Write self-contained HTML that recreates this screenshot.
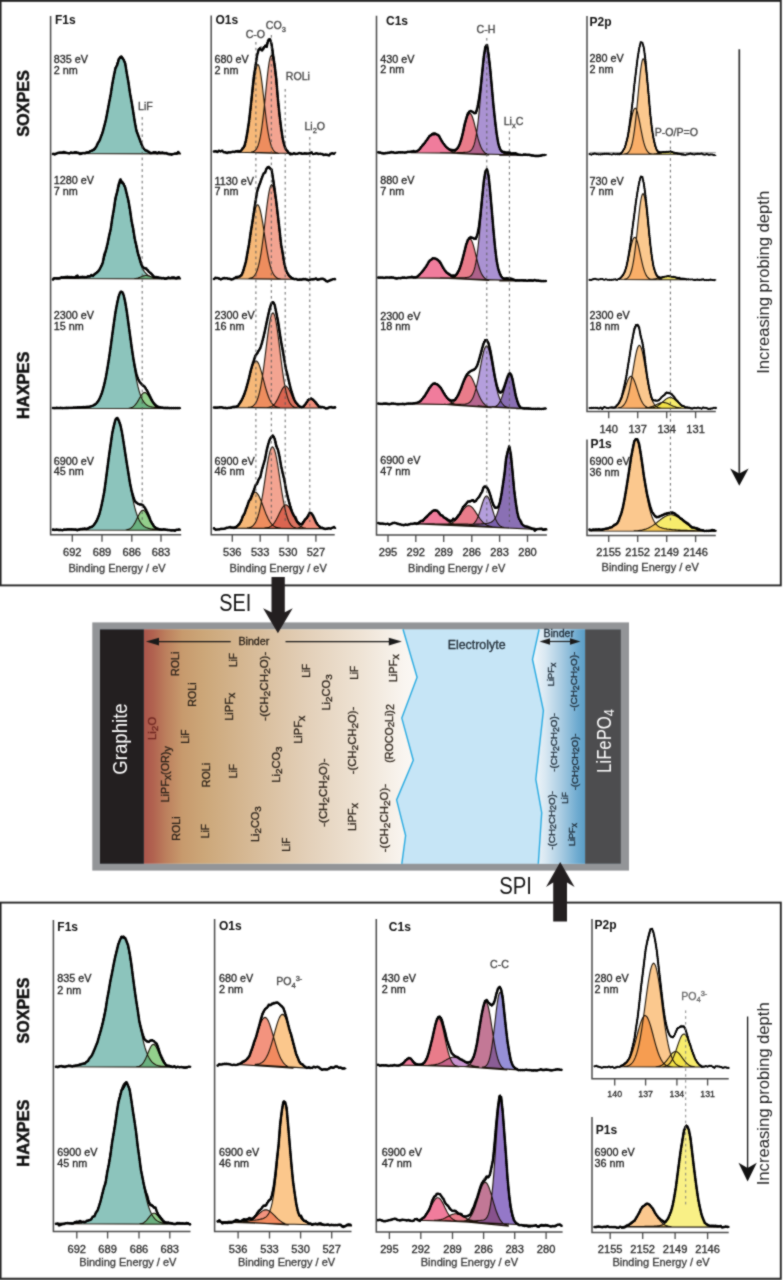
<!DOCTYPE html>
<html><head><meta charset="utf-8"><title>XPS depth profiling figure</title>
<style>html,body{margin:0;padding:0;background:#fff}svg{display:block}#fig{width:783px;height:1280px;overflow:hidden}.m{mix-blend-mode:multiply}</style></head>
<body>
<div id="fig">
<svg width="783" height="1280" viewBox="0 0 783 1280" font-family='"Liberation Sans", Arial, Helvetica, sans-serif'>
<defs><filter id="soft" x="0" y="0" width="783" height="1280" filterUnits="userSpaceOnUse" color-interpolation-filters="sRGB"><feConvolveMatrix order="3" kernelMatrix="1 2 1 2 10 2 1 2 1" divisor="22" edgeMode="duplicate" preserveAlpha="true"/></filter></defs>
<g filter="url(#soft)">
<rect width="783" height="1280" fill="#fff"/>
<rect x="0.6" y="0.9" width="780.2" height="584.5" fill="none" stroke="#262626" stroke-width="1.9"/>
<rect x="0.6" y="902.6" width="780.2" height="376.1" fill="none" stroke="#262626" stroke-width="1.9"/>
<path d="M53 153.2l.8 0 .8 0 .8 0 .8 0 .8 0 .8 0 .8 0 .8 0 .8 0 .8 0 .8 0 .8 0 .8 0 .8-.1 .8 0 .8 0 .8 0 .8 0 .8 0 .8 0 .8 0 .8 0 .8-.1 .8 0 .8 0 .8 0 .9 0 .8 0 .8-.1 .8 0 .8 0 .8 0 .8-.1 .8 0 .8-.1 .8 0 .8-.1 .8 0 .8-.1 .8-.1 .8-.1 .8-.1 .8-.2 .8-.2 .8-.2 .8-.3 .8-.3 .8-.4 .8-.5 .8-.6 .8-.6 .8-.8 .8-.8 .8-1.1 .8-1.1 .8-1.4 .8-1.5 .8-1.7 .8-2 .8-2.1 .8-2.4 .8-2.6 .8-2.9 .8-3.1 .8-3.3 .8-3.5 .8-3.8 .8-4 .8-4.1 .8-4.2 .8-4.4 .8-4.4 .8-4.4 .8-4.4 .8-4.2 .8-4.1 .8-3.9 .8-3.6 .8-3.3 .9-2.9 .8-2.4 .8-2 .8-1.4 .8-.9 .8-.3 .8 .4 .8 1.1 .8 1.9 .8 2.6 .8 3.2 .8 3.7 .8 4.3 .8 4.5 .8 4.9 .8 5 .8 5.2 .8 5.1 .8 5.1 .8 5 .8 4.7 .8 4.5 .8 4.3 .8 3.9 .8 3.7 .8 3.3 .8 3 .8 2.6 .8 2.4 .8 2 .8 1.8 .8 1.6 .8 1.3 .8 1.1 .8 .9 .8 .8 .8 .7 .8 .5 .8 .5 .8 .3 .8 .3 .8 .3 .8 .1 .8 .2 .8 .1 .8 .1 .8 .1 .8 .1 .8 0 .8 .1 .8 0 .8 .1 .8 0 .9 0 .8 0 .8 .1 .8 0 .8 0 .8 0 .8 0 .8 .1 .8 0 .8 0 .8 0 .8 0 .8 0 .8 0 .8 .1 .8 0 .8 0 .8 0 .8 0 .8 0 .8 0 .8 0 .8 0 .8 0 .8 0 .8 0 .8 .1 0 .2 -127.5-.4z" fill="#8cc4bc"/>
<path d="M53 153.2l.8 0 .8 0 .8 0 .8 0 .8 0 .8 0 .8 0 .8 0 .8 0 .8 0 .8 0 .8 0 .8 0 .8-.1 .8 0 .8 0 .8 0 .8 0 .8 0 .8 0 .8 0 .8 0 .8-.1 .8 0 .8 0 .8 0 .9 0 .8 0 .8-.1 .8 0 .8 0 .8 0 .8-.1 .8 0 .8-.1 .8 0 .8-.1 .8 0 .8-.1 .8-.1 .8-.1 .8-.1 .8-.2 .8-.2 .8-.2 .8-.3 .8-.3 .8-.4 .8-.5 .8-.6 .8-.6 .8-.8 .8-.8 .8-1.1 .8-1.1 .8-1.4 .8-1.5 .8-1.7 .8-2 .8-2.1 .8-2.4 .8-2.6 .8-2.9 .8-3.1 .8-3.3 .8-3.5 .8-3.8 .8-4 .8-4.1 .8-4.2 .8-4.4 .8-4.4 .8-4.4 .8-4.4 .8-4.2 .8-4.1 .8-3.9 .8-3.6 .8-3.3 .9-2.9 .8-2.4 .8-2 .8-1.4 .8-.9 .8-.3 .8 .4 .8 1.1 .8 1.9 .8 2.6 .8 3.2 .8 3.7 .8 4.3 .8 4.5 .8 4.9 .8 5 .8 5.2 .8 5.1 .8 5.1 .8 5 .8 4.7 .8 4.5 .8 4.3 .8 3.9 .8 3.7 .8 3.3 .8 3 .8 2.6 .8 2.4 .8 2 .8 1.8 .8 1.6 .8 1.3 .8 1.1 .8 .9 .8 .8 .8 .7 .8 .5 .8 .5 .8 .3 .8 .3 .8 .3 .8 .1 .8 .2 .8 .1 .8 .1 .8 .1 .8 .1 .8 0 .8 .1 .8 0 .8 .1 .8 0 .9 0 .8 0 .8 .1 .8 0 .8 0 .8 0 .8 0 .8 .1 .8 0 .8 0 .8 0 .8 0 .8 0 .8 0 .8 .1 .8 0 .8 0 .8 0 .8 0 .8 0 .8 0 .8 0 .8 0 .8 0 .8 0 .8 0 .8 .1 0 .2 -127.5-.4z" fill="none" stroke="#1a1208" stroke-width="1.1"/>
<path d="M59.4 153.2l.8 0 .8 0 .8 0 .8 0 .8 0 .8-.1 .8 0 .8 0 .8 0 .8 0 .8 0 .8 0 .8 0 .8 0 .8-.1 .8 0 .8 0 .8 0 .9 0 .8 0 .8-.1 .8 0 .8 0 .8 0 .8-.1 .8 0 .8-.1 .8 0 .8-.1 .8 0 .8-.1 .8-.1 .8-.1 .8-.1 .8-.2 .8-.2 .8-.2 .8-.3 .8-.3 .8-.4 .8-.5 .8-.6 .8-.6 .8-.8 .8-.8 .8-1.1 .8-1.1 .8-1.4 .8-1.5 .8-1.7 .8-2 .8-2.1 .8-2.4 .8-2.6 .8-2.9 .8-3.1 .8-3.3 .8-3.5 .8-3.8 .8-4 .8-4.1 .8-4.2 .8-4.4 .8-4.4 .8-4.4 .8-4.4 .8-4.2 .8-4.1 .8-3.9 .8-3.6 .8-3.3 .9-2.9 .8-2.4 .8-2 .8-1.4 .8-.9 .8-.3 .8 .4 .8 1.1 .8 1.9 .8 2.6 .8 3.2 .8 3.7 .8 4.3 .8 4.5 .8 4.9 .8 5 .8 5.2 .8 5.1 .8 5.1 .8 5 .8 4.7 .8 4.5 .8 4.3 .8 3.9 .8 3.7 .8 3.3 .8 3 .8 2.6 .8 2.4 .8 2 .8 1.8 .8 1.6 .8 1.3 .8 1.1 .8 .9 .8 .8 .8 .7 .8 .5 .8 .5 .8 .3 .8 .3 .8 .3 .8 .1 .8 .2 .8 .1 .8 .1 .8 .1 .8 .1 .8 0 .8 .1 .8 0 .8 .1 .8 0 .9 0 .8 0 .8 .1 .8 0 .8 0 .8 0 .8 0 .8 .1 .8 0 .8 0 .8 0 .8 0 .8 0 .8 0 .8 .1 .8 0 .8 0 .8 0 .8 0" fill="none" stroke="#111" stroke-width=".9"/>
<g fill="none" stroke="#000" stroke-linejoin="round" stroke-linecap="round"><path d="M53 154l1.6 .4 1.6-.6 1.6-.8 1.6-.5 1.6 .4 1.6-.5 1.6-.4 1.6 .7 1.6 .3 1.6 .4 1.6-.8 1.6 .2 1.6 .1 1.7-.9 1.6 .8 1.6 .2 1.6 1.3 1.6-.8 1.6-.7 1.6 .5 1.6-.6 1.6-.1 1.6-1.2 1.6-.6 1.6-.5 1.6-1.3 1.6-2.3 1.6-3.6 1.6-2.5 1.6-4.1 1.6-4.4 1.6-6.1 1.6-6.1 1.6-8.5 1.6-8.5 1.6-8.2 1.6-10.6 1.6-8.4 1.6-7.6 1.7-3.1 1.6-5.7 1.6-1.9 1.6 .2 1.6 2 1.6 3.7 1.6 10.1 1.6 8.8 1.6 11.1 1.6 8.5 1.6 9.9 1.6 10.5 1.6 8.4 1.6 4.3 1.6 4.1 1.6 4.5 1.6 3.8 1.6 2 1.6 1.5 1.6 .2 1.6 1.3 1.6 1 1.6-.4 1.6-.7 1.6 .1 1.6 1 1.6-1 1.7 .5 1.6-.2 1.6 .4 1.6 .1 1.6 .2 1.6 1 1.6-.1 1.6 .4 1.6-.6 1.6-.5 1.6 .3 1.6-1.7 1.6 .8" stroke-width="1.7"/><path d="M53 154l1.6 .4 1.6-.6 1.6-.8 1.6-.5 1.6 .4 1.6-.5 1.6-.4 1.6 .7 1.6 .3 1.6 .4 1.6-.8 1.6 .2 1.6 .1 1.7-.9 1.6 .8 1.6 .2 1.6 1.3 1.6-.8 1.6-.7 1.6 .5 1.6-.6 1.6-.1 1.6-1.2 1.6-.6 1.6-.5 1.6-1.3 1.6-2.3 1.6-3.6 1.6-2.5 1.6-4.1 1.6-4.4 1.6-6.1 1.6-6.1 1.6-8.5 1.6-8.5 1.6-8.2 1.6-10.6 1.6-8.4 1.6-7.6 1.7-3.1 1.6-5.7 1.6-1.9 1.6 .2 1.6 2 1.6 3.7 1.6 10.1 1.6 8.8 1.6 11.1 1.6 8.5 1.6 9.9 1.6 10.5 1.6 8.4 1.6 4.3 1.6 4.1 1.6 4.5 1.6 3.8 1.6 2 1.6 1.5 1.6 .2 1.6 1.3 1.6 1 1.6-.4 1.6-.7 1.6 .1 1.6 1 1.6-1 1.7 .5 1.6-.2 1.6 .4 1.6 .1 1.6 .2 1.6 1 1.6-.1 1.6 .4 1.6-.6 1.6-.5 1.6 .3 1.6-1.7 1.6 .8" stroke-width="2.7" stroke-dasharray="0 1.9"/></g>
<path d="M53 278.1l.8 0 .8 0 .8 0 .8 0 .8 0 .8-.1 .8 0 .8 0 .8 0 .8 0 .8 0 .8 0 .8 0 .8-.1 .8 0 .8 0 .8 0 .8 0 .8 0 .8-.1 .8 0 .8 0 .8 0 .8 0 .8-.1 .8 0 .9 0 .8 0 .8-.1 .8 0 .8 0 .8-.1 .8 0 .8 0 .8-.1 .8 0 .8-.1 .8 0 .8-.1 .8-.1 .8 0 .8-.1 .8-.1 .8-.2 .8-.1 .8-.2 .8-.1 .8-.3 .8-.2 .8-.4 .8-.4 .8-.4 .8-.6 .8-.6 .8-.8 .8-.9 .8-1 .8-1.2 .8-1.4 .8-1.6 .8-1.8 .8-2 .8-2.3 .8-2.5 .8-2.8 .8-3.1 .8-3.4 .8-3.6 .8-3.9 .8-4.1 .8-4.3 .8-4.4 .8-4.6 .8-4.7 .8-4.7 .8-4.6 .8-4.6 .8-4.3 .8-4.1 .9-3.8 .8-3.3 .8-2.9 .8-2.3 .8-1.7 .8-1.1 .8-.3 .8 .3 .8 1.2 .8 1.8 .8 2.5 .8 3.2 .8 3.6 .8 4.1 .8 4.4 .8 4.7 .8 4.9 .8 4.9 .8 5 .8 4.9 .8 4.8 .8 4.6 .8 4.4 .8 4.1 .8 3.9 .8 3.6 .8 3.2 .8 3 .8 2.7 .8 2.4 .8 2.1 .8 1.8 .8 1.6 .8 1.4 .8 1.2 .8 1.1 .8 .8 .8 .8 .8 .6 .8 .5 .8 .4 .8 .4 .8 .3 .8 .2 .8 .2 .8 .2 .8 .1 .8 .2 .8 .1 .8 .1 .8 0 .8 .1 .8 .1 .9 0 .8 .1 .8 0 .8 .1 .8 0 .8 0 .8 .1 .8 0 .8 0 .8 .1 .8 0 .8 0 .8 .1 .8 0 .8 0 .8 0 .8 0 .8 .1 .8 0 .8 0 .8 0 .8 0 .8 0 .8 .1 .8 0 .8 0 .8 0 0 .5 -127.5-.5z" fill="#8cc4bc"/>
<path d="M134.8 278.7l.8-.2 .8-.1 .8-.2 .8-.2 .8-.3 .8-.3 .8-.3 .8-.3 .8-.4 .8-.3 .8-.2 .8-.2 .8-.2 .8 0 .8 0 .8 .2 .8 .2 .8 .2 .8 .4 .8 .3 .8 .3 .8 .4 .8 .3 .8 .2 .8 .3 .8 .2 .8 .1 .8 .1 0 .3 -22.4-.1z" fill="#93d08c"/>
<path d="M134.8 278.7l.8-.2 .8-.1 .8-.2 .8-.2 .8-.3 .8-.3 .8-.3 .8-.3 .8-.4 .8-.3 .8-.2 .8-.2 .8-.2 .8 0 .8 0 .8 .2 .8 .2 .8 .2 .8 .4 .8 .3 .8 .3 .8 .4 .8 .3 .8 .2 .8 .3 .8 .2 .8 .1 .8 .1 0 .3 -22.4-.1z" fill="#6ab180"/>
<path d="M53 278.1l.8 0 .8 0 .8 0 .8 0 .8 0 .8-.1 .8 0 .8 0 .8 0 .8 0 .8 0 .8 0 .8 0 .8-.1 .8 0 .8 0 .8 0 .8 0 .8 0 .8-.1 .8 0 .8 0 .8 0 .8 0 .8-.1 .8 0 .9 0 .8 0 .8-.1 .8 0 .8 0 .8-.1 .8 0 .8 0 .8-.1 .8 0 .8-.1 .8 0 .8-.1 .8-.1 .8 0 .8-.1 .8-.1 .8-.2 .8-.1 .8-.2 .8-.1 .8-.3 .8-.2 .8-.4 .8-.4 .8-.4 .8-.6 .8-.6 .8-.8 .8-.9 .8-1 .8-1.2 .8-1.4 .8-1.6 .8-1.8 .8-2 .8-2.3 .8-2.5 .8-2.8 .8-3.1 .8-3.4 .8-3.6 .8-3.9 .8-4.1 .8-4.3 .8-4.4 .8-4.6 .8-4.7 .8-4.7 .8-4.6 .8-4.6 .8-4.3 .8-4.1 .9-3.8 .8-3.3 .8-2.9 .8-2.3 .8-1.7 .8-1.1 .8-.3 .8 .3 .8 1.2 .8 1.8 .8 2.5 .8 3.2 .8 3.6 .8 4.1 .8 4.4 .8 4.7 .8 4.9 .8 4.9 .8 5 .8 4.9 .8 4.8 .8 4.6 .8 4.4 .8 4.1 .8 3.9 .8 3.6 .8 3.2 .8 3 .8 2.7 .8 2.4 .8 2.1 .8 1.8 .8 1.6 .8 1.4 .8 1.2 .8 1.1 .8 .8 .8 .8 .8 .6 .8 .5 .8 .4 .8 .4 .8 .3 .8 .2 .8 .2 .8 .2 .8 .1 .8 .2 .8 .1 .8 .1 .8 0 .8 .1 .8 .1 .9 0 .8 .1 .8 0 .8 .1 .8 0 .8 0 .8 .1 .8 0 .8 0 .8 .1 .8 0 .8 0 .8 .1 .8 0 .8 0 .8 0 .8 0 .8 .1 .8 0 .8 0 .8 0 .8 0 .8 0 .8 .1 .8 0 .8 0 .8 0 0 .5 -127.5-.5zM134.8 278.7l.8-.2 .8-.1 .8-.2 .8-.2 .8-.3 .8-.3 .8-.3 .8-.3 .8-.4 .8-.3 .8-.2 .8-.2 .8-.2 .8 0 .8 0 .8 .2 .8 .2 .8 .2 .8 .4 .8 .3 .8 .3 .8 .4 .8 .3 .8 .2 .8 .3 .8 .2 .8 .1 .8 .1 0 .3 -22.4-.1z" fill="none" stroke="#1a1208" stroke-width="1.1"/>
<path d="M53 278.1l.8 0 .8 0 .8 0 .8 0 .8 0 .8-.1 .8 0 .8 0 .8 0 .8 0 .8 0 .8 0 .8 0 .8-.1 .8 0 .8 0 .8 0 .8 0 .8 0 .8-.1 .8 0 .8 0 .8 0 .8 0 .8-.1 .8 0 .9 0 .8 0 .8-.1 .8 0 .8 0 .8-.1 .8 0 .8 0 .8-.1 .8 0 .8-.1 .8 0 .8-.1 .8-.1 .8 0 .8-.1 .8-.1 .8-.2 .8-.1 .8-.2 .8-.1 .8-.3 .8-.2 .8-.4 .8-.4 .8-.4 .8-.6 .8-.6 .8-.8 .8-.9 .8-1 .8-1.2 .8-1.4 .8-1.6 .8-1.8 .8-2 .8-2.3 .8-2.5 .8-2.8 .8-3.1 .8-3.4 .8-3.6 .8-3.9 .8-4.1 .8-4.3 .8-4.4 .8-4.6 .8-4.7 .8-4.7 .8-4.6 .8-4.6 .8-4.3 .8-4.1 .9-3.8 .8-3.3 .8-2.9 .8-2.3 .8-1.7 .8-1.1 .8-.3 .8 .3 .8 1.2 .8 1.8 .8 2.5 .8 3.2 .8 3.6 .8 4.1 .8 4.4 .8 4.7 .8 4.9 .8 4.9 .8 5 .8 4.8 .8 4.8 .8 4.5 .8 4.3 .8 4 .8 3.7 .8 3.4 .8 3.1 .8 2.7 .8 2.3 .8 2.1 .8 1.8 .8 1.5 .8 1.3 .8 1.1 .8 1 .8 .9 .8 .8 .8 .8 .8 .7 .8 .8 .8 .7 .8 .6 .8 .7 .8 .6 .8 .5 .8 .5 .8 .4 .8 .3 .8 .3 .8 .3 .8 .2 .8 .1 .8 .1 .9 .1 .8 .1 .8 .1 .8 .1 .8 0 .8 0 .8 .1 .8 0 .8 0 .8 .1 .8 0 .8 0 .8 .1 .8 0 .8 0 .8 0 .8 0 .8 .1 .8 0 .8 0 .8 0 .8 0 .8 0 .8 .1 .8 0 .8 0 .8 0" fill="none" stroke="#111" stroke-width=".9"/>
<g fill="none" stroke="#000" stroke-linejoin="round" stroke-linecap="round"><path d="M53 279.5l1.6-1.2 1.6 .1 1.6-.1 1.6 .3 1.6-1.2 1.6 .1 1.6-.2 1.6-.3 1.6-.1 1.6 .2 1.6 .2 1.6-.3 1.6 .6 1.7-.3 1.6-1.8 1.6 1.8 1.6-.2 1.6-.3 1.6 .4 1.6 0 1.6-.2 1.6-.8 1.6 .1 1.6-1.3 1.6 .9 1.6-2 1.6-.9 1.6-1.4 1.6-2 1.6-3.2 1.6-3.4 1.6-8.2 1.6-4.4 1.6-6.4 1.6-8 1.6-6.7 1.6-11.1 1.6-9.1 1.6-11.2 1.7-6.1 1.6-7.8 1.6-4.7 1.6 3.3 1.6 1.5 1.6 3.5 1.6 6.6 1.6 6.4 1.6 9.2 1.6 11.4 1.6 7.6 1.6 10.4 1.6 6.5 1.6 7.7 1.6 4.6 1.6 6 1.6 3.2 1.6 1 1.6 .2 1.6 1.7 1.6 2.1 1.6 .9 1.6 1.9 1.6 1.7 1.6 .3 1.6 0 1.6 .9 1.7-.2 1.6 .6 1.6-.4 1.6 1.1 1.6-.7 1.6-.7 1.6 .4 1.6-.3 1.6-.3 1.6 .4 1.6 .8 1.6-1.5 1.6 .7" stroke-width="1.7"/><path d="M53 279.5l1.6-1.2 1.6 .1 1.6-.1 1.6 .3 1.6-1.2 1.6 .1 1.6-.2 1.6-.3 1.6-.1 1.6 .2 1.6 .2 1.6-.3 1.6 .6 1.7-.3 1.6-1.8 1.6 1.8 1.6-.2 1.6-.3 1.6 .4 1.6 0 1.6-.2 1.6-.8 1.6 .1 1.6-1.3 1.6 .9 1.6-2 1.6-.9 1.6-1.4 1.6-2 1.6-3.2 1.6-3.4 1.6-8.2 1.6-4.4 1.6-6.4 1.6-8 1.6-6.7 1.6-11.1 1.6-9.1 1.6-11.2 1.7-6.1 1.6-7.8 1.6-4.7 1.6 3.3 1.6 1.5 1.6 3.5 1.6 6.6 1.6 6.4 1.6 9.2 1.6 11.4 1.6 7.6 1.6 10.4 1.6 6.5 1.6 7.7 1.6 4.6 1.6 6 1.6 3.2 1.6 1 1.6 .2 1.6 1.7 1.6 2.1 1.6 .9 1.6 1.9 1.6 1.7 1.6 .3 1.6 0 1.6 .9 1.7-.2 1.6 .6 1.6-.4 1.6 1.1 1.6-.7 1.6-.7 1.6 .4 1.6-.3 1.6-.3 1.6 .4 1.6 .8 1.6-1.5 1.6 .7" stroke-width="2.7" stroke-dasharray="0 1.9"/></g>
<path d="M53 408l.8 0 .8 0 .8 0 .8 0 .8 0 .8 0 .8 0 .8-.1 .8 0 .8 0 .8 0 .8 0 .8 0 .8 0 .8 0 .8 0 .8-.1 .8 0 .8 0 .8 0 .8 0 .8 0 .8 0 .8-.1 .8 0 .8 0 .9 0 .8 0 .8-.1 .8 0 .8 0 .8 0 .8-.1 .8 0 .8 0 .8-.1 .8 0 .8 0 .8-.1 .8 0 .8-.1 .8-.1 .8-.1 .8-.1 .8-.1 .8-.2 .8-.1 .8-.3 .8-.2 .8-.4 .8-.4 .8-.4 .8-.6 .8-.8 .8-.8 .8-1 .8-1.2 .8-1.4 .8-1.7 .8-1.9 .8-2.2 .8-2.5 .8-2.9 .8-3.2 .8-3.6 .8-3.9 .8-4.3 .8-4.6 .8-5 .8-5.3 .8-5.5 .8-5.8 .8-5.9 .8-5.9 .8-6 .8-5.8 .8-5.6 .8-5.4 .8-4.9 .9-4.4 .8-3.8 .8-3.1 .8-2.3 .8-1.5 .8-.6 .8 .3 .8 1.3 .8 2.3 .8 3 .8 3.9 .8 4.6 .8 5.1 .8 5.6 .8 5.9 .8 6.1 .8 6.2 .8 6.2 .8 6.2 .8 5.9 .8 5.7 .8 5.5 .8 5 .8 4.7 .8 4.4 .8 3.9 .8 3.5 .8 3.1 .8 2.8 .8 2.4 .8 2.1 .8 1.7 .8 1.6 .8 1.2 .8 1.1 .8 .9 .8 .8 .8 .6 .8 .5 .8 .4 .8 .3 .8 .3 .8 .2 .8 .2 .8 .1 .8 .2 .8 .1 .8 .1 .8 0 .8 .1 .8 0 .8 .1 .8 0 .9 .1 .8 0 .8 0 .8 .1 .8 0 .8 0 .8 0 .8 .1 .8 0 .8 0 .8 0 .8 0 .8 .1 .8 0 .8 0 .8 0 .8 0 .8 0 .8 .1 .8 0 .8 0 .8 0 .8 0 .8 0 .8 0 .8 0 .8 0 0 .4 -127.5-.2z" fill="#8cc4bc"/>
<path d="M129.2 408.2l.8-.2 .8-.2 .8-.3 .8-.3 .8-.5 .8-.6 .8-.8 .8-.9 .8-1 .8-1.2 .8-1.3 .8-1.4 .8-1.4 .8-1.4 .8-1.3 .8-1.1 .8-.9 .8-.6 .8-.3 .8 .1 .8 .3 .8 .7 .8 1 .8 1.2 .8 1.3 .8 1.4 .8 1.4 .8 1.4 .8 1.2 .8 1.2 .8 1 .8 .9 .8 .7 .8 .6 .8 .4 .8 .4 .8 .2 .9 .2 .8 .1 0 .3 -31.3 0z" fill="#93d08c"/>
<path d="M129.2 408.2l.8-.2 .8-.2 .8-.3 .8-.3 .8-.5 .8-.6 .8-.8 .8-.9 .8-1 .8-1.2 .8-1.3 .8-1.4 .8-1.4 .8-1.4 .8 .4 .8 1.7 .8 1.6 .8 1.2 .8 1.1 .8 .9 .8 .8 .8 .6 .8 .5 .8 .4 .8 .3 .8 .3 .8 .2 .8 .2 .8 .1 .8 .2 .8 .1 .8 .1 .8 0 .8 .1 .8 0 .8 .2 .8 .2 .9 .2 .8 .1 0 .3 -31.3 0z" fill="#6ab180"/>
<path d="M53 408l.8 0 .8 0 .8 0 .8 0 .8 0 .8 0 .8 0 .8-.1 .8 0 .8 0 .8 0 .8 0 .8 0 .8 0 .8 0 .8 0 .8-.1 .8 0 .8 0 .8 0 .8 0 .8 0 .8 0 .8-.1 .8 0 .8 0 .9 0 .8 0 .8-.1 .8 0 .8 0 .8 0 .8-.1 .8 0 .8 0 .8-.1 .8 0 .8 0 .8-.1 .8 0 .8-.1 .8-.1 .8-.1 .8-.1 .8-.1 .8-.2 .8-.1 .8-.3 .8-.2 .8-.4 .8-.4 .8-.4 .8-.6 .8-.8 .8-.8 .8-1 .8-1.2 .8-1.4 .8-1.7 .8-1.9 .8-2.2 .8-2.5 .8-2.9 .8-3.2 .8-3.6 .8-3.9 .8-4.3 .8-4.6 .8-5 .8-5.3 .8-5.5 .8-5.8 .8-5.9 .8-5.9 .8-6 .8-5.8 .8-5.6 .8-5.4 .8-4.9 .9-4.4 .8-3.8 .8-3.1 .8-2.3 .8-1.5 .8-.6 .8 .3 .8 1.3 .8 2.3 .8 3 .8 3.9 .8 4.6 .8 5.1 .8 5.6 .8 5.9 .8 6.1 .8 6.2 .8 6.2 .8 6.2 .8 5.9 .8 5.7 .8 5.5 .8 5 .8 4.7 .8 4.4 .8 3.9 .8 3.5 .8 3.1 .8 2.8 .8 2.4 .8 2.1 .8 1.7 .8 1.6 .8 1.2 .8 1.1 .8 .9 .8 .8 .8 .6 .8 .5 .8 .4 .8 .3 .8 .3 .8 .2 .8 .2 .8 .1 .8 .2 .8 .1 .8 .1 .8 0 .8 .1 .8 0 .8 .1 .8 0 .9 .1 .8 0 .8 0 .8 .1 .8 0 .8 0 .8 0 .8 .1 .8 0 .8 0 .8 0 .8 0 .8 .1 .8 0 .8 0 .8 0 .8 0 .8 0 .8 .1 .8 0 .8 0 .8 0 .8 0 .8 0 .8 0 .8 0 .8 0 0 .4 -127.5-.2zM129.2 408.2l.8-.2 .8-.2 .8-.3 .8-.3 .8-.5 .8-.6 .8-.8 .8-.9 .8-1 .8-1.2 .8-1.3 .8-1.4 .8-1.4 .8-1.4 .8-1.3 .8-1.1 .8-.9 .8-.6 .8-.3 .8 .1 .8 .3 .8 .7 .8 1 .8 1.2 .8 1.3 .8 1.4 .8 1.4 .8 1.4 .8 1.2 .8 1.2 .8 1 .8 .9 .8 .7 .8 .6 .8 .4 .8 .4 .8 .2 .9 .2 .8 .1 0 .3 -31.3 0z" fill="none" stroke="#1a1208" stroke-width="1.1"/>
<path d="M53.8 408l.8 0 .8 0 .8 0 .8 0 .8 0 .8 0 .8-.1 .8 0 .8 0 .8 0 .8 0 .8 0 .8 0 .8 0 .8 0 .8-.1 .8 0 .8 0 .8 0 .8 0 .8 0 .8 0 .8-.1 .8 0 .8 0 .9 0 .8 0 .8-.1 .8 0 .8 0 .8 0 .8-.1 .8 0 .8 0 .8-.1 .8 0 .8 0 .8-.1 .8 0 .8-.1 .8-.1 .8-.1 .8-.1 .8-.1 .8-.2 .8-.1 .8-.3 .8-.2 .8-.4 .8-.4 .8-.4 .8-.6 .8-.8 .8-.8 .8-1 .8-1.2 .8-1.4 .8-1.7 .8-1.9 .8-2.2 .8-2.5 .8-2.9 .8-3.2 .8-3.6 .8-3.9 .8-4.3 .8-4.6 .8-5 .8-5.3 .8-5.5 .8-5.8 .8-5.9 .8-5.9 .8-6 .8-5.8 .8-5.6 .8-5.4 .8-4.9 .9-4.4 .8-3.8 .8-3.1 .8-2.3 .8-1.5 .8-.6 .8 .3 .8 1.3 .8 2.2 .8 3.1 .8 3.9 .8 4.5 .8 5.1 .8 5.5 .8 5.9 .8 6 .8 6.1 .8 6 .8 5.8 .8 5.6 .8 5.3 .8 4.8 .8 4.3 .8 3.8 .8 3.2 .8 2.8 .8 2.2 .8 1.7 .8 1.3 .8 1.1 .8 .8 .8 .6 .8 .7 .8 .7 .8 .7 .8 1 .8 1.1 .8 1.3 .8 1.5 .8 1.6 .8 1.6 .8 1.7 .8 1.6 .8 1.6 .8 1.4 .8 1.3 .8 1.1 .8 .9 .8 .8 .8 .6 .8 .6 .8 .3 .8 .3 .9 .3 .8 .1 .8 .2 .8 .1 .8 0 .8 .1 .8 0 .8 0 .8 .1 .8 0 .8 0 .8 0 .8 .1 .8 0 .8 0 .8 0 .8 0 .8 0 .8 .1 .8 0 .8 0 .8 0 .8 0 .8 0 .8 0 .8 0 .8 0" fill="none" stroke="#111" stroke-width=".9"/>
<g fill="none" stroke="#000" stroke-linejoin="round" stroke-linecap="round"><path d="M53 408l1.6 .1 1.6-.2 1.6 .1 1.6 0 1.6-.1 1.6 .2 1.6-.1 1.6-.1 1.6 0 1.6 .1 1.6-.2 1.6 0 1.6-.2 1.7 0 1.6-.1 1.6-.1 1.6-.1 1.6-.1 1.6 0 1.6 0 1.6-.2 1.6-.1 1.6-.4 1.6-.3 1.6-.6 1.6-.8 1.6-1.4 1.6-1.9 1.6-2.8 1.6-3.5 1.6-4.9 1.6-6.1 1.6-7.1 1.6-9.3 1.6-9.9 1.6-11.2 1.6-12 1.6-11.6 1.6-10.9 1.7-9.2 1.6-7.1 1.6-4 1.6-.3 1.6 3.3 1.6 7.1 1.6 9.6 1.6 11.7 1.6 11.6 1.6 11.9 1.6 10.8 1.6 9 1.6 7.6 1.6 4.5 1.6 3.2 1.6 1.9 1.6 1.7 1.6 1 1.6 2.4 1.6 2.6 1.6 3.3 1.6 3.2 1.6 3.1 1.6 2.3 1.6 1.7 1.6 1.3 1.6 .8 1.7 .1 1.6 .4 1.6 .2 1.6 0 1.6 0 1.6 0 1.6 .2 1.6 0 1.6 0 1.6 0 1.6 0 1.6 0 1.6-.1" stroke-width="1.7"/><path d="M53 408l1.6 .1 1.6-.2 1.6 .1 1.6 0 1.6-.1 1.6 .2 1.6-.1 1.6-.1 1.6 0 1.6 .1 1.6-.2 1.6 0 1.6-.2 1.7 0 1.6-.1 1.6-.1 1.6-.1 1.6-.1 1.6 0 1.6 0 1.6-.2 1.6-.1 1.6-.4 1.6-.3 1.6-.6 1.6-.8 1.6-1.4 1.6-1.9 1.6-2.8 1.6-3.5 1.6-4.9 1.6-6.1 1.6-7.1 1.6-9.3 1.6-9.9 1.6-11.2 1.6-12 1.6-11.6 1.6-10.9 1.7-9.2 1.6-7.1 1.6-4 1.6-.3 1.6 3.3 1.6 7.1 1.6 9.6 1.6 11.7 1.6 11.6 1.6 11.9 1.6 10.8 1.6 9 1.6 7.6 1.6 4.5 1.6 3.2 1.6 1.9 1.6 1.7 1.6 1 1.6 2.4 1.6 2.6 1.6 3.3 1.6 3.2 1.6 3.1 1.6 2.3 1.6 1.7 1.6 1.3 1.6 .8 1.7 .1 1.6 .4 1.6 .2 1.6 0 1.6 0 1.6 0 1.6 .2 1.6 0 1.6 0 1.6 0 1.6 0 1.6 0 1.6-.1" stroke-width="2.7" stroke-dasharray="0 1.9"/></g>
<path d="M53 529.7l.8 0 .8 0 .8 0 .8 0 .8 0 .8 0 .8 0 .8 0 .8 0 .8-.1 .8 0 .8 0 .8 0 .8 0 .8 0 .8 0 .8 0 .8 0 .8-.1 .8 0 .8 0 .8 0 .8 0 .8 0 .8-.1 .8 0 .9 0 .8 0 .8-.1 .8 0 .8 0 .8 0 .8-.1 .8 0 .8 0 .8-.1 .8 0 .8-.1 .8-.1 .8 0 .8-.1 .8-.1 .8-.2 .8-.2 .8-.2 .8-.2 .8-.4 .8-.4 .8-.4 .8-.7 .8-.7 .8-.9 .8-1.1 .8-1.3 .8-1.6 .8-1.9 .8-2.1 .8-2.5 .8-2.9 .8-3.3 .8-3.6 .8-4.1 .8-4.5 .8-4.9 .8-5.2 .8-5.6 .8-5.9 .8-6 .8-6.1 .8-6.2 .8-6.1 .8-5.8 .8-5.5 .8-5.1 .8-4.5 .8-3.7 .8-2.9 .8-2.1 .8-1 .9-.1 .8 .7 .8 1.5 .8 2.2 .8 2.8 .8 3.4 .8 4 .8 4.3 .8 4.8 .8 5 .8 5.2 .8 5.4 .8 5.3 .8 5.4 .8 5.2 .8 5.1 .8 4.9 .8 4.7 .8 4.4 .8 4.1 .8 3.8 .8 3.5 .8 3.2 .8 2.9 .8 2.6 .8 2.3 .8 2.1 .8 1.7 .8 1.6 .8 1.3 .8 1.2 .8 1 .8 .8 .8 .8 .8 .6 .8 .5 .8 .4 .8 .3 .8 .3 .8 .3 .8 .1 .8 .2 .8 .2 .8 .1 .8 .1 .8 0 .8 .1 .8 .1 .8 0 .8 .1 .8 0 .8 .1 .8 0 .9 0 .8 .1 .8 0 .8 0 .8 0 .8 0 .8 .1 .8 0 .8 0 .8 0 .8 0 .8 .1 .8 0 .8 0 .8 0 .8 0 .8 0 .8 0 .8 .1 .8 0 .8 0 .8 0 .8 0 .8 0 .8 0 .8 0 .8 0 0 .4 -127.5-.3z" fill="#8cc4bc"/>
<path d="M126 530l.8-.2 .8-.2 .8-.2 .8-.3 .8-.5 .8-.5 .8-.7 .8-.9 .8-1 .8-1.2 .8-1.4 .8-1.5 .8-1.6 .8-1.7 .8-1.6 .8-1.6 .8-1.5 .8-1.2 .8-1 .8-.6 .8-.3 .8 .1 .8 .5 .8 .8 .8 1.1 .8 1.4 .8 1.5 .8 1.7 .8 1.7 .8 1.6 .8 1.6 .8 1.4 .8 1.3 .8 1.1 .8 .9 .8 .8 .8 .6 .8 .5 .8 .4 .8 .3 .8 .2 .9 .2 .8 .1 0 .2 -34.5-.1z" fill="#93d08c"/>
<path d="M126 530l.8-.2 .8-.2 .8-.2 .8-.3 .8-.5 .8-.5 .8-.7 .8-.9 .8-1 .8-1.2 .8-1.4 .8-1.5 .8-1.6 .8-1.7 .8-.5 .8 1.7 .8 1.6 .8 1.3 .8 1.2 .8 1 .8 .8 .8 .8 .8 .6 .8 .5 .8 .4 .8 .3 .8 .3 .8 .3 .8 .1 .8 .2 .8 .2 .8 .1 .8 .1 .8 0 .8 .1 .8 .1 .8 0 .8 .1 .8 0 .8 .2 .8 .2 .9 .2 .8 .1 0 .2 -34.5-.1z" fill="#6ab180"/>
<path d="M53 529.7l.8 0 .8 0 .8 0 .8 0 .8 0 .8 0 .8 0 .8 0 .8 0 .8-.1 .8 0 .8 0 .8 0 .8 0 .8 0 .8 0 .8 0 .8 0 .8-.1 .8 0 .8 0 .8 0 .8 0 .8 0 .8-.1 .8 0 .9 0 .8 0 .8-.1 .8 0 .8 0 .8 0 .8-.1 .8 0 .8 0 .8-.1 .8 0 .8-.1 .8-.1 .8 0 .8-.1 .8-.1 .8-.2 .8-.2 .8-.2 .8-.2 .8-.4 .8-.4 .8-.4 .8-.7 .8-.7 .8-.9 .8-1.1 .8-1.3 .8-1.6 .8-1.9 .8-2.1 .8-2.5 .8-2.9 .8-3.3 .8-3.6 .8-4.1 .8-4.5 .8-4.9 .8-5.2 .8-5.6 .8-5.9 .8-6 .8-6.1 .8-6.2 .8-6.1 .8-5.8 .8-5.5 .8-5.1 .8-4.5 .8-3.7 .8-2.9 .8-2.1 .8-1 .9-.1 .8 .7 .8 1.5 .8 2.2 .8 2.8 .8 3.4 .8 4 .8 4.3 .8 4.8 .8 5 .8 5.2 .8 5.4 .8 5.3 .8 5.4 .8 5.2 .8 5.1 .8 4.9 .8 4.7 .8 4.4 .8 4.1 .8 3.8 .8 3.5 .8 3.2 .8 2.9 .8 2.6 .8 2.3 .8 2.1 .8 1.7 .8 1.6 .8 1.3 .8 1.2 .8 1 .8 .8 .8 .8 .8 .6 .8 .5 .8 .4 .8 .3 .8 .3 .8 .3 .8 .1 .8 .2 .8 .2 .8 .1 .8 .1 .8 0 .8 .1 .8 .1 .8 0 .8 .1 .8 0 .8 .1 .8 0 .9 0 .8 .1 .8 0 .8 0 .8 0 .8 0 .8 .1 .8 0 .8 0 .8 0 .8 0 .8 .1 .8 0 .8 0 .8 0 .8 0 .8 0 .8 0 .8 .1 .8 0 .8 0 .8 0 .8 0 .8 0 .8 0 .8 0 .8 0 0 .4 -127.5-.3zM126 530l.8-.2 .8-.2 .8-.2 .8-.3 .8-.5 .8-.5 .8-.7 .8-.9 .8-1 .8-1.2 .8-1.4 .8-1.5 .8-1.6 .8-1.7 .8-1.6 .8-1.6 .8-1.5 .8-1.2 .8-1 .8-.6 .8-.3 .8 .1 .8 .5 .8 .8 .8 1.1 .8 1.4 .8 1.5 .8 1.7 .8 1.7 .8 1.6 .8 1.6 .8 1.4 .8 1.3 .8 1.1 .8 .9 .8 .8 .8 .6 .8 .5 .8 .4 .8 .3 .8 .2 .9 .2 .8 .1 0 .2 -34.5-.1z" fill="none" stroke="#1a1208" stroke-width="1.1"/>
<path d="M56.2 529.7l.8 0 .8 0 .8 0 .8 0 .8 0 .8-.1 .8 0 .8 0 .8 0 .8 0 .8 0 .8 0 .8 0 .8 0 .8-.1 .8 0 .8 0 .8 0 .8 0 .8 0 .8-.1 .8 0 .9 0 .8 0 .8-.1 .8 0 .8 0 .8 0 .8-.1 .8 0 .8 0 .8-.1 .8 0 .8-.1 .8-.1 .8 0 .8-.1 .8-.1 .8-.2 .8-.2 .8-.2 .8-.2 .8-.4 .8-.4 .8-.4 .8-.7 .8-.7 .8-.9 .8-1.1 .8-1.3 .8-1.6 .8-1.9 .8-2.1 .8-2.5 .8-2.9 .8-3.3 .8-3.6 .8-4.1 .8-4.5 .8-4.9 .8-5.2 .8-5.6 .8-5.9 .8-6 .8-6.1 .8-6.2 .8-6.1 .8-5.8 .8-5.5 .8-5.1 .8-4.5 .8-3.7 .8-2.9 .8-2.1 .8-1 .9-.1 .8 .7 .8 1.5 .8 2.2 .8 2.8 .8 3.4 .8 3.9 .8 4.4 .8 4.7 .8 5 .8 5.2 .8 5.2 .8 5.2 .8 5.2 .8 5 .8 4.8 .8 4.4 .8 4.1 .8 3.7 .8 3.3 .8 2.8 .8 2.3 .8 1.8 .8 1.4 .8 1 .8 .6 .8 .4 .8 .2 .8 .1 .8 .1 .8 .1 .8 .4 .8 .6 .8 .8 .8 1 .8 1.4 .8 1.5 .8 1.7 .8 1.9 .8 1.8 .8 1.9 .8 1.8 .8 1.7 .8 1.6 .8 1.3 .8 1.2 .8 1 .8 .9 .8 .7 .8 .5 .8 .4 .8 .4 .8 .2 .9 .2 .8 .1 .8 .1 .8 .1 .8 .1 .8 0 .8 0 .8 .1 .8 0 .8 0 .8 0 .8 .1 .8 0 .8 0 .8 0 .8 0 .8 0 .8 0 .8 .1 .8 0 .8 0 .8 0 .8 0 .8 0 .8 0 .8 0 .8 0" fill="none" stroke="#111" stroke-width=".9"/>
<g fill="none" stroke="#000" stroke-linejoin="round" stroke-linecap="round"><path d="M53 529.7l1.6 .2 1.6-.3 1.6 .2 1.6 .2 1.6-.1 1.6 .4 1.6-.7 1.6 0 1.6-.3 1.6-.1 1.6 .1 1.6 .1 1.6 .1 1.7 .1 1.6 .6 1.6-.3 1.6-.9 1.6 .1 1.6-.3 1.6-.2 1.6 .4 1.6-.6 1.6-1.2 1.6-.2 1.6-1.2 1.6-2 1.6-2.5 1.6-3.3 1.6-4.4 1.6-6.2 1.6-7.5 1.6-8.3 1.6-11.8 1.6-12.4 1.6-12.2 1.6-11 1.6-11.3 1.6-7.1 1.6-6.4 1.7-1.6 1.6 2.7 1.6 4.6 1.6 7.4 1.6 9.9 1.6 10.6 1.6 10.3 1.6 9.8 1.6 10.1 1.6 7.6 1.6 5.6 1.6 4.7 1.6 1.5 1.6 1.2 1.6 .6 1.6 .1 1.6 .5 1.6 2.2 1.6 2.6 1.6 3.4 1.6 3.5 1.6 4.4 1.6 2.5 1.6 2.7 1.6 1.5 1.6 .7 1.6 .8 1.7 .2 1.6 .2 1.6-.5 1.6 .3 1.6 .4 1.6 .1 1.6 .2 1.6 .3 1.6-.2 1.6 .4 1.6-.9 1.6 0 1.6-.7" stroke-width="1.7"/><path d="M53 529.7l1.6 .2 1.6-.3 1.6 .2 1.6 .2 1.6-.1 1.6 .4 1.6-.7 1.6 0 1.6-.3 1.6-.1 1.6 .1 1.6 .1 1.6 .1 1.7 .1 1.6 .6 1.6-.3 1.6-.9 1.6 .1 1.6-.3 1.6-.2 1.6 .4 1.6-.6 1.6-1.2 1.6-.2 1.6-1.2 1.6-2 1.6-2.5 1.6-3.3 1.6-4.4 1.6-6.2 1.6-7.5 1.6-8.3 1.6-11.8 1.6-12.4 1.6-12.2 1.6-11 1.6-11.3 1.6-7.1 1.6-6.4 1.7-1.6 1.6 2.7 1.6 4.6 1.6 7.4 1.6 9.9 1.6 10.6 1.6 10.3 1.6 9.8 1.6 10.1 1.6 7.6 1.6 5.6 1.6 4.7 1.6 1.5 1.6 1.2 1.6 .6 1.6 .1 1.6 .5 1.6 2.2 1.6 2.6 1.6 3.4 1.6 3.5 1.6 4.4 1.6 2.5 1.6 2.7 1.6 1.5 1.6 .7 1.6 .8 1.7 .2 1.6 .2 1.6-.5 1.6 .3 1.6 .4 1.6 .1 1.6 .2 1.6 .3 1.6-.2 1.6 .4 1.6-.9 1.6 0 1.6-.7" stroke-width="2.7" stroke-dasharray="0 1.9"/></g>
<line x1="142.2" y1="117.0" x2="142.2" y2="522.0" stroke="#555" stroke-width="0.9" stroke-dasharray="2.6 3.2"/>
<path d="M50.6,16.0 V534.8 H181.2" fill="none" stroke="#4a4a4a" stroke-width="1.5"/>
<line x1="72.3" y1="534.8" x2="72.3" y2="541.8" stroke="#4a4a4a" stroke-width="1.3"/>
<text x="72.3" y="556.3" font-size="11.1" font-weight="normal" fill="#2a2a2a" text-anchor="middle"  stroke="#2a2a2a" stroke-width=".3">692</text>
<line x1="102.0" y1="534.8" x2="102.0" y2="541.8" stroke="#4a4a4a" stroke-width="1.3"/>
<text x="102.0" y="556.3" font-size="11.1" font-weight="normal" fill="#2a2a2a" text-anchor="middle"  stroke="#2a2a2a" stroke-width=".3">689</text>
<line x1="131.8" y1="534.8" x2="131.8" y2="541.8" stroke="#4a4a4a" stroke-width="1.3"/>
<text x="131.8" y="556.3" font-size="11.1" font-weight="normal" fill="#2a2a2a" text-anchor="middle"  stroke="#2a2a2a" stroke-width=".3">686</text>
<line x1="161.0" y1="534.8" x2="161.0" y2="541.8" stroke="#4a4a4a" stroke-width="1.3"/>
<text x="161.0" y="556.3" font-size="11.1" font-weight="normal" fill="#2a2a2a" text-anchor="middle"  stroke="#2a2a2a" stroke-width=".3">683</text>
<text x="117.0" y="571.6" font-size="11.0" font-weight="normal" fill="#383838" text-anchor="middle"  stroke="#383838" stroke-width=".3">Binding Energy / eV</text>
<text x="55.0" y="24.2" font-size="12.0" font-weight="bold" fill="#111" text-anchor="start" >F1s</text>
<text x="53.8" y="62.8" font-size="10.8" font-weight="normal" fill="#1e1e1e" text-anchor="start"  stroke="#1e1e1e" stroke-width=".3">835 eV</text>
<text x="53.8" y="73.6" font-size="10.8" font-weight="normal" fill="#1e1e1e" text-anchor="start"  stroke="#1e1e1e" stroke-width=".3">2 nm</text>
<text x="53.8" y="184.0" font-size="10.8" font-weight="normal" fill="#1e1e1e" text-anchor="start"  stroke="#1e1e1e" stroke-width=".3">1280 eV</text>
<text x="53.8" y="194.8" font-size="10.8" font-weight="normal" fill="#1e1e1e" text-anchor="start"  stroke="#1e1e1e" stroke-width=".3">7 nm</text>
<text x="53.8" y="319.3" font-size="10.8" font-weight="normal" fill="#1e1e1e" text-anchor="start"  stroke="#1e1e1e" stroke-width=".3">2300 eV</text>
<text x="53.8" y="330.1" font-size="10.8" font-weight="normal" fill="#1e1e1e" text-anchor="start"  stroke="#1e1e1e" stroke-width=".3">15 nm</text>
<text x="53.8" y="464.5" font-size="10.8" font-weight="normal" fill="#1e1e1e" text-anchor="start"  stroke="#1e1e1e" stroke-width=".3">6900 eV</text>
<text x="53.8" y="475.3" font-size="10.8" font-weight="normal" fill="#1e1e1e" text-anchor="start"  stroke="#1e1e1e" stroke-width=".3">45 nm</text>
<text x="138.0" y="110.0" font-size="10.6" font-weight="normal" fill="#444" text-anchor="start"  stroke="#444" stroke-width=".3">LiF</text>
<path d="M237.2 152l.8-.2 .8-.1 .8-.3 .8-.4 .8-.6 .8-.8 .8-1 .8-1.4 .7-1.9 .8-2.3 .8-2.9 .8-3.5 .8-4.2 .8-4.9 .8-5.6 .8-6.1 .8-6.7 .8-7 .8-7 .8-7 .8-6.5 .8-5.8 .8-4.8 .8-3.6 .8-2.2 .8-.7 .8 .9 .8 2.4 .8 3.7 .8 5 .8 5.9 .8 6.6 .8 7 .8 7.2 .8 7 .8 6.6 .8 6.2 .8 5.6 .8 4.9 .8 4.2 .8 3.5 .8 2.9 .8 2.4 .8 1.8 .8 1.4 .8 1.1 .8 .8 .8 .6 .8 .4 .8 .3 .8 .2 .8 .1 0 .2 -41.5-1.2z" fill="#f6b878"/>
<path d="M251.5 152l.8-.1 .8-.2 .8-.4 .8-.5 .8-.7 .8-1 .8-1.3 .8-1.8 .8-2.4 .8-3 .8-3.7 .8-4.5 .8-5.4 .8-6.1 .8-6.9 .8-7.5 .8-7.9 .8-8.2 .8-7.9 .8-7.5 .8-6.7 .8-5.6 .8-4.1 .8-2.5 .8-.6 .8 1.2 .8 3 .8 4.6 .8 5.9 .8 7 .8 7.8 .8 8.1 .8 8.1 .8 7.9 .8 7.4 .8 6.8 .8 6 .8 5.1 .8 4.4 .8 3.5 .8 2.9 .8 2.3 .8 1.7 .8 1.3 .8 .9 .8 .7 .8 .5 .8 .3 .8 .2 .8 .2 0 .2 -40-1.2z" fill="#f3a491"/>
<path d="M251.5 152l.8-.1 .8-.2 .8-.4 .8-.5 .8-.7 .8-1 .8-1.3 .8-1.8 .8-2.4 .8-3 .8-3.7 .8-4.5 .8-5.4 .8-6.1 .8-6.9 .8-7.5 .8 3.7 .8 6.6 .8 6.2 .8 5.6 .8 4.9 .8 4.2 .8 3.5 .8 2.9 .8 2.4 .8 1.8 .8 1.4 .8 1.1 .8 .8 .8 .6 .8 .4 .8 .3 .8 .2 .8 .1 0 .2 -27.2-1.1z" fill="#ee8d5e"/>
<path d="M237.2 152l.8-.2 .8-.1 .8-.3 .8-.4 .8-.6 .8-.8 .8-1 .8-1.4 .7-1.9 .8-2.3 .8-2.9 .8-3.5 .8-4.2 .8-4.9 .8-5.6 .8-6.1 .8-6.7 .8-7 .8-7 .8-7 .8-6.5 .8-5.8 .8-4.8 .8-3.6 .8-2.2 .8-.7 .8 .9 .8 2.4 .8 3.7 .8 5 .8 5.9 .8 6.6 .8 7 .8 7.2 .8 7 .8 6.6 .8 6.2 .8 5.6 .8 4.9 .8 4.2 .8 3.5 .8 2.9 .8 2.4 .8 1.8 .8 1.4 .8 1.1 .8 .8 .8 .6 .8 .4 .8 .3 .8 .2 .8 .1 0 .2 -41.5-1.2zM251.5 152l.8-.1 .8-.2 .8-.4 .8-.5 .8-.7 .8-1 .8-1.3 .8-1.8 .8-2.4 .8-3 .8-3.7 .8-4.5 .8-5.4 .8-6.1 .8-6.9 .8-7.5 .8-7.9 .8-8.2 .8-7.9 .8-7.5 .8-6.7 .8-5.6 .8-4.1 .8-2.5 .8-.6 .8 1.2 .8 3 .8 4.6 .8 5.9 .8 7 .8 7.8 .8 8.1 .8 8.1 .8 7.9 .8 7.4 .8 6.8 .8 6 .8 5.1 .8 4.4 .8 3.5 .8 2.9 .8 2.3 .8 1.7 .8 1.3 .8 .9 .8 .7 .8 .5 .8 .3 .8 .2 .8 .2 0 .2 -40-1.2z" fill="none" stroke="#1a1208" stroke-width="1.1"/>
<path d="M238 151.8l.8-.2 .8-.2 .8-.5 .8-.5 .8-.8 .8-1.1 .8-1.5 .7-1.9 .8-2.4 .8-2.9 .8-3.7 .8-4.4 .8-5.1 .8-5.8 .8-6.5 .8-7 .8-7.5 .8-7.7 .8-7.6 .8-7.5 .8-6.9 .8-6.2 .8-5.3 .8-4.3 .8-3.2 .8-2.2 .8-1.3 .8-.5 .8-.1 .8 .2 .8 .1 .8-.1 .8-.4 .8-.8 .8-1.3 .8-1.4 .8-1.6 .8-1.3 .8-.7 .8 0 .8 1.1 .8 2.3 .8 3.7 .8 5 .8 6.3 .8 7.3 .8 8.1 .8 8.5 .8 8.8 .8 8.7 .8 8.3 .8 7.7 .8 7 .8 6.2 .8 5.3 .8 4.5 .8 3.6 .8 3 .8 2.2 .8 1.8 .8 1.3 .8 1 .8 .7 .8 .4 .8 .4 .8 .2" fill="none" stroke="#111" stroke-width=".9"/>
<g fill="none" stroke="#000" stroke-linejoin="round" stroke-linecap="round"><path d="M214 151.5l1.6-.3 1.6 .9 1.6-1.3 1.6 .7 1.6-1 1.6 1.6 1.6 .2 1.6 .8 1.6-.8 1.6 .2 1.6-.4 1.6-.4 1.6 .3 1.6-.8 1.6 0 1.6 .4 1.6-1.1 1.6-2.3 1.5-1.4 1.6-6.2 1.6-9.1 1.6-10.6 1.6-14.2 1.6-15.3 1.6-15.2 1.6-9.9 1.6-10.9 1.6-5.7 1.6-1.3 1.6 2.3 1.6-2.2 1.6-2.9 1.6 1.2 1.6-6.9 1.6-1 1.6 4.9 1.6 11.6 1.6 10.3 1.6 13.3 1.6 19.9 1.6 15.8 1.6 13.2 1.6 10.7 1.6 6.7 1.6 4.1 1.6 1.8 1.6 2.1 1.6 1.1 1.6-.4 1.6-.6 1.6 .5 1.6 .1 1.6-.9 1.6-.1 1.6 .9 1.6-.3 1.5-.2 1.6 .2 1.6-.1 1.6 0 1.6-1.2 1.6 1.7 1.6-.1 1.6-.8 1.6 .8 1.6 0 1.6-.2 1.6 .5 1.6 1 1.6-.6 1.6 .3 1.6 .5 1.6-1.6 1.6-.5 1.6 .6 1.6-1.3" stroke-width="1.7"/><path d="M214 151.5l1.6-.3 1.6 .9 1.6-1.3 1.6 .7 1.6-1 1.6 1.6 1.6 .2 1.6 .8 1.6-.8 1.6 .2 1.6-.4 1.6-.4 1.6 .3 1.6-.8 1.6 0 1.6 .4 1.6-1.1 1.6-2.3 1.5-1.4 1.6-6.2 1.6-9.1 1.6-10.6 1.6-14.2 1.6-15.3 1.6-15.2 1.6-9.9 1.6-10.9 1.6-5.7 1.6-1.3 1.6 2.3 1.6-2.2 1.6-2.9 1.6 1.2 1.6-6.9 1.6-1 1.6 4.9 1.6 11.6 1.6 10.3 1.6 13.3 1.6 19.9 1.6 15.8 1.6 13.2 1.6 10.7 1.6 6.7 1.6 4.1 1.6 1.8 1.6 2.1 1.6 1.1 1.6-.4 1.6-.6 1.6 .5 1.6 .1 1.6-.9 1.6-.1 1.6 .9 1.6-.3 1.5-.2 1.6 .2 1.6-.1 1.6 0 1.6-1.2 1.6 1.7 1.6-.1 1.6-.8 1.6 .8 1.6 0 1.6-.2 1.6 .5 1.6 1 1.6-.6 1.6 .3 1.6 .5 1.6-1.6 1.6-.5 1.6 .6 1.6-1.3" stroke-width="2.7" stroke-dasharray="0 1.9"/></g>
<path d="M234.8 278.4l.8-.1 .8-.2 .8-.2 .8-.3 .8-.5 .8-.6 .8-.8 .8-1 .8-1.2 .8-1.6 .8-2 .7-2.3 .8-2.8 .8-3.2 .8-3.6 .8-4.1 .8-4.5 .8-4.9 .8-5.1 .8-5.2 .8-5.3 .8-5.1 .8-4.8 .8-4.3 .8-3.7 .8-3 .8-2 .8-1.1 .8-.1 .8 .9 .8 2 .8 2.8 .8 3.6 .8 4.2 .8 4.8 .8 5.1 .8 5.2 .8 5.3 .8 5.2 .8 4.9 .8 4.6 .8 4.2 .8 3.7 .8 3.3 .8 2.9 .8 2.4 .8 2 .8 1.7 .8 1.3 .8 1.1 .8 .8 .8 .6 .8 .5 .8 .4 .8 .3 .8 .2 .8 .1 0 .3 -45.5-.5z" fill="#f6b878"/>
<path d="M249.1 278.5l.8-.2 .8-.2 .8-.2 .8-.4 .8-.5 .8-.7 .8-1 .8-1.2 .8-1.6 .8-1.9 .8-2.5 .8-2.9 .8-3.6 .8-4.1 .8-4.7 .8-5.4 .8-5.9 .8-6.3 .8-6.7 .8-6.9 .8-6.9 .8-6.6 .8-6.2 .8-5.5 .8-4.7 .8-3.6 .8-2.3 .8-1 .8 .4 .8 1.7 .8 3 .8 4.2 .8 5.1 .8 6 .8 6.4 .8 6.9 .8 6.9 .8 6.8 .8 6.6 .8 6.1 .8 5.6 .8 5.1 .8 4.4 .8 3.9 .8 3.2 .8 2.7 .8 2.2 .8 1.8 .8 1.4 .8 1.1 .8 .8 .8 .6 .8 .4 .8 .4 .8 .2 .8 .2 .8 .1 0 .2 -45.6-.5z" fill="#f3a491"/>
<path d="M249.1 278.5l.8-.2 .8-.2 .8-.2 .8-.4 .8-.5 .8-.7 .8-1 .8-1.2 .8-1.6 .8-1.9 .8-2.5 .8-2.9 .8-3.6 .8-4.1 .8-4.7 .8-5.4 .8-5.9 .8-6.3 .8-1.8 .8 5.3 .8 5.2 .8 4.9 .8 4.6 .8 4.2 .8 3.7 .8 3.3 .8 2.9 .8 2.4 .8 2 .8 1.7 .8 1.3 .8 1.1 .8 .8 .8 .6 .8 .5 .8 .4 .8 .3 .8 .2 .8 .1 0 .3 -31.2-.5z" fill="#ee8d5e"/>
<path d="M234.8 278.4l.8-.1 .8-.2 .8-.2 .8-.3 .8-.5 .8-.6 .8-.8 .8-1 .8-1.2 .8-1.6 .8-2 .7-2.3 .8-2.8 .8-3.2 .8-3.6 .8-4.1 .8-4.5 .8-4.9 .8-5.1 .8-5.2 .8-5.3 .8-5.1 .8-4.8 .8-4.3 .8-3.7 .8-3 .8-2 .8-1.1 .8-.1 .8 .9 .8 2 .8 2.8 .8 3.6 .8 4.2 .8 4.8 .8 5.1 .8 5.2 .8 5.3 .8 5.2 .8 4.9 .8 4.6 .8 4.2 .8 3.7 .8 3.3 .8 2.9 .8 2.4 .8 2 .8 1.7 .8 1.3 .8 1.1 .8 .8 .8 .6 .8 .5 .8 .4 .8 .3 .8 .2 .8 .1 0 .3 -45.5-.5zM249.1 278.5l.8-.2 .8-.2 .8-.2 .8-.4 .8-.5 .8-.7 .8-1 .8-1.2 .8-1.6 .8-1.9 .8-2.5 .8-2.9 .8-3.6 .8-4.1 .8-4.7 .8-5.4 .8-5.9 .8-6.3 .8-6.7 .8-6.9 .8-6.9 .8-6.6 .8-6.2 .8-5.5 .8-4.7 .8-3.6 .8-2.3 .8-1 .8 .4 .8 1.7 .8 3 .8 4.2 .8 5.1 .8 6 .8 6.4 .8 6.9 .8 6.9 .8 6.8 .8 6.6 .8 6.1 .8 5.6 .8 5.1 .8 4.4 .8 3.9 .8 3.2 .8 2.7 .8 2.2 .8 1.8 .8 1.4 .8 1.1 .8 .8 .8 .6 .8 .4 .8 .4 .8 .2 .8 .2 .8 .1 0 .2 -45.6-.5z" fill="none" stroke="#1a1208" stroke-width="1.1"/>
<path d="M235.6 278.3l.8-.2 .8-.2 .8-.3 .8-.5 .8-.6 .8-.8 .8-1 .8-1.3 .8-1.5 .8-2 .7-2.3 .8-2.8 .8-3.3 .8-3.7 .8-4.2 .8-4.6 .8-5 .8-5.4 .8-5.6 .8-5.8 .8-5.7 .8-5.7 .8-5.5 .8-5.1 .8-4.7 .8-4.3 .8-3.8 .8-3.3 .8-2.8 .8-2.4 .8-2.2 .8-1.8 .8-1.8 .8-1.7 .8-1.7 .8-1.6 .8-1.7 .8-1.6 .8-1.5 .8-1.2 .8-.8 .8-.2 .8 .5 .8 1.3 .8 2.2 .8 3.2 .8 4.1 .8 5 .8 5.8 .8 6.5 .8 7.1 .8 7.3 .8 7.5 .8 7.4 .8 7.2 .8 6.9 .8 6.3 .8 5.8 .8 5.2 .8 4.5 .8 3.9 .8 3.3 .8 2.7 .8 2.2 .8 1.8 .8 1.4 .8 1 .8 .9 .8 .6 .8 .4 .8 .4 .8 .2 .8 .2" fill="none" stroke="#111" stroke-width=".9"/>
<g fill="none" stroke="#000" stroke-linejoin="round" stroke-linecap="round"><path d="M214 279l1.6-1.1 1.6 0 1.6 .5 1.6 1 1.6-.4 1.6-1.1 1.6 .6 1.6-.5 1.6 1 1.6-.3 1.6 .9 1.6-.6 1.6-1 1.6-.9 1.6-.2 1.6-.4 1.6-1 1.6-3.1 1.5-5.2 1.6-5.4 1.6-9.4 1.6-8.5 1.6-11.7 1.6-9.4 1.6-10.7 1.6-10.4 1.6-10 1.6-5 1.6-4.3 1.6-4.7 1.6-4 1.6-1.1 1.6-4.3 1.6-1.4 1.6 1.8 1.6 .4 1.6 10.1 1.6 11.1 1.6 11.6 1.6 13.7 1.6 13.9 1.6 15.1 1.6 8.5 1.6 10.4 1.6 6.3 1.6 3.5 1.6 2.4 1.6 1.5 1.6 .9 1.6 1.1 1.6-.5 1.6 .9 1.6 .3 1.6-.5 1.6 .2 1.6-.5 1.5 .1 1.6 .3 1.6 .9 1.6-.7 1.6-.4 1.6 0 1.6-.2 1.6-.5 1.6 1.3 1.6-.7 1.6-.3 1.6-.2 1.6 .6 1.6 1.6 1.6 .7 1.6-.8 1.6-.7 1.6-.5 1.6-.8 1.6 .6" stroke-width="1.7"/><path d="M214 279l1.6-1.1 1.6 0 1.6 .5 1.6 1 1.6-.4 1.6-1.1 1.6 .6 1.6-.5 1.6 1 1.6-.3 1.6 .9 1.6-.6 1.6-1 1.6-.9 1.6-.2 1.6-.4 1.6-1 1.6-3.1 1.5-5.2 1.6-5.4 1.6-9.4 1.6-8.5 1.6-11.7 1.6-9.4 1.6-10.7 1.6-10.4 1.6-10 1.6-5 1.6-4.3 1.6-4.7 1.6-4 1.6-1.1 1.6-4.3 1.6-1.4 1.6 1.8 1.6 .4 1.6 10.1 1.6 11.1 1.6 11.6 1.6 13.7 1.6 13.9 1.6 15.1 1.6 8.5 1.6 10.4 1.6 6.3 1.6 3.5 1.6 2.4 1.6 1.5 1.6 .9 1.6 1.1 1.6-.5 1.6 .9 1.6 .3 1.6-.5 1.6 .2 1.6-.5 1.5 .1 1.6 .3 1.6 .9 1.6-.7 1.6-.4 1.6 0 1.6-.2 1.6-.5 1.6 1.3 1.6-.7 1.6-.3 1.6-.2 1.6 .6 1.6 1.6 1.6 .7 1.6-.8 1.6-.7 1.6-.5 1.6-.8 1.6 .6" stroke-width="2.7" stroke-dasharray="0 1.9"/></g>
<path d="M232.4 407.4l.8-.1 .8-.2 .8-.2 .8-.2 .8-.3 .8-.4 .8-.5 .8-.7 .8-.8 .8-1 .8-1.1 .8-1.4 .8-1.7 .8-1.9 .7-2.1 .8-2.3 .8-2.6 .8-2.8 .8-3 .8-3 .8-3.1 .8-3.1 .8-2.9 .8-2.8 .8-2.5 .8-2.1 .8-1.6 .8-1.2 .8-.7 .8-.1 .8 .4 .8 1 .8 1.5 .8 2 .8 2.3 .8 2.6 .8 2.9 .8 3.1 .8 3.1 .8 3 .8 3.1 .8 2.8 .8 2.7 .8 2.5 .8 2.2 .8 2 .8 1.8 .8 1.5 .8 1.3 .8 1.1 .8 .8 .8 .8 .8 .5 .8 .5 .8 .4 .8 .2 .8 .3 .8 .1 .8 .1 0 .3 -47.1-.3z" fill="#f6b878"/>
<path d="M248.3 407.4l.8-.1 .8-.1 .8-.2 .8-.3 .8-.3 .8-.5 .8-.7 .8-.8 .8-1.1 .8-1.4 .8-1.7 .8-2.2 .8-2.5 .8-3.1 .8-3.6 .8-4.2 .8-4.7 .8-5.2 .8-5.7 .8-6.1 .8-6.4 .8-6.5 .8-6.5 .8-6.4 .8-6 .8-5.4 .8-4.6 .8-3.7 .8-2.7 .8-1.5 .8-.3 .8 .9 .8 2.1 .8 3.3 .8 4.2 .8 5.1 .8 5.7 .8 6.3 .8 6.4 .8 6.6 .8 6.5 .8 6.3 .8 5.9 .8 5.5 .8 4.9 .8 4.5 .8 3.8 .8 3.4 .8 2.8 .8 2.4 .8 1.9 .8 1.6 .8 1.2 .8 1 .8 .7 .8 .6 .8 .4 .8 .3 .8 .3 .8 .1 .8 .1 0 .3 -48.8-.4z" fill="#f3a491"/>
<path d="M267.5 407.6l.8-.1 .8-.2 .8-.2 .8-.2 .8-.4 .8-.5 .8-.6 .8-.7 .8-.9 .8-1.1 .8-1.3 .8-1.5 .8-1.5 .8-1.7 .8-1.8 .8-1.8 .8-1.7 .8-1.6 .8-1.4 .8-1.1 .8-.8 .8-.4 .8 0 .8 .4 .8 .8 .8 1.1 .8 1.3 .8 1.6 .8 1.8 .8 1.8 .8 1.7 .8 1.8 .8 1.6 .8 1.4 .8 1.3 .8 1.1 .8 1 .8 .7 .8 .7 .8 .5 .8 .3 .8 .3 .8 .2 .8 .2 .8 .1 0 .2 -36-.2z" fill="#dd7461"/>
<path d="M299.5 407.7l.8-.1 .8-.2 .8-.4 .8-.4 .8-.6 .8-.7 .7-.9 .8-1 .8-1.1 .8-1 .8-1 .8-.7 .8-.6 .8-.2 .8 .1 .8 .4 .8 .7 .8 .9 .8 1 .8 1.1 .8 1 .8 .9 .8 .8 .8 .7 .8 .5 .8 .4 .8 .2 .8 .2 0 .3 -22.3 0z" fill="#ef8d7a"/>
<path d="M248.3 407.4l.8-.1 .8-.1 .8-.2 .8-.3 .8-.3 .8-.5 .8-.7 .8-.8 .8-1.1 .8-1.4 .8-1.7 .8-2.2 .8-2.5 .8-3.1 .8-3.6 .8-4.2 .8-4.7 .8-3.1 .8 3.1 .8 3 .8 3.1 .8 2.8 .8 2.7 .8 2.5 .8 2.2 .8 2 .8 1.8 .8 1.5 .8 1.3 .8 1.1 .8 .8 .8 .8 .8 .5 .8 .5 .8 .4 .8 .2 .8 .3 .8 .1 .8 .1 0 .3 -31.2-.3z" fill="#ee8d5e"/>
<path d="M267.5 407.6l.8-.1 .8-.2 .8-.2 .8-.2 .8-.4 .8-.5 .8-.6 .8 .1 .8 .5 .8 .5 .8 .4 .8 .2 .8 .3 .8 .1 .8 .1 0 .3 -12-.1z" fill="#dd6e47"/>
<path d="M267.5 407.6l.8-.1 .8-.2 .8-.2 .8-.2 .8-.4 .8-.5 .8-.6 .8-.7 .8-.9 .8-1.1 .8-1.3 .8-1.5 .8-1.5 .8-1.7 .8-1.8 .8-1.8 .8-1.7 .8-1.6 .8-1.4 .8-1.1 .8-.8 .8 .6 .8 3.8 .8 3.4 .8 2.8 .8 2.4 .8 1.9 .8 1.6 .8 1.2 .8 1 .8 .7 .8 .6 .8 .4 .8 .3 .8 .3 .8 .1 .8 .1 0 .3 -29.6-.2z" fill="#db6551"/>
<path d="M232.4 407.4l.8-.1 .8-.2 .8-.2 .8-.2 .8-.3 .8-.4 .8-.5 .8-.7 .8-.8 .8-1 .8-1.1 .8-1.4 .8-1.7 .8-1.9 .7-2.1 .8-2.3 .8-2.6 .8-2.8 .8-3 .8-3 .8-3.1 .8-3.1 .8-2.9 .8-2.8 .8-2.5 .8-2.1 .8-1.6 .8-1.2 .8-.7 .8-.1 .8 .4 .8 1 .8 1.5 .8 2 .8 2.3 .8 2.6 .8 2.9 .8 3.1 .8 3.1 .8 3 .8 3.1 .8 2.8 .8 2.7 .8 2.5 .8 2.2 .8 2 .8 1.8 .8 1.5 .8 1.3 .8 1.1 .8 .8 .8 .8 .8 .5 .8 .5 .8 .4 .8 .2 .8 .3 .8 .1 .8 .1 0 .3 -47.1-.3zM248.3 407.4l.8-.1 .8-.1 .8-.2 .8-.3 .8-.3 .8-.5 .8-.7 .8-.8 .8-1.1 .8-1.4 .8-1.7 .8-2.2 .8-2.5 .8-3.1 .8-3.6 .8-4.2 .8-4.7 .8-5.2 .8-5.7 .8-6.1 .8-6.4 .8-6.5 .8-6.5 .8-6.4 .8-6 .8-5.4 .8-4.6 .8-3.7 .8-2.7 .8-1.5 .8-.3 .8 .9 .8 2.1 .8 3.3 .8 4.2 .8 5.1 .8 5.7 .8 6.3 .8 6.4 .8 6.6 .8 6.5 .8 6.3 .8 5.9 .8 5.5 .8 4.9 .8 4.5 .8 3.8 .8 3.4 .8 2.8 .8 2.4 .8 1.9 .8 1.6 .8 1.2 .8 1 .8 .7 .8 .6 .8 .4 .8 .3 .8 .3 .8 .1 .8 .1 0 .3 -48.8-.4zM267.5 407.6l.8-.1 .8-.2 .8-.2 .8-.2 .8-.4 .8-.5 .8-.6 .8-.7 .8-.9 .8-1.1 .8-1.3 .8-1.5 .8-1.5 .8-1.7 .8-1.8 .8-1.8 .8-1.7 .8-1.6 .8-1.4 .8-1.1 .8-.8 .8-.4 .8 0 .8 .4 .8 .8 .8 1.1 .8 1.3 .8 1.6 .8 1.8 .8 1.8 .8 1.7 .8 1.8 .8 1.6 .8 1.4 .8 1.3 .8 1.1 .8 1 .8 .7 .8 .7 .8 .5 .8 .3 .8 .3 .8 .2 .8 .2 .8 .1 0 .2 -36-.2zM299.5 407.7l.8-.1 .8-.2 .8-.4 .8-.4 .8-.6 .8-.7 .7-.9 .8-1 .8-1.1 .8-1 .8-1 .8-.7 .8-.6 .8-.2 .8 .1 .8 .4 .8 .7 .8 .9 .8 1 .8 1.1 .8 1 .8 .9 .8 .8 .8 .7 .8 .5 .8 .4 .8 .2 .8 .2 0 .3 -22.3 0z" fill="none" stroke="#1a1208" stroke-width="1.1"/>
<path d="M233.2 407.3l.8-.2 .8-.2 .8-.2 .8-.3 .8-.4 .8-.5 .8-.7 .8-.8 .8-1 .8-1.2 .8-1.4 .8-1.6 .8-1.9 .7-2.1 .8-2.4 .8-2.7 .8-2.8 .8-3 .8-3.2 .8-3.2 .8-3.2 .8-3.2 .8-3.1 .8-3 .8-2.7 .8-2.4 .8-2.2 .8-1.9 .8-1.7 .8-1.5 .8-1.4 .8-1.4 .8-1.4 .8-1.5 .8-1.8 .8-2.2 .8-2.5 .8-2.9 .8-3.3 .8-3.6 .8-4 .8-4.1 .8-4.1 .8-4 .8-3.6 .8-3.2 .8-2.5 .8-1.7 .8-.8 .8 .1 .8 1.1 .8 2 .8 2.9 .8 3.6 .8 4.2 .8 4.6 .8 4.9 .8 5.2 .8 5.1 .8 5.1 .8 5 .8 4.8 .8 4.6 .8 4.4 .8 4.2 .8 4 .8 3.8 .8 3.7 .8 3.6 .8 3.4 .8 3.2 .8 3 .8 2.8 .8 2.6 .8 2.3 .8 2 .8 1.8 .8 1.6 .8 1.2 .8 1.1 .8 .8 .8 .6 .8 .4 .8 .3 .8 .1 .8-.2 .8-.2 .8-.5 .8-.7 .7-.8 .8-1 .8-1 .8-1 .8-1 .8-.7 .8-.6 .8-.2 .8 .1 .8 .4 .8 .7 .8 .9 .8 1 .8 1.1 .8 1 .8 .9 .8 .8 .8 .7 .8 .5 .8 .4 .8 .2" fill="none" stroke="#111" stroke-width=".9"/>
<g fill="none" stroke="#000" stroke-linejoin="round" stroke-linecap="round"><path d="M214 407.5l1.6 .2 1.6-.1 1.6-.1 1.6-.3 1.6 .1 1.6 .6 1.6 0 1.6 .2 1.6-.2 1.6-.1 1.6-.2 1.6-.9 1.6 .3 1.6-.4 1.6-.8 1.6-2.4 1.6-2.7 1.6-2.9 1.5-3.7 1.6-4.5 1.6-5.8 1.6-6 1.6-7 1.6-5.7 1.6-4.9 1.6-4.8 1.6-1.7 1.6-3 1.6-2.5 1.6-5.1 1.6-6.1 1.6-7 1.6-7.8 1.6-7.4 1.6-6.8 1.6-4.8 1.6-1.4 1.6 3.2 1.6 7.9 1.6 7.8 1.6 10.5 1.6 10.5 1.6 8.5 1.6 9.6 1.6 9.3 1.6 5.9 1.6 7.2 1.6 6.6 1.6 5.1 1.6 4.9 1.6 3.3 1.6 1.7 1.6 2.2 1.6 .9 1.6 .2 1.6-.5 1.5-1.8 1.6-2.2 1.6-2.8 1.6-.7 1.6-.5 1.6 1.1 1.6 1.5 1.6 2 1.6 1.9 1.6 2.1 1.6-.4 1.6 .2 1.6 .6 1.6 .8 1.6 0 1.6-.9 1.6-.6 1.6 .7 1.6 0 1.6-.2" stroke-width="1.7"/><path d="M214 407.5l1.6 .2 1.6-.1 1.6-.1 1.6-.3 1.6 .1 1.6 .6 1.6 0 1.6 .2 1.6-.2 1.6-.1 1.6-.2 1.6-.9 1.6 .3 1.6-.4 1.6-.8 1.6-2.4 1.6-2.7 1.6-2.9 1.5-3.7 1.6-4.5 1.6-5.8 1.6-6 1.6-7 1.6-5.7 1.6-4.9 1.6-4.8 1.6-1.7 1.6-3 1.6-2.5 1.6-5.1 1.6-6.1 1.6-7 1.6-7.8 1.6-7.4 1.6-6.8 1.6-4.8 1.6-1.4 1.6 3.2 1.6 7.9 1.6 7.8 1.6 10.5 1.6 10.5 1.6 8.5 1.6 9.6 1.6 9.3 1.6 5.9 1.6 7.2 1.6 6.6 1.6 5.1 1.6 4.9 1.6 3.3 1.6 1.7 1.6 2.2 1.6 .9 1.6 .2 1.6-.5 1.5-1.8 1.6-2.2 1.6-2.8 1.6-.7 1.6-.5 1.6 1.1 1.6 1.5 1.6 2 1.6 1.9 1.6 2.1 1.6-.4 1.6 .2 1.6 .6 1.6 .8 1.6 0 1.6-.9 1.6-.6 1.6 .7 1.6 0 1.6-.2" stroke-width="2.7" stroke-dasharray="0 1.9"/></g>
<path d="M230 528l.8-.1 .8-.2 .8-.1 .8-.2 .8-.3 .8-.3 .8-.4 .8-.5 .8-.5 .8-.7 .8-.9 .8-.9 .8-1.1 .8-1.3 .8-1.4 .8-1.6 .8-1.8 .7-1.8 .8-2 .8-2.1 .8-2.2 .8-2.2 .8-2.1 .8-2.1 .8-2 .8-1.8 .8-1.6 .8-1.3 .8-1.1 .8-.7 .8-.4 .8 0 .8 .3 .8 .7 .8 1 .8 1.3 .8 1.6 .8 1.8 .8 1.9 .8 2.1 .8 2.2 .8 2.1 .8 2.2 .8 2.1 .8 2.1 .8 1.9 .8 1.7 .8 1.7 .8 1.4 .8 1.3 .8 1.2 .8 1 .8 .9 .8 .7 .8 .6 .8 .5 .8 .4 .8 .4 .8 .2 .8 .2 .8 .2 .8 .1 .8 .1 0 .3 -50.3-.3z" fill="#f6b878"/>
<path d="M247.5 527.9l.8-.1 .8-.1 .8-.3 .8-.2 .8-.4 .8-.6 .8-.6 .8-.9 .8-1 .8-1.3 .8-1.6 .8-2 .8-2.3 .8-2.6 .8-3.1 .8-3.6 .8-3.9 .8-4.3 .8-4.7 .8-5 .8-5.2 .8-5.3 .8-5.3 .8-5.2 .8-4.9 .8-4.5 .8-3.9 .8-3.3 .8-2.4 .8-1.7 .8-.7 .8 .3 .8 1.2 .8 2.1 .8 2.9 .8 3.6 .8 4.3 .8 4.7 .8 5.1 .8 5.2 .8 5.4 .8 5.3 .8 5.1 .8 4.8 .8 4.6 .8 4.1 .8 3.7 .8 3.4 .8 2.9 .8 2.4 .8 2.2 .8 1.7 .8 1.5 .8 1.2 .8 .9 .8 .8 .8 .6 .8 .4 .8 .4 .8 .2 .8 .2 .8 .1 .8 .1 0 .3 -50.4-.4z" fill="#f3a491"/>
<path d="M265.1 528.1l.8-.1 .8-.1 .8-.2 .8-.2 .8-.3 .8-.4 .8-.4 .8-.6 .8-.7 .8-.8 .8-1 .8-1.1 .8-1.3 .8-1.4 .8-1.5 .8-1.6 .8-1.6 .8-1.7 .8-1.7 .8-1.5 .8-1.5 .8-1.2 .8-1 .8-.8 .8-.4 .8-.2 .8 .2 .8 .6 .8 .8 .8 1.1 .8 1.3 .8 1.4 .8 1.6 .8 1.7 .8 1.7 .8 1.6 .8 1.6 .8 1.5 .8 1.4 .8 1.3 .8 1.1 .8 .9 .8 .8 .8 .7 .8 .6 .8 .4 .8 .4 .8 .3 .8 .2 .7 .1 .8 .2 .8 .1 0 .2 -41.5-.3z" fill="#dd7461"/>
<path d="M297.1 528.3l.8-.2 .8-.2 .8-.4 .8-.5 .8-.6 .8-.9 .8-1 .8-1.2 .8-1.4 .7-1.5 .8-1.6 .8-1.5 .8-1.4 .8-1.2 .8-.9 .8-.4 .8-.1 .8 .4 .8 .8 .8 1.2 .8 1.4 .8 1.5 .8 1.6 .8 1.5 .8 1.4 .8 1.3 .8 1 .8 .9 .8 .7 .8 .5 .8 .3 .8 .3 .8 .2 0 .3 -26.3 0z" fill="#ef8d7a"/>
<path d="M247.5 527.9l.8-.1 .8-.1 .8-.3 .8-.2 .8-.4 .8-.6 .8-.6 .8-.9 .8-1 .8-1.3 .8-1.6 .8-2 .8-2.3 .8-2.6 .8-3.1 .8-3.6 .8-3.9 .8-.3 .8 2.2 .8 2.1 .8 2.2 .8 2.1 .8 2.1 .8 1.9 .8 1.7 .8 1.7 .8 1.4 .8 1.3 .8 1.2 .8 1 .8 .9 .8 .7 .8 .6 .8 .5 .8 .4 .8 .4 .8 .2 .8 .2 .8 .2 .8 .1 .8 .1 0 .3 -32.8-.3z" fill="#ee8d5e"/>
<path d="M265.1 528.1l.8-.1 .8-.1 .8-.2 .8-.2 .8-.3 .8-.4 .8-.4 .8-.6 .8-.7 .8 .4 .8 .6 .8 .5 .8 .4 .8 .4 .8 .2 .8 .2 .8 .2 .8 .1 .8 .1 0 .3 -15.2-.2z" fill="#dd6e47"/>
<path d="M265.1 528.1l.8-.1 .8-.1 .8-.2 .8-.2 .8-.3 .8-.4 .8-.4 .8-.6 .8-.7 .8-.8 .8-1 .8-1.1 .8-1.3 .8-1.4 .8-1.5 .8-1.6 .8-1.6 .8-1.7 .8-1.7 .8-1.5 .8-1.5 .8-1.2 .8-1 .8-.6 .8 3.7 .8 3.4 .8 2.9 .8 2.4 .8 2.2 .8 1.7 .8 1.5 .8 1.2 .8 .9 .8 .8 .8 .6 .8 .4 .8 .4 .8 .2 .8 .2 .8 .1 .8 .1 0 .3 -32.8-.3z" fill="#db6551"/>
<path d="M297.1 528.3l.8-.2 .8-.2 .8-.4 .8-.5 .8-.3 .8 .4 .8 .4 .8 .3 .8 .2 .7 .1 .8 .2 .8 .1 0 .2 -9.5 0z" fill="#d85a48"/>
<path d="M230 528l.8-.1 .8-.2 .8-.1 .8-.2 .8-.3 .8-.3 .8-.4 .8-.5 .8-.5 .8-.7 .8-.9 .8-.9 .8-1.1 .8-1.3 .8-1.4 .8-1.6 .8-1.8 .7-1.8 .8-2 .8-2.1 .8-2.2 .8-2.2 .8-2.1 .8-2.1 .8-2 .8-1.8 .8-1.6 .8-1.3 .8-1.1 .8-.7 .8-.4 .8 0 .8 .3 .8 .7 .8 1 .8 1.3 .8 1.6 .8 1.8 .8 1.9 .8 2.1 .8 2.2 .8 2.1 .8 2.2 .8 2.1 .8 2.1 .8 1.9 .8 1.7 .8 1.7 .8 1.4 .8 1.3 .8 1.2 .8 1 .8 .9 .8 .7 .8 .6 .8 .5 .8 .4 .8 .4 .8 .2 .8 .2 .8 .2 .8 .1 .8 .1 0 .3 -50.3-.3zM247.5 527.9l.8-.1 .8-.1 .8-.3 .8-.2 .8-.4 .8-.6 .8-.6 .8-.9 .8-1 .8-1.3 .8-1.6 .8-2 .8-2.3 .8-2.6 .8-3.1 .8-3.6 .8-3.9 .8-4.3 .8-4.7 .8-5 .8-5.2 .8-5.3 .8-5.3 .8-5.2 .8-4.9 .8-4.5 .8-3.9 .8-3.3 .8-2.4 .8-1.7 .8-.7 .8 .3 .8 1.2 .8 2.1 .8 2.9 .8 3.6 .8 4.3 .8 4.7 .8 5.1 .8 5.2 .8 5.4 .8 5.3 .8 5.1 .8 4.8 .8 4.6 .8 4.1 .8 3.7 .8 3.4 .8 2.9 .8 2.4 .8 2.2 .8 1.7 .8 1.5 .8 1.2 .8 .9 .8 .8 .8 .6 .8 .4 .8 .4 .8 .2 .8 .2 .8 .1 .8 .1 0 .3 -50.4-.4zM265.1 528.1l.8-.1 .8-.1 .8-.2 .8-.2 .8-.3 .8-.4 .8-.4 .8-.6 .8-.7 .8-.8 .8-1 .8-1.1 .8-1.3 .8-1.4 .8-1.5 .8-1.6 .8-1.6 .8-1.7 .8-1.7 .8-1.5 .8-1.5 .8-1.2 .8-1 .8-.8 .8-.4 .8-.2 .8 .2 .8 .6 .8 .8 .8 1.1 .8 1.3 .8 1.4 .8 1.6 .8 1.7 .8 1.7 .8 1.6 .8 1.6 .8 1.5 .8 1.4 .8 1.3 .8 1.1 .8 .9 .8 .8 .8 .7 .8 .6 .8 .4 .8 .4 .8 .3 .8 .2 .7 .1 .8 .2 .8 .1 0 .2 -41.5-.3zM297.1 528.3l.8-.2 .8-.2 .8-.4 .8-.5 .8-.6 .8-.9 .8-1 .8-1.2 .8-1.4 .7-1.5 .8-1.6 .8-1.5 .8-1.4 .8-1.2 .8-.9 .8-.4 .8-.1 .8 .4 .8 .8 .8 1.2 .8 1.4 .8 1.5 .8 1.6 .8 1.5 .8 1.4 .8 1.3 .8 1 .8 .9 .8 .7 .8 .5 .8 .3 .8 .3 .8 .2 0 .3 -26.3 0z" fill="none" stroke="#1a1208" stroke-width="1.1"/>
<path d="M230.8 527.9l.8-.2 .8-.1 .8-.2 .8-.3 .8-.3 .8-.4 .8-.5 .8-.5 .8-.7 .8-.9 .8-.9 .8-1.1 .8-1.3 .8-1.5 .8-1.6 .8-1.7 .7-1.9 .8-2.1 .8-2.1 .8-2.2 .8-2.3 .8-2.3 .8-2.3 .8-2.2 .8-2.2 .8-2 .8-1.9 .8-1.8 .8-1.7 .8-1.6 .8-1.5 .8-1.4 .8-1.4 .8-1.5 .8-1.7 .8-1.7 .8-2.1 .8-2.2 .8-2.6 .8-2.9 .8-3.1 .8-3.4 .8-3.6 .8-3.6 .8-3.7 .8-3.5 .8-3.3 .8-2.9 .8-2.4 .8-1.9 .8-1.2 .8-.5 .8 .3 .8 .9 .8 1.7 .8 2.2 .8 2.9 .8 3.2 .8 3.6 .8 3.9 .8 4 .8 4.1 .8 4.1 .8 4 .8 3.9 .8 3.7 .8 3.7 .8 3.5 .8 3.3 .8 3.3 .8 3.1 .8 3.1 .8 2.9 .8 2.9 .8 2.7 .8 2.6 .8 2.4 .8 2.3 .8 2.2 .8 1.9 .8 1.7 .8 1.5 .8 1.3 .8 1.1 .8 .7 .8 .5 .8 .3 .8-.1 .8-.4 .8-.6 .8-.9 .8-1.2 .7-1.4 .8-1.4 .8-1.4 .8-1.4 .8-1.1 .8-.8 .8-.5 .8 0 .8 .4 .8 .8 .8 1.2 .8 1.4 .8 1.5 .8 1.6 .8 1.5 .8 1.4 .8 1.3 .8 1 .8 .9 .8 .7 .8 .5 .8 .3 .8 .3 .8 .2" fill="none" stroke="#111" stroke-width=".9"/>
<g fill="none" stroke="#000" stroke-linejoin="round" stroke-linecap="round"><path d="M214 528.4l1.6 1.3 1.6-.2 1.6-.1 1.6-.3 1.6-.3 1.6 0 1.6-.3 1.6-.6 1.6-.4 1.6-.5 1.6 .5 1.6 .2 1.6 .4 1.6-1.2 1.6-1.5 1.6-1.7 1.6-2.8 1.6-4.7 1.5-2 1.6-4.7 1.6-4.1 1.6-4.9 1.6-1.4 1.6-4.3 1.6-4.4 1.6-5.1 1.6-1.6 1.6-4.5 1.6-2.1 1.6-7.2 1.6-5.4 1.6-5.4 1.6-8.8 1.6-6.3 1.6-5 1.6-1.9 1.6-1.6 1.6 3.5 1.6 7.3 1.6 3.3 1.6 7.1 1.6 9.4 1.6 7.2 1.6 6.3 1.6 9.4 1.6 7 1.6 6.3 1.6 5.7 1.6 4.7 1.6 2.9 1.6 1.8 1.6 4.2 1.6 1.3 1.6 1.3 1.6 .1 1.6-2.6 1.5-2.2 1.6-1.1 1.6-2.5 1.6-3.3 1.6 .7 1.6 2.3 1.6 3.5 1.6 3.5 1.6 2.2 1.6 1.6 1.6 1.8 1.6-.6 1.6 1.3 1.6 .1 1.6-.4 1.6-.3 1.6 .4 1.6-.8 1.6-.9 1.6 1.2" stroke-width="1.7"/><path d="M214 528.4l1.6 1.3 1.6-.2 1.6-.1 1.6-.3 1.6-.3 1.6 0 1.6-.3 1.6-.6 1.6-.4 1.6-.5 1.6 .5 1.6 .2 1.6 .4 1.6-1.2 1.6-1.5 1.6-1.7 1.6-2.8 1.6-4.7 1.5-2 1.6-4.7 1.6-4.1 1.6-4.9 1.6-1.4 1.6-4.3 1.6-4.4 1.6-5.1 1.6-1.6 1.6-4.5 1.6-2.1 1.6-7.2 1.6-5.4 1.6-5.4 1.6-8.8 1.6-6.3 1.6-5 1.6-1.9 1.6-1.6 1.6 3.5 1.6 7.3 1.6 3.3 1.6 7.1 1.6 9.4 1.6 7.2 1.6 6.3 1.6 9.4 1.6 7 1.6 6.3 1.6 5.7 1.6 4.7 1.6 2.9 1.6 1.8 1.6 4.2 1.6 1.3 1.6 1.3 1.6 .1 1.6-2.6 1.5-2.2 1.6-1.1 1.6-2.5 1.6-3.3 1.6 .7 1.6 2.3 1.6 3.5 1.6 3.5 1.6 2.2 1.6 1.6 1.6 1.8 1.6-.6 1.6 1.3 1.6 .1 1.6-.4 1.6-.3 1.6 .4 1.6-.8 1.6-.9 1.6 1.2" stroke-width="2.7" stroke-dasharray="0 1.9"/></g>
<line x1="255.9" y1="42.0" x2="255.9" y2="522.0" stroke="#555" stroke-width="0.9" stroke-dasharray="2.6 3.2"/>
<line x1="271.3" y1="35.0" x2="271.3" y2="522.0" stroke="#555" stroke-width="0.9" stroke-dasharray="2.6 3.2"/>
<line x1="285.2" y1="89.0" x2="285.2" y2="522.0" stroke="#555" stroke-width="0.9" stroke-dasharray="2.6 3.2"/>
<line x1="309.8" y1="137.0" x2="309.8" y2="522.0" stroke="#555" stroke-width="0.9" stroke-dasharray="2.6 3.2"/>
<path d="M211.2,15.5 V534.8 H334.7" fill="none" stroke="#4a4a4a" stroke-width="1.5"/>
<line x1="232.3" y1="534.8" x2="232.3" y2="541.8" stroke="#4a4a4a" stroke-width="1.3"/>
<text x="232.3" y="556.3" font-size="11.1" font-weight="normal" fill="#2a2a2a" text-anchor="middle"  stroke="#2a2a2a" stroke-width=".3">536</text>
<line x1="260.2" y1="534.8" x2="260.2" y2="541.8" stroke="#4a4a4a" stroke-width="1.3"/>
<text x="260.2" y="556.3" font-size="11.1" font-weight="normal" fill="#2a2a2a" text-anchor="middle"  stroke="#2a2a2a" stroke-width=".3">533</text>
<line x1="288.1" y1="534.8" x2="288.1" y2="541.8" stroke="#4a4a4a" stroke-width="1.3"/>
<text x="288.1" y="556.3" font-size="11.1" font-weight="normal" fill="#2a2a2a" text-anchor="middle"  stroke="#2a2a2a" stroke-width=".3">530</text>
<line x1="315.9" y1="534.8" x2="315.9" y2="541.8" stroke="#4a4a4a" stroke-width="1.3"/>
<text x="315.9" y="556.3" font-size="11.1" font-weight="normal" fill="#2a2a2a" text-anchor="middle"  stroke="#2a2a2a" stroke-width=".3">527</text>
<text x="278.2" y="571.6" font-size="11.0" font-weight="normal" fill="#383838" text-anchor="middle"  stroke="#383838" stroke-width=".3">Binding Energy / eV</text>
<text x="215.4" y="24.2" font-size="12.0" font-weight="bold" fill="#111" text-anchor="start" >O1s</text>
<text x="214.6" y="62.8" font-size="10.8" font-weight="normal" fill="#1e1e1e" text-anchor="start"  stroke="#1e1e1e" stroke-width=".3">680 eV</text>
<text x="214.6" y="73.6" font-size="10.8" font-weight="normal" fill="#1e1e1e" text-anchor="start"  stroke="#1e1e1e" stroke-width=".3">2 nm</text>
<text x="214.6" y="184.5" font-size="10.8" font-weight="normal" fill="#1e1e1e" text-anchor="start"  stroke="#1e1e1e" stroke-width=".3">1130 eV</text>
<text x="214.6" y="195.3" font-size="10.8" font-weight="normal" fill="#1e1e1e" text-anchor="start"  stroke="#1e1e1e" stroke-width=".3">7 nm</text>
<text x="214.6" y="319.3" font-size="10.8" font-weight="normal" fill="#1e1e1e" text-anchor="start"  stroke="#1e1e1e" stroke-width=".3">2300 eV</text>
<text x="214.6" y="330.1" font-size="10.8" font-weight="normal" fill="#1e1e1e" text-anchor="start"  stroke="#1e1e1e" stroke-width=".3">16 nm</text>
<text x="214.6" y="464.5" font-size="10.8" font-weight="normal" fill="#1e1e1e" text-anchor="start"  stroke="#1e1e1e" stroke-width=".3">6900 eV</text>
<text x="214.6" y="475.3" font-size="10.8" font-weight="normal" fill="#1e1e1e" text-anchor="start"  stroke="#1e1e1e" stroke-width=".3">46 nm</text>
<text x="245.7" y="38.0" font-size="10.6" font-weight="normal" fill="#444" text-anchor="start"  stroke="#444" stroke-width=".3">C-O</text>
<text x="265.8" y="29.3" font-size="10.6" font-weight="normal" fill="#444" text-anchor="start"  stroke="#444" stroke-width=".3">CO<tspan font-size="7.5" dy="2.5">3</tspan></text>
<text x="285.8" y="79.6" font-size="10.6" font-weight="normal" fill="#444" text-anchor="start"  stroke="#444" stroke-width=".3">ROLi</text>
<text x="304.4" y="130.0" font-size="10.6" font-weight="normal" fill="#444" text-anchor="start"  stroke="#444" stroke-width=".3">Li<tspan font-size="7.5" dy="2.5">2</tspan><tspan dy="-2.5">O</tspan></text>
<path d="M411.1 152.5l.8-.1 .8-.1 .8-.2 .8-.2 .8-.2 .8-.3 .8-.3 .8-.4 .8-.5 .8-.5 .8-.7 .7-.7 .8-.8 .8-1 .8-1 .8-1 .8-1.2 .8-1.2 .8-1.2 .8-1.2 .8-1.3 .8-1.1 .8-1.1 .8-.9 .8-.9 .8-.6 .8-.5 .8-.3 .8-.1 .8 .1 .8 .4 .8 .5 .8 .7 .8 .9 .8 1 .8 1.1 .8 1.2 .8 1.2 .8 1.3 .8 1.2 .8 1.2 .8 1.2 .8 1.1 .8 1 .8 .9 .8 .8 .8 .8 .8 .6 .8 .6 .8 .4 .8 .4 .8 .4 .8 .2 .8 .3 .8 .1 .8 .2 .8 .1 .8 .1 0 .2 -46.3-.4z" fill="#f07c9c"/>
<path d="M451 152.9l.8-.2 .8-.1 .8-.3 .8-.4 .8-.4 .8-.7 .8-.8 .8-1.1 .8-1.4 .8-1.6 .8-2 .8-2.3 .8-2.6 .8-2.9 .8-3.1 .8-3.2 .8-3.3 .8-3.1 .8-3 .8-2.5 .8-2.1 .8-1.4 .8-.8 .8-.1 .8 .7 .8 1.3 .8 2 .8 2.5 .8 2.9 .8 3.2 .8 3.3 .8 3.3 .8 3.2 .8 3 .8 2.7 .8 2.4 .8 2.2 .8 1.8 .8 1.5 .8 1.2 .8 1 .8 .8 .8 .6 .8 .5 .8 .4 .8 .3 .8 .2 0 .3 -37.6-1.7z" fill="#e97c8a"/>
<path d="M440.6 152.8l.8 0 .8 0 .8 0 .8 0 .8 0 .8 0 .8 0 .8 0 .8 0 .8 0 .8 0 .8 0 .8 0 .8 0 .8-.1 .8 0 .8 0 .8 0 .8 0 .8 0 .8-.1 .8 0 .8 0 .8 0 .8-.1 .8 0 .8 0 .8 0 .8-.1 .8 0 .8-.1 .8 0 .8-.1 .8-.2 .8-.2 .8-.3 .8-.4 .8-.7 .8-.9 .8-1.2 .8-1.7 .8-2.2 .8-3 .8-3.7 .8-4.7 .8-5.6 .8-6.7 .8-7.6 .8-8.5 .8-9.1 .8-9.5 .8-9.4 .8-9 .8-8 .8-6.6 .8-4.7 .8-2.5 .8 0 .8 2.5 .8 4.7 .8 6.6 .8 8.1 .8 9.1 .8 9.6 .8 9.6 .8 9.2 .8 8.6 .8 7.8 .8 6.8 .8 5.8 .8 4.7 .8 3.9 .8 3 .8 2.3 .8 1.8 .8 1.3 .8 1 .8 .6 .8 .5 .8 .4 .7 .2 .8 .2 .8 .1 .8 .1 .8 .1 .8 .1 .8 0 .8 .1 .8 0 .8 .1 .8 0 .8 0 .8 .1 .8 0 .8 0 .8 0 .8 .1 .8 0 .8 0 .8 0 .8 0 .8 .1 .8 0 .8 0 .8 0 .8 0 .8 0 .8 0 .8 0 .8 .1 .8 0 .8 0 .8 0 .8 0 .8 0 0 .2 -91.9-2.3z" fill="#aa92d2"/>
<path d="M499.8 155l.8-.1 .8-.1 .8-.1 .8-.2 .8-.1 .8-.1 .7-.2 .8-.1 .8-.1 .8-.1 .8 0 .8 0 .8 0 .8 .1 .8 .1 .8 .1 .8 .2 .8 .1 .8 .1 .8 .2 .8 .1 .8 .1 .8 .1 .8 .1 0 .2 -19.1-.1z" fill="#8a70b4"/>
<path d="M451 152.9l.8-.2 .8-.1 .8-.3 .8 .1 .8 .1 .8 .2 .8 .1 .8 .1 0 .2 -6.4 0z" fill="#e2566d"/>
<path d="M451 152.9l.8-.1 .8-.1 .8 0 .8 0 .8 0 .8 0 .8 0 .8-.1 .8 0 .8 0 .8 0 .8-.1 .8 0 .8 0 .8 0 .8-.1 .8 0 .8-.1 .8 0 .8-.1 .8-.2 .8-.2 .8-.3 .8-.4 .8-.7 .8-.9 .8-1.2 .8-1.7 .8-2.2 .8-3 .8-3.7 .8-4.7 .8 2.9 .8 3 .8 2.7 .8 2.4 .8 2.2 .8 1.8 .8 1.5 .8 1.2 .8 1 .8 .8 .8 .6 .8 .5 .8 .4 .8 .3 .8 .2 0 .3 -37.6-1.7z" fill="#ae618a"/>
<path d="M499.8 155l.8-.1 .8-.1 .8-.1 .8-.2 .8-.1 .8-.1 .7-.2 .8 0 .8 .1 .8 .1 .8 .1 .8 .1 .8 0 .8 .1 .8 0 .8 .1 .8 0 .8 0 .8 .1 .8 0 .8 0 .8 .1 .8 .1 .8 .1 0 .2 -19.1-.1z" fill="#755aa7"/>
<path d="M411.1 152.5l.8-.1 .8-.1 .8-.2 .8-.2 .8-.2 .8-.3 .8-.3 .8-.4 .8-.5 .8-.5 .8-.7 .7-.7 .8-.8 .8-1 .8-1 .8-1 .8-1.2 .8-1.2 .8-1.2 .8-1.2 .8-1.3 .8-1.1 .8-1.1 .8-.9 .8-.9 .8-.6 .8-.5 .8-.3 .8-.1 .8 .1 .8 .4 .8 .5 .8 .7 .8 .9 .8 1 .8 1.1 .8 1.2 .8 1.2 .8 1.3 .8 1.2 .8 1.2 .8 1.2 .8 1.1 .8 1 .8 .9 .8 .8 .8 .8 .8 .6 .8 .6 .8 .4 .8 .4 .8 .4 .8 .2 .8 .3 .8 .1 .8 .2 .8 .1 .8 .1 0 .2 -46.3-.4zM451 152.9l.8-.2 .8-.1 .8-.3 .8-.4 .8-.4 .8-.7 .8-.8 .8-1.1 .8-1.4 .8-1.6 .8-2 .8-2.3 .8-2.6 .8-2.9 .8-3.1 .8-3.2 .8-3.3 .8-3.1 .8-3 .8-2.5 .8-2.1 .8-1.4 .8-.8 .8-.1 .8 .7 .8 1.3 .8 2 .8 2.5 .8 2.9 .8 3.2 .8 3.3 .8 3.3 .8 3.2 .8 3 .8 2.7 .8 2.4 .8 2.2 .8 1.8 .8 1.5 .8 1.2 .8 1 .8 .8 .8 .6 .8 .5 .8 .4 .8 .3 .8 .2 0 .3 -37.6-1.7zM440.6 152.8l.8 0 .8 0 .8 0 .8 0 .8 0 .8 0 .8 0 .8 0 .8 0 .8 0 .8 0 .8 0 .8 0 .8 0 .8-.1 .8 0 .8 0 .8 0 .8 0 .8 0 .8-.1 .8 0 .8 0 .8 0 .8-.1 .8 0 .8 0 .8 0 .8-.1 .8 0 .8-.1 .8 0 .8-.1 .8-.2 .8-.2 .8-.3 .8-.4 .8-.7 .8-.9 .8-1.2 .8-1.7 .8-2.2 .8-3 .8-3.7 .8-4.7 .8-5.6 .8-6.7 .8-7.6 .8-8.5 .8-9.1 .8-9.5 .8-9.4 .8-9 .8-8 .8-6.6 .8-4.7 .8-2.5 .8 0 .8 2.5 .8 4.7 .8 6.6 .8 8.1 .8 9.1 .8 9.6 .8 9.6 .8 9.2 .8 8.6 .8 7.8 .8 6.8 .8 5.8 .8 4.7 .8 3.9 .8 3 .8 2.3 .8 1.8 .8 1.3 .8 1 .8 .6 .8 .5 .8 .4 .7 .2 .8 .2 .8 .1 .8 .1 .8 .1 .8 .1 .8 0 .8 .1 .8 0 .8 .1 .8 0 .8 0 .8 .1 .8 0 .8 0 .8 0 .8 .1 .8 0 .8 0 .8 0 .8 0 .8 .1 .8 0 .8 0 .8 0 .8 0 .8 0 .8 0 .8 0 .8 .1 .8 0 .8 0 .8 0 .8 0 .8 0 0 .2 -91.9-2.3zM499.8 155l.8-.1 .8-.1 .8-.1 .8-.2 .8-.1 .8-.1 .7-.2 .8-.1 .8-.1 .8-.1 .8 0 .8 0 .8 0 .8 .1 .8 .1 .8 .1 .8 .2 .8 .1 .8 .1 .8 .2 .8 .1 .8 .1 .8 .1 .8 .1 0 .2 -19.1-.1z" fill="none" stroke="#1a1208" stroke-width="1.1"/>
<path d="M411.1 152.4l.8-.1 .8-.1 .8-.2 .8-.1 .8-.3 .8-.2 .8-.4 .8-.4 .8-.5 .8-.5 .8-.7 .7-.7 .8-.8 .8-1 .8-1 .8-1.1 .8-1.1 .8-1.2 .8-1.2 .8-1.3 .8-1.2 .8-1.1 .8-1.1 .8-1 .8-.8 .8-.7 .8-.5 .8-.3 .8 0 .8 .1 .8 .3 .8 .5 .8 .7 .8 .9 .8 1 .8 1.1 .8 1.2 .8 1.2 .8 1.2 .8 1.3 .8 1.2 .8 1.1 .8 1.1 .8 1 .8 .9 .8 .8 .8 .7 .8 .6 .8 .5 .8 .4 .8 .2 .8 .2 .8 0 .8-.2 .8-.3 .8-.6 .8-.7 .8-1.1 .8-1.3 .8-1.6 .8-2 .8-2.3 .8-2.6 .8-2.9 .8-3.2 .8-3.2 .8-3.3 .8-3.3 .8-3 .8-2.7 .8-2.2 .8-1.7 .8-1.2 .8-.5 .8 0 .8 .4 .8 .8 .8 .7 .8 .7 .8 .1 .8-.4 .8-1.4 .8-2.5 .8-3.7 .8-4.9 .8-6.1 .8-7.1 .8-7.7 .8-8 .8-7.8 .8-7.1 .8-5.9 .8-4.2 .8-2 .8 .2 .8 2.7 .8 4.8 .8 6.8 .8 8.1 .8 9.1 .8 9.6 .8 9.6 .8 9.3 .8 8.6 .8 7.8 .8 6.7 .8 5.8 .8 4.7 .8 3.8 .8 3 .8 2.3 .8 1.6 .8 1.2 .8 .9 .8 .5 .8 .4 .8 .2 .7 .1 .8 0 .8 0 .8 .1 .8 0 .8 .1 .8 .1 .8 .1 .8 .1 .8 .2 .8 .2 .8 .2 .8 .1 .8 .2 .8 .1 .8 .2 .8 .1 .8 .1 .8 .1 .8 0 .8 .1 .8 0 .8 0 .8 .1 .8 0" fill="none" stroke="#111" stroke-width=".9"/>
<g fill="none" stroke="#000" stroke-linejoin="round" stroke-linecap="round"><path d="M378.3 152.3l1.6 .3 1.6 .5 1.6 .3 1.6 0 1.6-.4 1.6-.1 1.6-.2 1.6-.5 1.6 .1 1.6 .5 1.6 0 1.6-.2 1.6-.4 1.6 .2 1.6-.1 1.6 .2 1.6 .2 1.6-.9 1.6 .3 1.6-.4 1.6-.1 1.6-.4 1.6 .5 1.6-.4 1.6-.8 1.6-1.7 1.5-2.2 1.6-1.7 1.6-1.8 1.6-2.4 1.6-2 1.6-2.7 1.6-.7 1.6-1.3 1.6 .3 1.6-.3 1.6 .7 1.6 1.2 1.6 3 1.6 2.8 1.6 2.2 1.6 2.2 1.6 1.6 1.6 1.2 1.6 1.1 1.6-.1 1.6 .2 1.6 0 1.6-1 1.6-1.8 1.6-3.5 1.6-5 1.6-6.3 1.6-8.1 1.6-5.6 1.6-5.2 1.6-2 1.6-.7 1.6 1 1.6 1.2 1.6-.2 1.6-5 1.6-8.9 1.6-11.2 1.6-15.4 1.6-15.6 1.6-10.2 1.6-1.9 1.6 10.6 1.6 13.9 1.6 17.8 1.6 18 1.6 15 1.6 13.4 1.6 9.7 1.6 5.4 1.6 2.7 1.6 .8 1.6 .1 1.5 .5 1.6 0 1.6-.2 1.6 1.2 1.6-.3 1.6 .2 1.6-.4 1.6 1.5 1.6 .1 1.6 .1 1.6 .2 1.6-.3 1.6-.1 1.6 .4 1.6-.3 1.6 .3 1.6 .5 1.6 .1 1.6 .3 1.6 0 1.6 .2 1.6-.4 1.6-.1 1.6-.7 1.6 .1 1.6-.2" stroke-width="1.7"/><path d="M378.3 152.3l1.6 .3 1.6 .5 1.6 .3 1.6 0 1.6-.4 1.6-.1 1.6-.2 1.6-.5 1.6 .1 1.6 .5 1.6 0 1.6-.2 1.6-.4 1.6 .2 1.6-.1 1.6 .2 1.6 .2 1.6-.9 1.6 .3 1.6-.4 1.6-.1 1.6-.4 1.6 .5 1.6-.4 1.6-.8 1.6-1.7 1.5-2.2 1.6-1.7 1.6-1.8 1.6-2.4 1.6-2 1.6-2.7 1.6-.7 1.6-1.3 1.6 .3 1.6-.3 1.6 .7 1.6 1.2 1.6 3 1.6 2.8 1.6 2.2 1.6 2.2 1.6 1.6 1.6 1.2 1.6 1.1 1.6-.1 1.6 .2 1.6 0 1.6-1 1.6-1.8 1.6-3.5 1.6-5 1.6-6.3 1.6-8.1 1.6-5.6 1.6-5.2 1.6-2 1.6-.7 1.6 1 1.6 1.2 1.6-.2 1.6-5 1.6-8.9 1.6-11.2 1.6-15.4 1.6-15.6 1.6-10.2 1.6-1.9 1.6 10.6 1.6 13.9 1.6 17.8 1.6 18 1.6 15 1.6 13.4 1.6 9.7 1.6 5.4 1.6 2.7 1.6 .8 1.6 .1 1.5 .5 1.6 0 1.6-.2 1.6 1.2 1.6-.3 1.6 .2 1.6-.4 1.6 1.5 1.6 .1 1.6 .1 1.6 .2 1.6-.3 1.6-.1 1.6 .4 1.6-.3 1.6 .3 1.6 .5 1.6 .1 1.6 .3 1.6 0 1.6 .2 1.6-.4 1.6-.1 1.6-.7 1.6 .1 1.6-.2" stroke-width="2.7" stroke-dasharray="0 1.9"/></g>
<path d="M411.1 277.7l.8-.1 .8-.1 .8-.2 .8-.2 .8-.2 .8-.3 .8-.3 .8-.4 .8-.5 .8-.5 .8-.7 .7-.7 .8-.8 .8-.9 .8-1.1 .8-1 .8-1.2 .8-1.2 .8-1.2 .8-1.2 .8-1.2 .8-1.2 .8-1.1 .8-.9 .8-.8 .8-.7 .8-.5 .8-.3 .8 0 .8 .1 .8 .3 .8 .6 .8 .7 .8 .8 .8 1 .8 1.2 .8 1.1 .8 1.3 .8 1.2 .8 1.3 .8 1.2 .8 1.2 .8 1 .8 1.1 .8 .9 .8 .8 .8 .7 .8 .7 .8 .5 .8 .5 .8 .4 .8 .4 .8 .2 .8 .2 .8 .2 .8 .2 .8 .1 .8 .1 0 .2 -46.3-.5z" fill="#f07c9c"/>
<path d="M451 278.1l.8-.1 .8-.2 .8-.2 .8-.4 .8-.5 .8-.6 .8-.9 .8-1 .8-1.4 .8-1.7 .8-1.9 .8-2.3 .8-2.6 .8-2.9 .8-3.1 .8-3.2 .8-3.3 .8-3.1 .8-2.9 .8-2.6 .8-2.1 .8-1.4 .8-.8 .8-.1 .8 .7 .8 1.4 .8 2 .8 2.5 .8 2.9 .8 3.1 .8 3.4 .8 3.3 .8 3.2 .8 3 .8 2.7 .8 2.5 .8 2.1 .8 1.8 .8 1.5 .8 1.3 .8 1 .8 .8 .8 .6 .8 .5 .8 .4 .8 .3 .8 .3 0 .2 -37.6-1.9z" fill="#e97c8a"/>
<path d="M440.6 278.1l.8 0 .8 0 .8 0 .8 0 .8 0 .8 0 .8 0 .8 0 .8 0 .8 0 .8 0 .8 0 .8-.1 .8 0 .8 0 .8 0 .8 0 .8 0 .8-.1 .8 0 .8 0 .8 0 .8 0 .8-.1 .8 0 .8 0 .8 0 .8-.1 .8 0 .8 0 .8-.1 .8 0 .8-.1 .8-.2 .8-.2 .8-.3 .8-.4 .8-.6 .8-.9 .8-1.3 .8-1.7 .8-2.2 .8-3 .8-3.8 .8-4.7 .8-5.6 .8-6.8 .8-7.6 .8-8.6 .8-9.2 .8-9.5 .8-9.6 .8-9 .8-8.1 .8-6.6 .8-4.8 .8-2.4 .8 0 .8 2.5 .8 4.8 .8 6.7 .8 8.2 .8 9.1 .8 9.7 .8 9.7 .8 9.3 .8 8.7 .8 7.9 .8 6.8 .8 5.8 .8 4.9 .8 3.8 .8 3.1 .8 2.4 .8 1.7 .8 1.4 .8 .9 .8 .7 .8 .5 .8 .3 .7 .3 .8 .2 .8 .1 .8 .1 .8 .1 .8 .1 .8 0 .8 .1 .8 0 .8 .1 .8 0 .8 0 .8 .1 .8 0 .8 0 .8 0 .8 .1 .8 0 .8 0 .8 0 .8 0 .8 .1 .8 0 .8 0 .8 0 .8 0 .8 0 .8 0 .8 0 .8 0 .8 .1 .8 0 .8 0 .8 0 .8 0 .8 0 0 .2 -92.7-2.7z" fill="#aa92d2"/>
<path d="M499.8 280.7l.8-.1 .8-.1 .8-.1 .8-.2 .8-.1 .8-.1 .7-.2 .8-.1 .8-.1 .8-.1 .8 0 .8 0 .8 0 .8 .1 .8 .1 .8 .1 .8 .2 .8 .1 .8 .1 .8 .2 .8 .1 .8 .1 .8 .1 .8 .1 0 .2 -19.1-.1z" fill="#8a70b4"/>
<path d="M451 278.1l.8-.1 .8-.2 .8-.2 .8 0 .8 .2 .8 .2 .8 .1 .8 .1 0 .2 -6.4 0z" fill="#e2566d"/>
<path d="M451 278.1l.8-.1 .8 0 .8 0 .8 0 .8 0 .8-.1 .8 0 .8 0 .8 0 .8 0 .8-.1 .8 0 .8 0 .8 0 .8-.1 .8 0 .8 0 .8-.1 .8 0 .8-.1 .8-.2 .8-.2 .8-.3 .8-.4 .8-.6 .8-.9 .8-1.3 .8-1.7 .8-2.2 .8-3 .8-3.8 .8-4.7 .8 3.1 .8 3 .8 2.7 .8 2.5 .8 2.1 .8 1.8 .8 1.5 .8 1.3 .8 1 .8 .8 .8 .6 .8 .5 .8 .4 .8 .3 .8 .3 0 .2 -37.6-1.9z" fill="#ae618a"/>
<path d="M499.8 280.7l.8-.1 .8-.1 .8-.1 .8-.2 .8-.1 .8-.1 .7-.2 .8 0 .8 .1 .8 .1 .8 .1 .8 .1 .8 0 .8 .1 .8 0 .8 .1 .8 0 .8 0 .8 .1 .8 0 .8 0 .8 .1 .8 .1 .8 .1 0 .2 -19.1-.1z" fill="#755aa7"/>
<path d="M411.1 277.7l.8-.1 .8-.1 .8-.2 .8-.2 .8-.2 .8-.3 .8-.3 .8-.4 .8-.5 .8-.5 .8-.7 .7-.7 .8-.8 .8-.9 .8-1.1 .8-1 .8-1.2 .8-1.2 .8-1.2 .8-1.2 .8-1.2 .8-1.2 .8-1.1 .8-.9 .8-.8 .8-.7 .8-.5 .8-.3 .8 0 .8 .1 .8 .3 .8 .6 .8 .7 .8 .8 .8 1 .8 1.2 .8 1.1 .8 1.3 .8 1.2 .8 1.3 .8 1.2 .8 1.2 .8 1 .8 1.1 .8 .9 .8 .8 .8 .7 .8 .7 .8 .5 .8 .5 .8 .4 .8 .4 .8 .2 .8 .2 .8 .2 .8 .2 .8 .1 .8 .1 0 .2 -46.3-.5zM451 278.1l.8-.1 .8-.2 .8-.2 .8-.4 .8-.5 .8-.6 .8-.9 .8-1 .8-1.4 .8-1.7 .8-1.9 .8-2.3 .8-2.6 .8-2.9 .8-3.1 .8-3.2 .8-3.3 .8-3.1 .8-2.9 .8-2.6 .8-2.1 .8-1.4 .8-.8 .8-.1 .8 .7 .8 1.4 .8 2 .8 2.5 .8 2.9 .8 3.1 .8 3.4 .8 3.3 .8 3.2 .8 3 .8 2.7 .8 2.5 .8 2.1 .8 1.8 .8 1.5 .8 1.3 .8 1 .8 .8 .8 .6 .8 .5 .8 .4 .8 .3 .8 .3 0 .2 -37.6-1.9zM440.6 278.1l.8 0 .8 0 .8 0 .8 0 .8 0 .8 0 .8 0 .8 0 .8 0 .8 0 .8 0 .8 0 .8-.1 .8 0 .8 0 .8 0 .8 0 .8 0 .8-.1 .8 0 .8 0 .8 0 .8 0 .8-.1 .8 0 .8 0 .8 0 .8-.1 .8 0 .8 0 .8-.1 .8 0 .8-.1 .8-.2 .8-.2 .8-.3 .8-.4 .8-.6 .8-.9 .8-1.3 .8-1.7 .8-2.2 .8-3 .8-3.8 .8-4.7 .8-5.6 .8-6.8 .8-7.6 .8-8.6 .8-9.2 .8-9.5 .8-9.6 .8-9 .8-8.1 .8-6.6 .8-4.8 .8-2.4 .8 0 .8 2.5 .8 4.8 .8 6.7 .8 8.2 .8 9.1 .8 9.7 .8 9.7 .8 9.3 .8 8.7 .8 7.9 .8 6.8 .8 5.8 .8 4.9 .8 3.8 .8 3.1 .8 2.4 .8 1.7 .8 1.4 .8 .9 .8 .7 .8 .5 .8 .3 .7 .3 .8 .2 .8 .1 .8 .1 .8 .1 .8 .1 .8 0 .8 .1 .8 0 .8 .1 .8 0 .8 0 .8 .1 .8 0 .8 0 .8 0 .8 .1 .8 0 .8 0 .8 0 .8 0 .8 .1 .8 0 .8 0 .8 0 .8 0 .8 0 .8 0 .8 0 .8 0 .8 .1 .8 0 .8 0 .8 0 .8 0 .8 0 0 .2 -92.7-2.7zM499.8 280.7l.8-.1 .8-.1 .8-.1 .8-.2 .8-.1 .8-.1 .7-.2 .8-.1 .8-.1 .8-.1 .8 0 .8 0 .8 0 .8 .1 .8 .1 .8 .1 .8 .2 .8 .1 .8 .1 .8 .2 .8 .1 .8 .1 .8 .1 .8 .1 0 .2 -19.1-.1z" fill="none" stroke="#1a1208" stroke-width="1.1"/>
<path d="M411.1 277.6l.8-.1 .8-.1 .8-.2 .8-.1 .8-.3 .8-.2 .8-.4 .8-.4 .8-.5 .8-.5 .8-.7 .7-.7 .8-.8 .8-1 .8-1 .8-1 .8-1.2 .8-1.2 .8-1.2 .8-1.3 .8-1.2 .8-1.1 .8-1.1 .8-1 .8-.8 .8-.7 .8-.4 .8-.3 .8-.1 .8 .1 .8 .4 .8 .5 .8 .7 .8 .9 .8 1 .8 1.1 .8 1.1 .8 1.3 .8 1.2 .8 1.2 .8 1.3 .8 1.1 .8 1.1 .8 1 .8 .9 .8 .8 .8 .7 .8 .6 .8 .5 .8 .3 .8 .3 .8 .1 .8 0 .8-.1 .8-.4 .8-.5 .8-.8 .8-1 .8-1.3 .8-1.6 .8-2 .8-2.3 .8-2.6 .8-2.9 .8-3.2 .8-3.2 .8-3.4 .8-3.2 .8-3 .8-2.7 .8-2.2 .8-1.7 .8-1.1 .8-.6 .8 0 .8 .5 .8 .7 .8 .7 .8 .6 .8 .2 .8-.5 .8-1.4 .8-2.5 .8-3.8 .8-5 .8-6.1 .8-7.2 .8-7.8 .8-8.1 .8-7.8 .8-7.2 .8-6 .8-4.1 .8-2.1 .8 .3 .8 2.7 .8 4.9 .8 6.8 .8 8.3 .8 9.2 .8 9.6 .8 9.8 .8 9.3 .8 8.7 .8 7.8 .8 6.9 .8 5.8 .8 4.8 .8 3.8 .8 3 .8 2.3 .8 1.7 .8 1.2 .8 .8 .8 .6 .8 .3 .8 .2 .7 .1 .8 .1 .8 0 .8 .1 .8 0 .8 .1 .8 .1 .8 .1 .8 .1 .8 .2 .8 .2 .8 .1 .8 .2 .8 .2 .8 .1 .8 .2 .8 .1 .8 .1 .8 .1 .8 0 .8 .1 .8 0 .8 0 .8 .1 .8 0" fill="none" stroke="#111" stroke-width=".9"/>
<g fill="none" stroke="#000" stroke-linejoin="round" stroke-linecap="round"><path d="M378.3 277.6l1.6 0 1.6 0 1.6 0 1.6 .4 1.6-.6 1.6 .1 1.6 .1 1.6-.2 1.6 .2 1.6 .2 1.6 .8 1.6-.3 1.6-.3 1.6 .2 1.6-.5 1.6-.1 1.6 .3 1.6-.2 1.6-.3 1.6-.1 1.6-.4 1.6 .5 1.6-.1 1.6 .1 1.6-1.6 1.6-1.6 1.5-1.7 1.6-1.7 1.6-2.3 1.6-2.1 1.6-2.8 1.6-2.9 1.6-.7 1.6-1.7 1.6 .2 1.6 0 1.6 1.3 1.6 1 1.6 2.3 1.6 3 1.6 2.8 1.6 2.1 1.6 1.9 1.6 .8 1.6 1.5 1.6 .5 1.6 0 1.6-.1 1.6-1.4 1.6-2.6 1.6-3.5 1.6-4.9 1.6-6 1.6-6.3 1.6-6.5 1.6-4.2 1.6-2.2 1.6-.5 1.6 .3 1.6 .9 1.6 0 1.6-4.1 1.6-7.9 1.6-13.6 1.6-15.8 1.6-15.8 1.6-9.9 1.6-2.6 1.6 7 1.6 15.9 1.6 18.5 1.6 19.2 1.6 17.4 1.6 13.4 1.6 8.2 1.6 4.9 1.6 3.2 1.6 1.6 1.6 .4 1.5-.3 1.6-.1 1.6 .6 1.6-.3 1.6 .5 1.6 .8 1.6 .5 1.6-.2 1.6 .1 1.6 .1 1.6-.2 1.6 .3 1.6-.1 1.6 .4 1.6-.4 1.6 0 1.6 0 1.6 .3 1.6-.7 1.6 .7 1.6 0 1.6 .1 1.6 .4 1.6-.2 1.6 .1 1.6-.1" stroke-width="1.7"/><path d="M378.3 277.6l1.6 0 1.6 0 1.6 0 1.6 .4 1.6-.6 1.6 .1 1.6 .1 1.6-.2 1.6 .2 1.6 .2 1.6 .8 1.6-.3 1.6-.3 1.6 .2 1.6-.5 1.6-.1 1.6 .3 1.6-.2 1.6-.3 1.6-.1 1.6-.4 1.6 .5 1.6-.1 1.6 .1 1.6-1.6 1.6-1.6 1.5-1.7 1.6-1.7 1.6-2.3 1.6-2.1 1.6-2.8 1.6-2.9 1.6-.7 1.6-1.7 1.6 .2 1.6 0 1.6 1.3 1.6 1 1.6 2.3 1.6 3 1.6 2.8 1.6 2.1 1.6 1.9 1.6 .8 1.6 1.5 1.6 .5 1.6 0 1.6-.1 1.6-1.4 1.6-2.6 1.6-3.5 1.6-4.9 1.6-6 1.6-6.3 1.6-6.5 1.6-4.2 1.6-2.2 1.6-.5 1.6 .3 1.6 .9 1.6 0 1.6-4.1 1.6-7.9 1.6-13.6 1.6-15.8 1.6-15.8 1.6-9.9 1.6-2.6 1.6 7 1.6 15.9 1.6 18.5 1.6 19.2 1.6 17.4 1.6 13.4 1.6 8.2 1.6 4.9 1.6 3.2 1.6 1.6 1.6 .4 1.5-.3 1.6-.1 1.6 .6 1.6-.3 1.6 .5 1.6 .8 1.6 .5 1.6-.2 1.6 .1 1.6 .1 1.6-.2 1.6 .3 1.6-.1 1.6 .4 1.6-.4 1.6 0 1.6 0 1.6 .3 1.6-.7 1.6 .7 1.6 0 1.6 .1 1.6 .4 1.6-.2 1.6 .1 1.6-.1" stroke-width="2.7" stroke-dasharray="0 1.9"/></g>
<path d="M412.7 403.7l.8-.1 .8-.1 .8-.2 .8-.2 .8-.2 .8-.3 .8-.3 .8-.5 .8-.5 .7-.6 .8-.7 .8-.8 .8-.9 .8-.9 .8-1.1 .8-1.2 .8-1.3 .8-1.2 .8-1.4 .8-1.3 .8-1.2 .8-1.3 .8-1.1 .8-.9 .8-.8 .8-.7 .8-.4 .8-.2 .8 .1 .8 .3 .8 .5 .8 .7 .8 .8 .8 1.1 .8 1.2 .8 1.2 .8 1.4 .8 1.3 .8 1.4 .8 1.3 .8 1.3 .8 1.1 .8 1.2 .8 1 .8 .9 .8 .8 .8 .7 .8 .6 .8 .5 .8 .4 .8 .4 .8 .3 .8 .2 .8 .2 .8 .2 .8 .1 .8 .1 0 .2 -45.5-.9z" fill="#f07c9c"/>
<path d="M447 404.5l.8-.1 .8-.1 .8-.2 .8-.2 .8-.3 .8-.4 .8-.5 .8-.6 .8-.7 .8-.8 .8-1 .8-1.2 .8-1.4 .8-1.5 .8-1.7 .8-1.8 .8-2 .8-2 .8-2 .8-2.1 .8-1.9 .8-1.8 .8-1.6 .8-1.3 .8-1 .8-.7 .8-.3 .8 .1 .8 .5 .8 .9 .8 1.2 .8 1.5 .8 1.7 .8 1.9 .8 2.1 .8 2.1 .8 2.2 .8 2.1 .8 2 .8 1.9 .8 1.7 .8 1.6 .8 1.4 .8 1.3 .8 1.1 .8 .9 .8 .8 .8 .7 .8 .6 .8 .4 .8 .4 .8 .3 .8 .3 .8 .2 .8 .2 0 .2 -44-2.9z" fill="#e97c8a"/>
<path d="M444.6 404.4l.8 0 .8 .1 .8 0 .8 0 .8 0 .8 0 .8 0 .8-.1 .8 0 .8 0 .8 0 .8 0 .8 0 .8 0 .8 0 .8 0 .8 0 .8 0 .8 0 .8 0 .8-.1 .8 0 .8 0 .8-.1 .8 0 .8-.1 .8-.2 .8-.2 .8-.3 .8-.4 .8-.5 .8-.7 .8-.9 .8-1.1 .8-1.4 .8-1.7 .8-2.1 .8-2.4 .8-2.8 .8-3.2 .8-3.5 .8-3.8 .8-4.1 .8-4.3 .8-4.3 .8-4.2 .8-4 .8-3.7 .8-3.1 .8-2.5 .8-1.7 .8-.9 .8 .1 .8 1 .8 1.9 .8 2.6 .8 3.3 .8 3.8 .8 4.2 .8 4.4 .8 4.4 .8 4.4 .8 4.3 .8 3.9 .8 3.7 .8 3.3 .8 2.9 .8 2.5 .8 2.2 .8 1.8 .8 1.5 .8 1.2 .8 1 .8 .8 .8 .7 .7 .5 .8 .3 .8 .4 .8 .2 .8 .2 .8 .2 .8 .1 .8 .2 .8 .1 .8 .1 .8 0 .8 .1 .8 .1 .8 0 .8 .1 .8 0 .8 0 .8 0 .8 .1 .8 0 .8 0 .8 0 .8 0 .8 0 .8 0 .8 0 .8 .1 .8 0 .8 0 .8 0 0 .2 -83.9-4.4z" fill="#b49edc"/>
<path d="M478.2 405.8l.8 .1 .8 .1 .8 0 .8 .1 .8 .1 .8 .1 .8 .1 .8 0 .8 .1 .8 .1 .8 .1 .8 .1 .8 .1 .8 0 .8 .1 .8 0 .8 0 .8-.1 .8 0 .8-.2 .8-.2 .8-.3 .8-.5 .8-.6 .8-.8 .8-1.1 .8-1.3 .8-1.6 .8-1.9 .8-2.2 .8-2.5 .8-2.7 .8-2.9 .7-2.9 .8-2.9 .8-2.7 .8-2.4 .8-1.8 .8-1.3 .8-.5 .8 .6 .8 2 .8 3.1 .8 3.9 .8 4.3 .8 4.1 .8 3.9 .8 3.3 .8 2.7 .8 2.2 .8 1.5 .8 1.2 .8 .7 .8 .6 .8 .3 .8 .2 .8 .2 .8 .1 .8 0 .8 .1 .8 0 .8 0 .8 .1 .8 0 .8 0 .8 0 .8 .1 .8 0 .8 0 0 .2 -55.1-3z" fill="#8a70b4"/>
<path d="M447 404.5l.8-.1 .8-.1 .8-.2 .8-.2 .8-.3 .8-.4 .8-.1 .8 .4 .8 .3 .8 .2 .8 .2 .8 .2 .8 .1 .8 .1 0 .2 -11.2-.1z" fill="#e2566d"/>
<path d="M447 404.5l.8 0 .8 0 .8 0 .8 0 .8-.1 .8 0 .8 0 .8 0 .8 0 .8 0 .8 0 .8 0 .8 0 .8 0 .8 0 .8 0 .8 0 .8-.1 .8 0 .8 0 .8-.1 .8 0 .8-.1 .8-.2 .8-.2 .8-.3 .8-.4 .8-.5 .8-.7 .8-.9 .8-1.1 .8-1.4 .8-1.7 .8-2.1 .8-2.4 .8-2.8 .8 .1 .8 2.1 .8 2 .8 1.9 .8 1.7 .8 1.6 .8 1.4 .8 1.3 .8 1.1 .8 .9 .8 .8 .8 .7 .8 .6 .8 .4 .8 .4 .8 .3 .8 .3 .8 .2 .8 .2 0 .2 -44-2.9z" fill="#b5668f"/>
<path d="M478.2 405.8l.8 .1 .8 .1 .8 0 .8 .1 .8 .1 .8 .1 .8 .1 .8 0 .8 .1 .8 .1 .8 .1 .8 .1 .8 .1 .8 0 .8 .1 .8 0 .8 0 .8-.1 .8 0 .8-.2 .8-.2 .8-.3 .8-.5 .8-.6 .8-.8 .8-1.1 .8-1.3 .8-1.1 .8 1.5 .8 1.2 .8 1 .8 .8 .8 .7 .7 .5 .8 .3 .8 .4 .8 .2 .8 .2 .8 .2 .8 .1 .8 .2 .8 .1 .8 .1 .8 0 .8 .1 .8 .1 .8 0 .8 .1 .8 0 .8 0 .8 0 .8 .1 .8 0 .8 0 .8 0 .8 0 .8 0 .8 0 .8 0 .8 .1 .8 0 .8 0 .8 0 0 .2 -50.3-3z" fill="#7a60ad"/>
<path d="M412.7 403.7l.8-.1 .8-.1 .8-.2 .8-.2 .8-.2 .8-.3 .8-.3 .8-.5 .8-.5 .7-.6 .8-.7 .8-.8 .8-.9 .8-.9 .8-1.1 .8-1.2 .8-1.3 .8-1.2 .8-1.4 .8-1.3 .8-1.2 .8-1.3 .8-1.1 .8-.9 .8-.8 .8-.7 .8-.4 .8-.2 .8 .1 .8 .3 .8 .5 .8 .7 .8 .8 .8 1.1 .8 1.2 .8 1.2 .8 1.4 .8 1.3 .8 1.4 .8 1.3 .8 1.3 .8 1.1 .8 1.2 .8 1 .8 .9 .8 .8 .8 .7 .8 .6 .8 .5 .8 .4 .8 .4 .8 .3 .8 .2 .8 .2 .8 .2 .8 .1 .8 .1 0 .2 -45.5-.9zM447 404.5l.8-.1 .8-.1 .8-.2 .8-.2 .8-.3 .8-.4 .8-.5 .8-.6 .8-.7 .8-.8 .8-1 .8-1.2 .8-1.4 .8-1.5 .8-1.7 .8-1.8 .8-2 .8-2 .8-2 .8-2.1 .8-1.9 .8-1.8 .8-1.6 .8-1.3 .8-1 .8-.7 .8-.3 .8 .1 .8 .5 .8 .9 .8 1.2 .8 1.5 .8 1.7 .8 1.9 .8 2.1 .8 2.1 .8 2.2 .8 2.1 .8 2 .8 1.9 .8 1.7 .8 1.6 .8 1.4 .8 1.3 .8 1.1 .8 .9 .8 .8 .8 .7 .8 .6 .8 .4 .8 .4 .8 .3 .8 .3 .8 .2 .8 .2 0 .2 -44-2.9zM444.6 404.4l.8 0 .8 .1 .8 0 .8 0 .8 0 .8 0 .8 0 .8-.1 .8 0 .8 0 .8 0 .8 0 .8 0 .8 0 .8 0 .8 0 .8 0 .8 0 .8 0 .8 0 .8-.1 .8 0 .8 0 .8-.1 .8 0 .8-.1 .8-.2 .8-.2 .8-.3 .8-.4 .8-.5 .8-.7 .8-.9 .8-1.1 .8-1.4 .8-1.7 .8-2.1 .8-2.4 .8-2.8 .8-3.2 .8-3.5 .8-3.8 .8-4.1 .8-4.3 .8-4.3 .8-4.2 .8-4 .8-3.7 .8-3.1 .8-2.5 .8-1.7 .8-.9 .8 .1 .8 1 .8 1.9 .8 2.6 .8 3.3 .8 3.8 .8 4.2 .8 4.4 .8 4.4 .8 4.4 .8 4.3 .8 3.9 .8 3.7 .8 3.3 .8 2.9 .8 2.5 .8 2.2 .8 1.8 .8 1.5 .8 1.2 .8 1 .8 .8 .8 .7 .7 .5 .8 .3 .8 .4 .8 .2 .8 .2 .8 .2 .8 .1 .8 .2 .8 .1 .8 .1 .8 0 .8 .1 .8 .1 .8 0 .8 .1 .8 0 .8 0 .8 0 .8 .1 .8 0 .8 0 .8 0 .8 0 .8 0 .8 0 .8 0 .8 .1 .8 0 .8 0 .8 0 0 .2 -83.9-4.4zM478.2 405.8l.8 .1 .8 .1 .8 0 .8 .1 .8 .1 .8 .1 .8 .1 .8 0 .8 .1 .8 .1 .8 .1 .8 .1 .8 .1 .8 0 .8 .1 .8 0 .8 0 .8-.1 .8 0 .8-.2 .8-.2 .8-.3 .8-.5 .8-.6 .8-.8 .8-1.1 .8-1.3 .8-1.6 .8-1.9 .8-2.2 .8-2.5 .8-2.7 .8-2.9 .7-2.9 .8-2.9 .8-2.7 .8-2.4 .8-1.8 .8-1.3 .8-.5 .8 .6 .8 2 .8 3.1 .8 3.9 .8 4.3 .8 4.1 .8 3.9 .8 3.3 .8 2.7 .8 2.2 .8 1.5 .8 1.2 .8 .7 .8 .6 .8 .3 .8 .2 .8 .2 .8 .1 .8 0 .8 .1 .8 0 .8 0 .8 .1 .8 0 .8 0 .8 0 .8 .1 .8 0 .8 0 0 .2 -55.1-3z" fill="none" stroke="#1a1208" stroke-width="1.1"/>
<path d="M412.7 403.6l.8-.1 .8-.1 .8-.2 .8-.2 .8-.2 .8-.3 .8-.3 .8-.5 .8-.5 .7-.6 .8-.7 .8-.8 .8-.9 .8-1 .8-1.1 .8-1.1 .8-1.3 .8-1.3 .8-1.3 .8-1.3 .8-1.3 .8-1.2 .8-1.1 .8-1 .8-.8 .8-.6 .8-.4 .8-.2 .8 0 .8 .3 .8 .5 .8 .7 .8 .8 .8 1.1 .8 1.1 .8 1.3 .8 1.3 .8 1.3 .8 1.4 .8 1.3 .8 1.2 .8 1.1 .8 1 .8 1 .8 .7 .8 .6 .8 .5 .8 .3 .8 .1 .8-.1 .8-.2 .8-.5 .8-.6 .8-.9 .8-1 .8-1.3 .8-1.5 .8-1.7 .8-1.8 .8-1.9 .8-2.1 .8-2.1 .8-2.1 .8-2.1 .8-1.9 .8-1.9 .8-1.6 .8-1.3 .8-1.2 .8-.9 .8-.6 .8-.5 .8-.3 .8-.2 .8-.2 .8-.3 .8-.5 .8-.7 .8-1 .8-1.4 .8-1.8 .8-2.2 .8-2.6 .8-2.8 .8-3 .8-3.1 .8-3 .8-2.8 .8-2.4 .8-1.8 .8-1.1 .8-.3 .8 .6 .8 1.4 .8 2.3 .8 3 .8 3.7 .8 4.1 .8 4.5 .8 4.6 .8 4.6 .8 4.5 .8 4.3 .8 3.8 .8 3.5 .8 2.8 .8 2.3 .8 1.6 .8 1 .8 .3 .8-.3 .8-.9 .8-1.5 .8-1.9 .8-2.2 .7-2.4 .8-2.6 .8-2.4 .8-2.1 .8-1.7 .8-1.1 .8-.4 .8 .6 .8 2.1 .8 3.2 .8 3.9 .8 4.3 .8 4.2 .8 3.9 .8 3.3 .8 2.8 .8 2.1 .8 1.6 .8 1.2 .8 .7 .8 .6 .8 .3 .8 .2 .8 .2 .8 .1 .8 .1 .8 0 .8 .1 .8 0 .8 .1 .8 0 .8 0 .8 .1 .8 0 .8 0 .8 0 .8 0 .8 .1 .8 0 .8 0" fill="none" stroke="#111" stroke-width=".9"/>
<g fill="none" stroke="#000" stroke-linejoin="round" stroke-linecap="round"><path d="M378.3 403.6l1.6 .2 1.6 .2 1.6-.2 1.6-.2 1.6 .1 1.6 .2 1.6 .2 1.6-.4 1.6-.2 1.6 .3 1.6 .1 1.6 .3 1.6 0 1.6-.2 1.6-.2 1.6 .5 1.6-.3 1.6-.3 1.6-.2 1.6 .1 1.6 0 1.6-.2 1.6-.2 1.6-.4 1.6-.5 1.6-.8 1.5-1.4 1.6-2.2 1.6-1.7 1.6-2.8 1.6-2.5 1.6-2.9 1.6-2 1.6-1.9 1.6-.8 1.6 .8 1.6 .3 1.6 1.6 1.6 1.6 1.6 2.5 1.6 3 1.6 2.4 1.6 2.2 1.6 1.7 1.6 .8 1.6 .6 1.6-.5 1.6-.5 1.6-2.3 1.6-2.6 1.6-3.6 1.6-3.8 1.6-4.6 1.6-3.7 1.6-3.6 1.6-2.1 1.6-1.6 1.6-.9 1.6-.8 1.6-.5 1.6-1.7 1.6-2.8 1.6-5.2 1.6-5.7 1.6-6.1 1.6-5.2 1.6-3 1.6 .2 1.6 3.4 1.6 6.4 1.6 8.7 1.6 9.7 1.6 9.2 1.6 7.3 1.6 5.1 1.6 2.6 1.6-.1 1.6-2.5 1.6-4.1 1.5-4.6 1.6-5 1.6-3.1 1.6 .9 1.6 5 1.6 8.3 1.6 8.1 1.6 5.6 1.6 4.3 1.6 2.1 1.6 .5 1.6 .4 1.6 0 1.6-.1 1.6 .1 1.6 .2 1.6 .2 1.6 .1 1.6-.1 1.6 .2 1.6-.3 1.6 .2 1.6 .1 1.6-.1 1.6-.4 1.6 0" stroke-width="1.7"/><path d="M378.3 403.6l1.6 .2 1.6 .2 1.6-.2 1.6-.2 1.6 .1 1.6 .2 1.6 .2 1.6-.4 1.6-.2 1.6 .3 1.6 .1 1.6 .3 1.6 0 1.6-.2 1.6-.2 1.6 .5 1.6-.3 1.6-.3 1.6-.2 1.6 .1 1.6 0 1.6-.2 1.6-.2 1.6-.4 1.6-.5 1.6-.8 1.5-1.4 1.6-2.2 1.6-1.7 1.6-2.8 1.6-2.5 1.6-2.9 1.6-2 1.6-1.9 1.6-.8 1.6 .8 1.6 .3 1.6 1.6 1.6 1.6 1.6 2.5 1.6 3 1.6 2.4 1.6 2.2 1.6 1.7 1.6 .8 1.6 .6 1.6-.5 1.6-.5 1.6-2.3 1.6-2.6 1.6-3.6 1.6-3.8 1.6-4.6 1.6-3.7 1.6-3.6 1.6-2.1 1.6-1.6 1.6-.9 1.6-.8 1.6-.5 1.6-1.7 1.6-2.8 1.6-5.2 1.6-5.7 1.6-6.1 1.6-5.2 1.6-3 1.6 .2 1.6 3.4 1.6 6.4 1.6 8.7 1.6 9.7 1.6 9.2 1.6 7.3 1.6 5.1 1.6 2.6 1.6-.1 1.6-2.5 1.6-4.1 1.5-4.6 1.6-5 1.6-3.1 1.6 .9 1.6 5 1.6 8.3 1.6 8.1 1.6 5.6 1.6 4.3 1.6 2.1 1.6 .5 1.6 .4 1.6 0 1.6-.1 1.6 .1 1.6 .2 1.6 .2 1.6 .1 1.6-.1 1.6 .2 1.6-.3 1.6 .2 1.6 .1 1.6-.1 1.6-.4 1.6 0" stroke-width="2.7" stroke-dasharray="0 1.9"/></g>
<path d="M412.7 523.7l.8-.1 .8-.1 .8-.1 .8-.2 .8-.2 .8-.2 .8-.3 .8-.3 .8-.4 .7-.4 .8-.5 .8-.6 .8-.6 .8-.7 .8-.7 .8-.8 .8-.8 .8-.8 .8-.8 .8-.8 .8-.8 .8-.7 .8-.6 .8-.5 .8-.5 .8-.3 .8-.1 .8 0 .8 .1 .8 .2 .8 .4 .8 .5 .8 .7 .8 .7 .8 .7 .8 .8 .8 .9 .8 .8 .8 .9 .8 .8 .8 .8 .8 .7 .8 .7 .8 .6 .8 .6 .8 .5 .8 .4 .8 .4 .8 .3 .8 .3 .8 .2 .8 .2 .8 .1 .8 .2 .8 .1 .8 .1 0 .2 -44.7-.8z" fill="#f07c9c"/>
<path d="M445.4 524.3l.8 0 .8-.1 .8-.1 .8-.2 .8-.2 .8-.2 .8-.3 .8-.4 .8-.4 .8-.5 .8-.6 .8-.7 .8-.7 .8-.9 .8-.9 .8-1 .8-1.1 .8-1.2 .8-1.1 .8-1.2 .8-1.2 .8-1.1 .8-1.1 .8-.9 .8-.9 .8-.7 .8-.5 .8-.3 .8-.2 .8 .1 .8 .3 .8 .5 .8 .6 .8 .8 .8 1 .8 1.1 .8 1.1 .8 1.3 .8 1.2 .8 1.3 .8 1.2 .8 1.2 .8 1.2 .8 1 .8 1 .8 1 .8 .8 .8 .7 .8 .7 .8 .5 .8 .5 .8 .5 .8 .3 .8 .3 .8 .3 .8 .2 .8 .2 .8 .1 0 .3 -46.4-2.4z" fill="#e97c8a"/>
<path d="M469.4 524.9l.8 0 .8-.2 .8-.2 .8-.3 .8-.5 .8-.6 .8-.9 .8-1 .8-1.4 .8-1.6 .8-1.9 .8-2.2 .8-2.4 .8-2.5 .8-2.7 .8-2.5 .8-2.4 .8-2.1 .8-1.7 .8-1.2 .8-.6 .8 .1 .8 .7 .8 1.2 .8 1.8 .8 2.3 .8 2.5 .8 2.7 .8 2.7 .8 2.7 .8 2.5 .8 2.3 .8 2 .8 1.7 .8 1.5 .8 1.2 .8 .9 .8 .8 .8 .6 .8 .4 .8 .4 .8 .2 .8 .3 0 .2 -34.4-2.5z" fill="#b49edc"/>
<path d="M418.3 523.7l.8 0 .8 0 .7 0 .8 0 .8 0 .8 0 .8 0 .8 .1 .8 0 .8 0 .8 0 .8 0 .8 0 .8 0 .8 0 .8 .1 .8 0 .8 0 .8 0 .8 0 .8 .1 .8 0 .8 0 .8 0 .8 0 .8 .1 .8 0 .8 0 .8 0 .8 0 .8 0 .8 0 .8 0 .8 0 .8 0 .8 0 .8 0 .8 0 .8 0 .8 0 .8 0 .8 0 .8 0 .8 0 .8 0 .8 0 .8 0 .8 0 .8 0 .8 0 .8 0 .8 0 .8 0 .8 0 .8 0 .8 0 .8 0 .8 0 .8 0 .8 0 .8 0 .8 0 .8 .1 .8 0 .8 0 .8 0 .8 0 .8 0 .8 0 .8 0 .8 0 .8-.1 .8 0 .8 0 .8 0 .8 0 .8-.1 .8 0 .8-.1 .8 0 .8 0 .8-.1 .8-.1 .8-.1 .8-.1 .8-.1 .8-.1 .8-.2 .8-.3 .8-.2 .8-.4 .8-.5 .8-.5 .8-.8 .8-.9 .8-1.1 .8-1.4 .8-1.7 .8-2.2 .8-2.5 .8-3.1 .8-3.6 .8-4.1 .8-4.7 .8-5.1 .8-5.6 .8-5.9 .8-6.1 .7-5.9 .8-5.6 .8-4.9 .8-3.8 .8-2.4 .8-.6 .8 1.9 .8 4.9 .8 6.9 .8 8 .8 8.4 .8 8.2 .8 7.5 .8 6.6 .8 5.6 .8 4.6 .8 3.7 .8 2.8 .8 2.2 .8 1.7 .8 1.2 .8 1 .8 .7 .8 .5 .8 .5 .8 .3 .8 .3 .8 .3 .8 .2 .8 .2 .8 .2 .8 .2 .8 .1 .8 .1 .8 .1 .8 .1 .8 .1 .8 .1 .8 .1 .8 .1 .8 0 .8 .1 .8 .1 .8 0 .8 .1 .8 0 .8 .1 .8 0 .8 0 .8 .1 .8 0 .8 0 .8 .1 0 .6 -128.6-5.9z" fill="#8a70b4"/>
<path d="M445.4 524.3l.8 0 .8-.1 .8-.1 .8-.2 .8-.2 .8-.2 .8-.3 .8 .1 .8 .3 .8 .2 .8 .2 .8 .1 .8 .2 .8 .1 .8 .1 0 .2 -12-.2z" fill="#e2566d"/>
<path d="M469.4 524.9l.8 0 .8-.2 .8-.2 .8-.3 .8-.5 .8-.6 .8-.9 .8-1 .8-1.4 .8-1.6 .8-1.9 .8 1 .8 1.2 .8 1 .8 1 .8 1 .8 .8 .8 .7 .8 .7 .8 .5 .8 .5 .8 .5 .8 .3 .8 .3 .8 .3 .8 .2 .8 .2 .8 .1 0 .3 -22.4-1.7z" fill="#b5668f"/>
<path d="M445.4 524.3l.8 0 .8-.1 .8-.1 .8 0 .8 0 .8 0 .8 0 .8 0 .8 0 .8 0 .8 0 .8 0 .8 0 .8 0 .8 0 .8 0 .8 0 .8 0 .8 0 .8 0 .8 0 .8 0 .8 0 .8 0 .8 0 .8 0 .8 0 .8 0 .8 .1 .8 0 .8 0 .8 0 .8 0 .8 0 .8 0 .8 0 .8 0 .8-.1 .8 0 .8 0 .8 0 .8 0 .8-.1 .8 0 .8-.1 .8 0 .8 0 .8-.1 .8-.1 .8 .5 .8 .5 .8 .5 .8 .3 .8 .3 .8 .3 .8 .2 .8 .2 .8 .1 0 .3 -46.4-2.4z" fill="#96507a"/>
<path d="M469.4 524.9l.8 0 .8-.2 .8-.2 .8-.3 .8 0 .8 0 .8 0 .8-.1 .8 0 .8 0 .8 0 .8 0 .8-.1 .8 0 .8-.1 .8 0 .8 0 .8-.1 .8-.1 .8-.1 .8-.1 .8-.1 .8-.1 .8-.2 .8-.3 .8-.2 .8-.4 .8-.5 .8-.5 .8-.8 .8-.9 .8-1.1 .8 1.1 .8 1.7 .8 1.5 .8 1.2 .8 .9 .8 .8 .8 .6 .8 .4 .8 .4 .8 .2 .8 .3 0 .2 -34.4-2.5z" fill="#7a60ad"/>
<path d="M412.7 523.7l.8-.1 .8-.1 .8-.1 .8-.2 .8-.2 .8-.2 .8-.3 .8-.3 .8-.4 .7-.4 .8-.5 .8-.6 .8-.6 .8-.7 .8-.7 .8-.8 .8-.8 .8-.8 .8-.8 .8-.8 .8-.8 .8-.7 .8-.6 .8-.5 .8-.5 .8-.3 .8-.1 .8 0 .8 .1 .8 .2 .8 .4 .8 .5 .8 .7 .8 .7 .8 .7 .8 .8 .8 .9 .8 .8 .8 .9 .8 .8 .8 .8 .8 .7 .8 .7 .8 .6 .8 .6 .8 .5 .8 .4 .8 .4 .8 .3 .8 .3 .8 .2 .8 .2 .8 .1 .8 .2 .8 .1 .8 .1 0 .2 -44.7-.8zM445.4 524.3l.8 0 .8-.1 .8-.1 .8-.2 .8-.2 .8-.2 .8-.3 .8-.4 .8-.4 .8-.5 .8-.6 .8-.7 .8-.7 .8-.9 .8-.9 .8-1 .8-1.1 .8-1.2 .8-1.1 .8-1.2 .8-1.2 .8-1.1 .8-1.1 .8-.9 .8-.9 .8-.7 .8-.5 .8-.3 .8-.2 .8 .1 .8 .3 .8 .5 .8 .6 .8 .8 .8 1 .8 1.1 .8 1.1 .8 1.3 .8 1.2 .8 1.3 .8 1.2 .8 1.2 .8 1.2 .8 1 .8 1 .8 1 .8 .8 .8 .7 .8 .7 .8 .5 .8 .5 .8 .5 .8 .3 .8 .3 .8 .3 .8 .2 .8 .2 .8 .1 0 .3 -46.4-2.4zM469.4 524.9l.8 0 .8-.2 .8-.2 .8-.3 .8-.5 .8-.6 .8-.9 .8-1 .8-1.4 .8-1.6 .8-1.9 .8-2.2 .8-2.4 .8-2.5 .8-2.7 .8-2.5 .8-2.4 .8-2.1 .8-1.7 .8-1.2 .8-.6 .8 .1 .8 .7 .8 1.2 .8 1.8 .8 2.3 .8 2.5 .8 2.7 .8 2.7 .8 2.7 .8 2.5 .8 2.3 .8 2 .8 1.7 .8 1.5 .8 1.2 .8 .9 .8 .8 .8 .6 .8 .4 .8 .4 .8 .2 .8 .3 0 .2 -34.4-2.5zM418.3 523.7l.8 0 .8 0 .7 0 .8 0 .8 0 .8 0 .8 0 .8 .1 .8 0 .8 0 .8 0 .8 0 .8 0 .8 0 .8 0 .8 .1 .8 0 .8 0 .8 0 .8 0 .8 .1 .8 0 .8 0 .8 0 .8 0 .8 .1 .8 0 .8 0 .8 0 .8 0 .8 0 .8 0 .8 0 .8 0 .8 0 .8 0 .8 0 .8 0 .8 0 .8 0 .8 0 .8 0 .8 0 .8 0 .8 0 .8 0 .8 0 .8 0 .8 0 .8 0 .8 0 .8 0 .8 0 .8 0 .8 0 .8 0 .8 0 .8 0 .8 0 .8 0 .8 0 .8 0 .8 .1 .8 0 .8 0 .8 0 .8 0 .8 0 .8 0 .8 0 .8 0 .8-.1 .8 0 .8 0 .8 0 .8 0 .8-.1 .8 0 .8-.1 .8 0 .8 0 .8-.1 .8-.1 .8-.1 .8-.1 .8-.1 .8-.1 .8-.2 .8-.3 .8-.2 .8-.4 .8-.5 .8-.5 .8-.8 .8-.9 .8-1.1 .8-1.4 .8-1.7 .8-2.2 .8-2.5 .8-3.1 .8-3.6 .8-4.1 .8-4.7 .8-5.1 .8-5.6 .8-5.9 .8-6.1 .7-5.9 .8-5.6 .8-4.9 .8-3.8 .8-2.4 .8-.6 .8 1.9 .8 4.9 .8 6.9 .8 8 .8 8.4 .8 8.2 .8 7.5 .8 6.6 .8 5.6 .8 4.6 .8 3.7 .8 2.8 .8 2.2 .8 1.7 .8 1.2 .8 1 .8 .7 .8 .5 .8 .5 .8 .3 .8 .3 .8 .3 .8 .2 .8 .2 .8 .2 .8 .2 .8 .1 .8 .1 .8 .1 .8 .1 .8 .1 .8 .1 .8 .1 .8 .1 .8 0 .8 .1 .8 .1 .8 0 .8 .1 .8 0 .8 .1 .8 0 .8 0 .8 .1 .8 0 .8 0 .8 .1 0 .6 -128.6-5.9z" fill="none" stroke="#1a1208" stroke-width="1.1"/>
<path d="M411.9 523.6l.8-.1 .8-.1 .8-.1 .8-.1 .8-.2 .8-.1 .8-.3 .8-.3 .8-.3 .8-.4 .7-.4 .8-.5 .8-.6 .8-.6 .8-.7 .8-.7 .8-.8 .8-.8 .8-.8 .8-.9 .8-.8 .8-.7 .8-.7 .8-.7 .8-.5 .8-.4 .8-.3 .8-.2 .8 0 .8 .1 .8 .2 .8 .4 .8 .5 .8 .6 .8 .7 .8 .7 .8 .8 .8 .9 .8 .8 .8 .8 .8 .8 .8 .7 .8 .6 .8 .6 .8 .5 .8 .4 .8 .2 .8 .2 .8 .1 .8-.1 .8-.2 .8-.3 .8-.5 .8-.6 .8-.7 .8-.8 .8-.9 .8-1.1 .8-1.1 .8-1.3 .8-1.3 .8-1.3 .8-1.3 .8-1.4 .8-1.3 .8-1.2 .8-1.1 .8-1 .8-.9 .8-.7 .8-.6 .8-.4 .8-.3 .8-.1 .8-.1 .8 .1 .8 0 .8 0 .8-.1 .8-.3 .8-.4 .8-.7 .8-.9 .8-1.2 .8-1.5 .8-1.6 .8-1.7 .8-1.7 .8-1.6 .8-1.4 .8-1 .8-.6 .8 0 .8 .6 .8 1.1 .8 1.6 .8 2.1 .8 2.4 .8 2.5 .8 2.7 .8 2.5 .8 2.3 .8 1.9 .8 1.4 .8 .8 .8 .2 .8-.5 .8-1.2 .8-2 .8-2.8 .8-3.4 .8-4.2 .8-4.8 .8-5.3 .8-5.8 .8-5.9 .7-5.9 .8-5.5 .8-4.9 .8-3.7 .8-2.3 .8-.7 .8 2 .8 4.8 .8 6.9 .8 8.1 .8 8.4 .8 8.2 .8 7.5 .8 6.6 .8 5.6 .8 4.6 .8 3.7 .8 2.8 .8 2.2 .8 1.7 .8 1.2 .8 1 .8 .7 .8 .5 .8 .5 .8 .3 .8 .3 .8 .3 .8 .2 .8 .2 .8 .2 .8 .2 .8 .1 .8 .1 .8 .1 .8 .1 .8 .1 .8 .1 .8 .1 .8 .1 .8 0 .8 .1 .8 .1 .8 0 .8 .1 .8 0 .8 .1 .8 0 .8 0 .8 .1 .8 0 .8 0 .8 .1" fill="none" stroke="#111" stroke-width=".9"/>
<g fill="none" stroke="#000" stroke-linejoin="round" stroke-linecap="round"><path d="M378.3 523.1l1.6 .5 1.6 0 1.6-.1 1.6 .6 1.6-.1 1.6-.3 1.6 1 1.6-.8 1.6-.7 1.6-.4 1.6 .3 1.6 .7 1.6 .4 1.6 .3 1.6 .5 1.6 .2 1.6-.5 1.6 .2 1.6-.3 1.6-.8 1.6 .3 1.6-.4 1.6-.5 1.6 .8 1.6-.7 1.6-1.5 1.5-1.1 1.6 .3 1.6-2.4 1.6-1.3 1.6-1.7 1.6-1.6 1.6-1.3 1.6-1.7 1.6-.8 1.6 .2 1.6 .5 1.6 1.9 1.6 2.3 1.6 .3 1.6 2 1.6 .7 1.6 1 1.6 1.1 1.6 .7 1.6-.2 1.6-1.9 1.6 .8 1.6-1.8 1.6-2.3 1.6-1.6 1.6-3.2 1.6-3.6 1.6-1.5 1.6-1.7 1.6-2.4 1.6 0 1.6-.3 1.6-1.3 1.6 1.9 1.6-.7 1.6-2.5 1.6-1.5 1.6-3 1.6-2.6 1.6-4.7 1.6-.2 1.6 1.1 1.6 2.7 1.6 4.4 1.6 5.7 1.6 4.5 1.6 2.7 1.6 0 1.6-.6 1.6-4.3 1.6-8.1 1.6-10.4 1.6-11.2 1.5-14.5 1.6-7.1 1.6-5.3 1.6 8.7 1.6 16.7 1.6 18 1.6 12.6 1.6 10.2 1.6 6.2 1.6 2.2 1.6 3.5 1.6 1.3 1.6 .9 1.6 0 1.6 .7 1.6 .5 1.6 1.1 1.6 0 1.6 1.9 1.6-1.3 1.6-.4 1.6-.1 1.6-.4 1.6 1.2 1.6 .1 1.6-1" stroke-width="1.7"/><path d="M378.3 523.1l1.6 .5 1.6 0 1.6-.1 1.6 .6 1.6-.1 1.6-.3 1.6 1 1.6-.8 1.6-.7 1.6-.4 1.6 .3 1.6 .7 1.6 .4 1.6 .3 1.6 .5 1.6 .2 1.6-.5 1.6 .2 1.6-.3 1.6-.8 1.6 .3 1.6-.4 1.6-.5 1.6 .8 1.6-.7 1.6-1.5 1.5-1.1 1.6 .3 1.6-2.4 1.6-1.3 1.6-1.7 1.6-1.6 1.6-1.3 1.6-1.7 1.6-.8 1.6 .2 1.6 .5 1.6 1.9 1.6 2.3 1.6 .3 1.6 2 1.6 .7 1.6 1 1.6 1.1 1.6 .7 1.6-.2 1.6-1.9 1.6 .8 1.6-1.8 1.6-2.3 1.6-1.6 1.6-3.2 1.6-3.6 1.6-1.5 1.6-1.7 1.6-2.4 1.6 0 1.6-.3 1.6-1.3 1.6 1.9 1.6-.7 1.6-2.5 1.6-1.5 1.6-3 1.6-2.6 1.6-4.7 1.6-.2 1.6 1.1 1.6 2.7 1.6 4.4 1.6 5.7 1.6 4.5 1.6 2.7 1.6 0 1.6-.6 1.6-4.3 1.6-8.1 1.6-10.4 1.6-11.2 1.5-14.5 1.6-7.1 1.6-5.3 1.6 8.7 1.6 16.7 1.6 18 1.6 12.6 1.6 10.2 1.6 6.2 1.6 2.2 1.6 3.5 1.6 1.3 1.6 .9 1.6 0 1.6 .7 1.6 .5 1.6 1.1 1.6 0 1.6 1.9 1.6-1.3 1.6-.4 1.6-.1 1.6-.4 1.6 1.2 1.6 .1 1.6-1" stroke-width="2.7" stroke-dasharray="0 1.9"/></g>
<line x1="486.8" y1="38.0" x2="486.8" y2="522.0" stroke="#555" stroke-width="0.9" stroke-dasharray="2.6 3.2"/>
<line x1="509.4" y1="131.5" x2="509.4" y2="522.0" stroke="#555" stroke-width="0.9" stroke-dasharray="2.6 3.2"/>
<path d="M376.5,15.8 V534.9 H546.9" fill="none" stroke="#4a4a4a" stroke-width="1.5"/>
<line x1="388.0" y1="534.9" x2="388.0" y2="541.9" stroke="#4a4a4a" stroke-width="1.3"/>
<text x="388.0" y="556.4" font-size="11.1" font-weight="normal" fill="#2a2a2a" text-anchor="middle"  stroke="#2a2a2a" stroke-width=".3">295</text>
<line x1="415.8" y1="534.9" x2="415.8" y2="541.9" stroke="#4a4a4a" stroke-width="1.3"/>
<text x="415.8" y="556.4" font-size="11.1" font-weight="normal" fill="#2a2a2a" text-anchor="middle"  stroke="#2a2a2a" stroke-width=".3">292</text>
<line x1="443.7" y1="534.9" x2="443.7" y2="541.9" stroke="#4a4a4a" stroke-width="1.3"/>
<text x="443.7" y="556.4" font-size="11.1" font-weight="normal" fill="#2a2a2a" text-anchor="middle"  stroke="#2a2a2a" stroke-width=".3">289</text>
<line x1="471.8" y1="534.9" x2="471.8" y2="541.9" stroke="#4a4a4a" stroke-width="1.3"/>
<text x="471.8" y="556.4" font-size="11.1" font-weight="normal" fill="#2a2a2a" text-anchor="middle"  stroke="#2a2a2a" stroke-width=".3">286</text>
<line x1="499.6" y1="534.9" x2="499.6" y2="541.9" stroke="#4a4a4a" stroke-width="1.3"/>
<text x="499.6" y="556.4" font-size="11.1" font-weight="normal" fill="#2a2a2a" text-anchor="middle"  stroke="#2a2a2a" stroke-width=".3">283</text>
<line x1="527.5" y1="534.9" x2="527.5" y2="541.9" stroke="#4a4a4a" stroke-width="1.3"/>
<text x="527.5" y="556.4" font-size="11.1" font-weight="normal" fill="#2a2a2a" text-anchor="middle"  stroke="#2a2a2a" stroke-width=".3">280</text>
<text x="456.7" y="571.7" font-size="11.0" font-weight="normal" fill="#383838" text-anchor="middle"  stroke="#383838" stroke-width=".3">Binding Energy / eV</text>
<text x="386.0" y="24.6" font-size="12.0" font-weight="bold" fill="#111" text-anchor="start" >C1s</text>
<text x="380.3" y="62.6" font-size="10.8" font-weight="normal" fill="#1e1e1e" text-anchor="start"  stroke="#1e1e1e" stroke-width=".3">430 eV</text>
<text x="380.3" y="73.4" font-size="10.8" font-weight="normal" fill="#1e1e1e" text-anchor="start"  stroke="#1e1e1e" stroke-width=".3">2 nm</text>
<text x="380.3" y="183.9" font-size="10.8" font-weight="normal" fill="#1e1e1e" text-anchor="start"  stroke="#1e1e1e" stroke-width=".3">880 eV</text>
<text x="380.3" y="194.7" font-size="10.8" font-weight="normal" fill="#1e1e1e" text-anchor="start"  stroke="#1e1e1e" stroke-width=".3">7 nm</text>
<text x="380.3" y="319.6" font-size="10.8" font-weight="normal" fill="#1e1e1e" text-anchor="start"  stroke="#1e1e1e" stroke-width=".3">2300 eV</text>
<text x="380.3" y="330.4" font-size="10.8" font-weight="normal" fill="#1e1e1e" text-anchor="start"  stroke="#1e1e1e" stroke-width=".3">18 nm</text>
<text x="380.3" y="464.4" font-size="10.8" font-weight="normal" fill="#1e1e1e" text-anchor="start"  stroke="#1e1e1e" stroke-width=".3">6900 eV</text>
<text x="380.3" y="475.2" font-size="10.8" font-weight="normal" fill="#1e1e1e" text-anchor="start"  stroke="#1e1e1e" stroke-width=".3">47 nm</text>
<text x="476.6" y="33.2" font-size="10.6" font-weight="normal" fill="#444" text-anchor="start"  stroke="#444" stroke-width=".3">C-H</text>
<text x="503.7" y="125.2" font-size="10.6" font-weight="normal" fill="#444" text-anchor="start"  stroke="#444" stroke-width=".3">Li<tspan font-size="7.5" dy="2.5">x</tspan><tspan dy="-2.5">C</tspan></text>
<line x1="589.6" y1="152.4" x2="715.8" y2="152.6" stroke="#999" stroke-width="1"/>
<path d="M624.7 153.9l.8-.1 .8-.3 .8-.3 .8-.5 .8-.8 .8-1.1 .8-1.5 .8-2 .8-2.8 .8-3.5 .8-4.3 .8-5.4 .8-6.2 .8-7.2 .8-8 .8-8.5 .8-8.7 .8-8.5 .8-7.9 .8-6.9 .8-5.4 .8-3.7 .8-1.5 .8 .6 .8 2.7 .8 4.6 .8 6.3 .8 7.5 .8 8.3 .8 8.7 .8 8.7 .8 8.2 .8 7.6 .8 6.7 .8 5.8 .8 4.8 .8 3.9 .8 3.1 .8 2.3 .8 1.8 .8 1.2 .8 .9 .8 .7 .8 .4 .8 .3 .8 .1 0 .3 -36.8-.2z" fill="#fbc88e"/>
<path d="M618.4 153.9l.8-.2 .8-.2 .8-.4 .7-.5 .8-.7 .8-.9 .8-1.3 .8-1.7 .8-2.1 .8-2.6 .8-3 .8-3.5 .8-3.9 .8-4.2 .8-4.3 .8-4.2 .8-3.8 .8-3.4 .8-2.6 .8-1.6 .8-.7 .8 .5 .8 1.5 .8 2.4 .8 3.3 .8 3.8 .8 4.1 .8 4.3 .8 4.2 .8 4 .8 3.6 .8 3.1 .8 2.7 .8 2.2 .8 1.8 .8 1.3 .8 1 .8 .8 .8 .5 .8 .4 .8 .3 .8 .1 0 .3 -33.5-.2z" fill="#fbc88e"/>
<path d="M652.7 154l.8 0 .8-.1 .8-.1 .8-.1 .8-.2 .8-.1 .8-.2 .8-.2 .8-.1 .8-.2 .8-.2 .8-.2 .8-.2 .8-.2 .8-.1 .8-.1 .8-.1 .8-.1 .8 0 .8 0 .8 .1 .8 0 .8 .2 .8 .1 .8 .2 .8 .1 .8 .2 .8 .2 .8 .2 .8 .2 .8 .2 .8 .1 .8 .2 .8 .1 .8 .2 .8 .1 .8 0 .8 .1 .8 .1 0 .2 -31.2 0z" fill="#f7ec6c"/>
<path d="M624.7 153.9l.8-.1 .8-.3 .8-.3 .8-.5 .8-.8 .8-1.1 .8-1.5 .8-2 .8-2.8 .8-3.5 .8-4.3 .8-5.4 .8-6.2 .8-7.2 .8-7.8 .8 2.4 .8 3.3 .8 3.8 .8 4.1 .8 4.3 .8 4.2 .8 4 .8 3.6 .8 3.1 .8 2.7 .8 2.2 .8 1.8 .8 1.3 .8 1 .8 .8 .8 .5 .8 .4 .8 .3 .8 .1 0 .3 -27.2-.2z" fill="#f9ae68"/>
<path d="M652.7 154l.8 0 .8-.1 .8-.1 .8-.1 .8-.2 .8-.1 .8-.2 .8 0 .8 .4 .8 .3 .8 .1 0 .3 -8.8 0z" fill="#f5c656"/>
<path d="M624.7 153.9l.8-.1 .8-.3 .8-.3 .8-.5 .8-.8 .8-1.1 .8-1.5 .8-2 .8-2.8 .8-3.5 .8-4.3 .8-5.4 .8-6.2 .8-7.2 .8-8 .8-8.5 .8-8.7 .8-8.5 .8-7.9 .8-6.9 .8-5.4 .8-3.7 .8-1.5 .8 .6 .8 2.7 .8 4.6 .8 6.3 .8 7.5 .8 8.3 .8 8.7 .8 8.7 .8 8.2 .8 7.6 .8 6.7 .8 5.8 .8 4.8 .8 3.9 .8 3.1 .8 2.3 .8 1.8 .8 1.2 .8 .9 .8 .7 .8 .4 .8 .3 .8 .1 0 .3 -36.8-.2zM618.4 153.9l.8-.2 .8-.2 .8-.4 .7-.5 .8-.7 .8-.9 .8-1.3 .8-1.7 .8-2.1 .8-2.6 .8-3 .8-3.5 .8-3.9 .8-4.2 .8-4.3 .8-4.2 .8-3.8 .8-3.4 .8-2.6 .8-1.6 .8-.7 .8 .5 .8 1.5 .8 2.4 .8 3.3 .8 3.8 .8 4.1 .8 4.3 .8 4.2 .8 4 .8 3.6 .8 3.1 .8 2.7 .8 2.2 .8 1.8 .8 1.3 .8 1 .8 .8 .8 .5 .8 .4 .8 .3 .8 .1 0 .3 -33.5-.2zM652.7 154l.8 0 .8-.1 .8-.1 .8-.1 .8-.2 .8-.1 .8-.2 .8-.2 .8-.1 .8-.2 .8-.2 .8-.2 .8-.2 .8-.2 .8-.1 .8-.1 .8-.1 .8-.1 .8 0 .8 0 .8 .1 .8 0 .8 .2 .8 .1 .8 .2 .8 .1 .8 .2 .8 .2 .8 .2 .8 .2 .8 .2 .8 .1 .8 .2 .8 .1 .8 .2 .8 .1 .8 0 .8 .1 .8 .1 0 .2 -31.2 0z" fill="none" stroke="#1a1208" stroke-width="1.1"/>
<path d="M619.2 153.7l.8-.2 .8-.4 .7-.5 .8-.7 .8-1 .8-1.3 .8-1.8 .8-2.2 .8-2.8 .8-3.5 .8-4 .8-4.6 .8-5.3 .8-5.8 .8-6.2 .8-6.6 .8-6.9 .8-6.9 .8-7 .8-6.9 .8-6.8 .8-6.4 .8-6.1 .8-5.5 .8-4.7 .8-3.8 .8-2.6 .8-1.2 .8 .3 .8 2 .8 3.8 .8 5.3 .8 6.9 .8 8 .8 8.8 .8 9.4 .8 9.4 .8 9.1 .8 8.6 .8 7.8 .8 6.8 .8 5.9 .8 4.8 .8 3.8 .8 3 .8 2.3 .8 1.6 .8 1.1 .8 .8 .8 .4 .8 .3 .8 0 .8 0 .8-.1 .8-.1 .8-.1 .8-.1 .8-.1 .8-.1 .8-.1 .8 0 .8 0 .8 .1 .8 0 .8 .2 .8 .1 .8 .2 .8 .1 .8 .2 .8 .2 .8 .2 .8 .2 .8 .2 .8 .1 .8 .2 .8 .1 .8 .2 .8 .1 .8 0" fill="none" stroke="#111" stroke-width=".9"/>
<g fill="none" stroke="#000" stroke-linejoin="round" stroke-linecap="round"><path d="M589.6 154.1l1.6 .5 1.6-.5 1.6-.7 1.6 .5 1.6 .4 1.6 0 1.6 .1 1.6-.2 1.6-.2 1.6-.2 1.6 .1 1.6 0 1.6 .5 1.6 .1 1.6-.7 1.6 .5 1.6-.2 1.6 .3 1.6-.1 1.5-1 1.6-2.9 1.6-2.4 1.6-5.9 1.6-6.1 1.6-10.6 1.6-12.1 1.6-12 1.6-16 1.6-13.2 1.6-13.2 1.6-10.1 1.6-6.6 1.6 .4 1.6 5.4 1.6 12.6 1.6 17.3 1.6 17.1 1.6 19.3 1.6 14.1 1.6 9.7 1.6 7 1.6 4.7 1.6 2.3 1.6 .1 1.6 .1 1.6-.1 1.6 .2 1.6-.6 1.6 .3 1.6-.6 1.6-.1 1.6 .9 1.6 .6 1.6 .1 1.6 .6 1.6 .2 1.6 .5 1.6 .4 1.6 0 1.5 .1 1.6-.4 1.6-.2 1.6-.8 1.6 .7 1.6 .2 1.6 .2 1.6-.7 1.6 .1 1.6 .1 1.6-.5 1.6 .8 1.6 .5 1.6-.7 1.6 .3 1.6 .6 1.6-.8 1.6 .5 1.6 .4 1.6 .3" stroke-width="1.2"/><path d="M589.6 154.1l1.6 .5 1.6-.5 1.6-.7 1.6 .5 1.6 .4 1.6 0 1.6 .1 1.6-.2 1.6-.2 1.6-.2 1.6 .1 1.6 0 1.6 .5 1.6 .1 1.6-.7 1.6 .5 1.6-.2 1.6 .3 1.6-.1 1.5-1 1.6-2.9 1.6-2.4 1.6-5.9 1.6-6.1 1.6-10.6 1.6-12.1 1.6-12 1.6-16 1.6-13.2 1.6-13.2 1.6-10.1 1.6-6.6 1.6 .4 1.6 5.4 1.6 12.6 1.6 17.3 1.6 17.1 1.6 19.3 1.6 14.1 1.6 9.7 1.6 7 1.6 4.7 1.6 2.3 1.6 .1 1.6 .1 1.6-.1 1.6 .2 1.6-.6 1.6 .3 1.6-.6 1.6-.1 1.6 .9 1.6 .6 1.6 .1 1.6 .6 1.6 .2 1.6 .5 1.6 .4 1.6 0 1.5 .1 1.6-.4 1.6-.2 1.6-.8 1.6 .7 1.6 .2 1.6 .2 1.6-.7 1.6 .1 1.6 .1 1.6-.5 1.6 .8 1.6 .5 1.6-.7 1.6 .3 1.6 .6 1.6-.8 1.6 .5 1.6 .4 1.6 .3" stroke-width="2.2" stroke-dasharray="0 1.9"/></g>
<path d="M624.7 279.2l.8-.2 .8-.2 .8-.4 .8-.6 .8-.9 .8-1.2 .8-1.7 .8-2.2 .8-2.8 .8-3.6 .8-4.3 .8-5.2 .8-6 .8-6.8 .8-7.3 .8-7.6 .8-7.7 .8-7.3 .8-6.7 .8-5.5 .8-4.2 .8-2.4 .8-.7 .8 1.2 .8 3 .8 4.6 .8 6 .8 6.9 .8 7.5 .8 7.7 .8 7.5 .8 7.2 .8 6.6 .8 5.8 .8 4.9 .8 4.2 .8 3.3 .8 2.7 .8 2 .8 1.5 .8 1.1 .8 .8 .8 .6 .8 .3 .8 .3 .8 .1 0 .3 -36.8-.3z" fill="#fbc88e"/>
<path d="M617.6 279.2l.8-.1 .8-.2 .8-.4 .8-.4 .7-.7 .8-.9 .8-1.1 .8-1.5 .8-1.9 .8-2.2 .8-2.7 .8-3.1 .8-3.4 .8-3.6 .8-3.8 .8-3.7 .8-3.6 .8-3.1 .8-2.6 .8-1.8 .8-1 .8-.1 .8 .9 .8 1.7 .8 2.5 .8 3 .8 3.5 .8 3.8 .8 3.8 .8 3.7 .8 3.4 .8 3.2 .8 2.7 .8 2.4 .8 1.9 .8 1.6 .8 1.2 .8 .9 .8 .7 .8 .5 .8 .4 .8 .2 .8 .2 0 .3 -34.3-.3z" fill="#fbc88e"/>
<path d="M649.5 279.5l.8 0 .8-.1 .8-.1 .8-.1 .8-.1 .8-.1 .8-.2 .8-.1 .8-.2 .8-.2 .8-.2 .8-.2 .8-.2 .8-.2 .8-.2 .8-.2 .8-.2 .8-.2 .8-.1 .8-.1 .8-.1 .8-.1 .8 0 .8 0 .8 .1 .8 0 .8 .1 .8 .2 .8 .1 .8 .2 .8 .2 .8 .2 .8 .2 .8 .3 .8 .2 .8 .2 .8 .2 .8 .1 .8 .2 .8 .1 .8 .2 .8 .1 .8 .1 .7 .1 .8 .1 .8 0 .8 .1 0 .2 -37.5 0z" fill="#f7ec6c"/>
<path d="M624.7 279.2l.8-.2 .8-.2 .8-.4 .8-.6 .8-.9 .8-1.2 .8-1.7 .8-2.2 .8-2.8 .8-3.6 .8-4.3 .8-5.2 .8-6 .8-6.8 .8-3.2 .8 2.5 .8 3 .8 3.5 .8 3.8 .8 3.8 .8 3.7 .8 3.4 .8 3.2 .8 2.7 .8 2.4 .8 1.9 .8 1.6 .8 1.2 .8 .9 .8 .7 .8 .5 .8 .4 .8 .2 .8 .2 0 .3 -27.2-.3z" fill="#f9ae68"/>
<path d="M649.5 279.5l.8 0 .8-.1 .8-.1 .8-.1 .8-.1 .8-.1 .8-.2 .8-.1 .8-.2 .8-.2 .8-.1 .8 .6 .8 .3 .8 .3 .8 .1 0 .3 -12 0z" fill="#f5c656"/>
<path d="M624.7 279.2l.8-.2 .8-.2 .8-.4 .8-.6 .8-.9 .8-1.2 .8-1.7 .8-2.2 .8-2.8 .8-3.6 .8-4.3 .8-5.2 .8-6 .8-6.8 .8-7.3 .8-7.6 .8-7.7 .8-7.3 .8-6.7 .8-5.5 .8-4.2 .8-2.4 .8-.7 .8 1.2 .8 3 .8 4.6 .8 6 .8 6.9 .8 7.5 .8 7.7 .8 7.5 .8 7.2 .8 6.6 .8 5.8 .8 4.9 .8 4.2 .8 3.3 .8 2.7 .8 2 .8 1.5 .8 1.1 .8 .8 .8 .6 .8 .3 .8 .3 .8 .1 0 .3 -36.8-.3zM617.6 279.2l.8-.1 .8-.2 .8-.4 .8-.4 .7-.7 .8-.9 .8-1.1 .8-1.5 .8-1.9 .8-2.2 .8-2.7 .8-3.1 .8-3.4 .8-3.6 .8-3.8 .8-3.7 .8-3.6 .8-3.1 .8-2.6 .8-1.8 .8-1 .8-.1 .8 .9 .8 1.7 .8 2.5 .8 3 .8 3.5 .8 3.8 .8 3.8 .8 3.7 .8 3.4 .8 3.2 .8 2.7 .8 2.4 .8 1.9 .8 1.6 .8 1.2 .8 .9 .8 .7 .8 .5 .8 .4 .8 .2 .8 .2 0 .3 -34.3-.3zM649.5 279.5l.8 0 .8-.1 .8-.1 .8-.1 .8-.1 .8-.1 .8-.2 .8-.1 .8-.2 .8-.2 .8-.2 .8-.2 .8-.2 .8-.2 .8-.2 .8-.2 .8-.2 .8-.2 .8-.1 .8-.1 .8-.1 .8-.1 .8 0 .8 0 .8 .1 .8 0 .8 .1 .8 .2 .8 .1 .8 .2 .8 .2 .8 .2 .8 .2 .8 .3 .8 .2 .8 .2 .8 .2 .8 .1 .8 .2 .8 .1 .8 .2 .8 .1 .8 .1 .7 .1 .8 .1 .8 0 .8 .1 0 .2 -37.5 0z" fill="none" stroke="#1a1208" stroke-width="1.1"/>
<path d="M618.4 279.1l.8-.2 .8-.4 .8-.5 .7-.6 .8-.9 .8-1.2 .8-1.6 .8-2 .8-2.4 .8-2.9 .8-3.5 .8-4 .8-4.5 .8-5 .8-5.4 .8-5.8 .8-5.9 .8-6.2 .8-6.2 .8-6.2 .8-6.1 .8-5.9 .8-5.6 .8-5.2 .8-4.6 .8-3.8 .8-2.9 .8-1.8 .8-.5 .8 1 .8 2.5 .8 3.9 .8 5.3 .8 6.6 .8 7.4 .8 8.1 .8 8.4 .8 8.3 .8 8.1 .8 7.4 .8 6.8 .8 5.8 .8 5 .8 4.1 .8 3.3 .8 2.5 .8 1.9 .8 1.3 .8 1 .8 .5 .8 .4 .8 .1 .8 .1 .8-.1 .8-.1 .8-.1 .8-.1 .8-.1 .8-.2 .8 0 .8-.1 .8 0 .8 0 .8 .1 .8 0 .8 .1 .8 .2 .8 .1 .8 .2 .8 .2 .8 .2 .8 .2 .8 .3 .8 .2 .8 .2 .8 .2 .8 .1 .8 .2 .8 .1 .8 .2 .8 .1 .8 .1 .7 .1 .8 .1" fill="none" stroke="#111" stroke-width=".9"/>
<g fill="none" stroke="#000" stroke-linejoin="round" stroke-linecap="round"><path d="M589.6 279.9l1.6 .1 1.6-.7 1.6-.6 1.6 .4 1.6 .5 1.6-.1 1.6-.5 1.6 .1 1.6 .7 1.6-.6 1.6 .5 1.6 .1 1.6 0 1.6 .1 1.6-.4 1.6-.1 1.6 .6 1.6-.8 1.6-.8 1.5-1.7 1.6-1.9 1.6-2.9 1.6-4.8 1.6-7.5 1.6-9.5 1.6-11.1 1.6-12.3 1.6-11.9 1.6-12.7 1.6-10.1 1.6-9.1 1.6-6.3 1.6 .1 1.6 7.1 1.6 12 1.6 15 1.6 16.9 1.6 16.3 1.6 13 1.6 9.5 1.6 5.1 1.6 3.5 1.6 2 1.6 .3 1.6 .6 1.6-1 1.6-.3 1.6-.2 1.6-.3 1.6 .1 1.6 .3 1.6 .3 1.6 .1 1.6 .4 1.6 .5 1.6-.1 1.6 .8 1.6-.1 1.6 .5 1.5-.1 1.6 .5 1.6 0 1.6 .1 1.6-.1 1.6 .3 1.6 .6 1.6-.9 1.6 .4 1.6 .1 1.6-.2 1.6-.4 1.6 .8 1.6-.1 1.6 .3 1.6-.4 1.6-.3 1.6 .5 1.6 .1 1.6-.3" stroke-width="1.2"/><path d="M589.6 279.9l1.6 .1 1.6-.7 1.6-.6 1.6 .4 1.6 .5 1.6-.1 1.6-.5 1.6 .1 1.6 .7 1.6-.6 1.6 .5 1.6 .1 1.6 0 1.6 .1 1.6-.4 1.6-.1 1.6 .6 1.6-.8 1.6-.8 1.5-1.7 1.6-1.9 1.6-2.9 1.6-4.8 1.6-7.5 1.6-9.5 1.6-11.1 1.6-12.3 1.6-11.9 1.6-12.7 1.6-10.1 1.6-9.1 1.6-6.3 1.6 .1 1.6 7.1 1.6 12 1.6 15 1.6 16.9 1.6 16.3 1.6 13 1.6 9.5 1.6 5.1 1.6 3.5 1.6 2 1.6 .3 1.6 .6 1.6-1 1.6-.3 1.6-.2 1.6-.3 1.6 .1 1.6 .3 1.6 .3 1.6 .1 1.6 .4 1.6 .5 1.6-.1 1.6 .8 1.6-.1 1.6 .5 1.5-.1 1.6 .5 1.6 0 1.6 .1 1.6-.1 1.6 .3 1.6 .6 1.6-.9 1.6 .4 1.6 .1 1.6-.2 1.6-.4 1.6 .8 1.6-.1 1.6 .3 1.6-.4 1.6-.3 1.6 .5 1.6 .1 1.6-.3" stroke-width="2.2" stroke-dasharray="0 1.9"/></g>
<path d="M618.4 407.8l.8-.2 .8-.1 .8-.3 .7-.3 .8-.5 .8-.6 .8-.9 .8-1.1 .8-1.4 .8-1.7 .8-2.1 .8-2.6 .8-3 .8-3.4 .8-3.9 .8-4.2 .8-4.6 .8-4.7 .8-4.8 .8-4.8 .8-4.4 .8-4.1 .8-3.4 .8-2.7 .8-1.8 .8-.8 .8 .1 .8 1.2 .8 2.1 .8 2.9 .8 3.7 .8 4.2 .8 4.5 .8 4.8 .8 4.8 .8 4.8 .8 4.4 .8 4.2 .8 3.7 .8 3.3 .8 2.9 .8 2.4 .8 2 .8 1.6 .8 1.3 .8 1.1 .8 .7 .8 .6 .8 .5 .8 .3 .8 .2 .8 .2 .8 .1 0 .2 -42.3-.2z" fill="#fbc88e"/>
<path d="M612 407.8l.8-.2 .8-.1 .8-.3 .8-.3 .8-.4 .8-.6 .8-.7 .8-.9 .8-1.1 .8-1.3 .8-1.6 .7-1.8 .8-2.1 .8-2.2 .8-2.4 .8-2.5 .8-2.5 .8-2.5 .8-2.2 .8-2 .8-1.7 .8-1.2 .8-.7 .8-.2 .8 .4 .8 .9 .8 1.4 .8 1.8 .8 2.1 .8 2.3 .8 2.5 .8 2.5 .8 2.5 .8 2.3 .8 2.2 .8 2 .8 1.8 .8 1.5 .8 1.2 .8 1.1 .8 .8 .8 .7 .8 .5 .8 .4 .8 .3 .8 .2 .8 .1 .8 .2 0 .2 -38.3-.2z" fill="#fbc88e"/>
<path d="M650.3 407.9l.8-.1 .8-.1 .8-.1 .8-.2 .8-.2 .8-.3 .8-.3 .8-.3 .8-.4 .8-.5 .8-.6 .8-.5 .8-.7 .8-.7 .8-.7 .8-.7 .8-.7 .8-.7 .8-.6 .8-.6 .8-.5 .8-.4 .8-.3 .8-.2 .8 0 .8 .1 .8 .2 .8 .4 .8 .4 .8 .5 .8 .7 .8 .6 .8 .7 .8 .8 .8 .7 .8 .7 .8 .6 .8 .6 .8 .6 .8 .5 .8 .5 .8 .4 .7 .3 .8 .3 .8 .2 .8 .2 .8 .2 .8 .1 .8 .1 .8 .1 0 .2 -39.9 0z" fill="#f7ec6c"/>
<path d="M645.5 407.9l.8-.1 .8 0 .8-.2 .8-.1 .8-.2 .8-.2 .8-.2 .8-.3 .8-.3 .8-.3 .8-.4 .8-.3 .8-.4 .8-.4 .8-.4 .8-.4 .8-.3 .8-.3 .8-.3 .8-.2 .8-.1 .8 0 .8 0 .8 .1 .8 .2 .8 .2 .8 .3 .8 .3 .8 .4 .8 .4 .8 .4 .8 .4 .8 .3 .8 .4 .8 .3 .8 .4 .8 .2 .8 .3 .8 .2 .8 .2 .8 .1 .8 .2 .8 .1 .8 0 0 .3 -35.2 0z" fill="#f7ec6c"/>
<path d="M618.4 407.8l.8-.2 .8-.1 .8-.3 .7-.3 .8-.5 .8-.6 .8-.9 .8-1.1 .8-1.4 .8-1.7 .8-2.1 .8-2.6 .8-3 .8-3.4 .8-3.9 .8-4.2 .8-4.6 .8 .7 .8 1.4 .8 1.8 .8 2.1 .8 2.3 .8 2.5 .8 2.5 .8 2.5 .8 2.3 .8 2.2 .8 2 .8 1.8 .8 1.5 .8 1.2 .8 1.1 .8 .8 .8 .7 .8 .5 .8 .4 .8 .3 .8 .2 .8 .1 .8 .2 0 .2 -31.9-.2z" fill="#f9ae68"/>
<path d="M650.3 407.9l.8-.1 .8-.1 .8-.1 .8-.2 .8-.2 .8-.3 .8-.3 .8 .1 .8 .5 .8 .3 .8 .2 .8 .2 .8 .1 0 .2 -10.4 0z" fill="#f5c656"/>
<path d="M645.5 407.9l.8-.1 .8 0 .8-.2 .8-.1 .8-.2 .8-.2 .8-.2 .8-.3 .8-.3 .8-.3 .8-.4 .8-.2 .8 .7 .8 .6 .8 .5 .8 .3 .8 .2 .8 .2 .8 .1 0 .2 -15.2 0z" fill="#f5c656"/>
<path d="M650.3 407.9l.8-.1 .8-.1 .8-.1 .8-.2 .8-.2 .8-.3 .8-.3 .8-.3 .8-.4 .8-.5 .8-.6 .8-.5 .8-.7 .8-.7 .8-.4 .8 0 .8 0 .8 .1 .8 .2 .8 .2 .8 .3 .8 .3 .8 .4 .8 .4 .8 .4 .8 .4 .8 .3 .8 .4 .8 .3 .8 .4 .8 .2 .8 .3 .8 .2 .8 .2 .8 .1 .8 .2 .8 .1 .8 0 0 .3 -30.4 0z" fill="#f2e147"/>
<path d="M618.4 407.8l.8-.2 .8-.1 .8-.3 .7-.3 .8-.5 .8-.6 .8-.9 .8-1.1 .8-1.4 .8-1.7 .8-2.1 .8-2.6 .8-3 .8-3.4 .8-3.9 .8-4.2 .8-4.6 .8-4.7 .8-4.8 .8-4.8 .8-4.4 .8-4.1 .8-3.4 .8-2.7 .8-1.8 .8-.8 .8 .1 .8 1.2 .8 2.1 .8 2.9 .8 3.7 .8 4.2 .8 4.5 .8 4.8 .8 4.8 .8 4.8 .8 4.4 .8 4.2 .8 3.7 .8 3.3 .8 2.9 .8 2.4 .8 2 .8 1.6 .8 1.3 .8 1.1 .8 .7 .8 .6 .8 .5 .8 .3 .8 .2 .8 .2 .8 .1 0 .2 -42.3-.2zM612 407.8l.8-.2 .8-.1 .8-.3 .8-.3 .8-.4 .8-.6 .8-.7 .8-.9 .8-1.1 .8-1.3 .8-1.6 .7-1.8 .8-2.1 .8-2.2 .8-2.4 .8-2.5 .8-2.5 .8-2.5 .8-2.2 .8-2 .8-1.7 .8-1.2 .8-.7 .8-.2 .8 .4 .8 .9 .8 1.4 .8 1.8 .8 2.1 .8 2.3 .8 2.5 .8 2.5 .8 2.5 .8 2.3 .8 2.2 .8 2 .8 1.8 .8 1.5 .8 1.2 .8 1.1 .8 .8 .8 .7 .8 .5 .8 .4 .8 .3 .8 .2 .8 .1 .8 .2 0 .2 -38.3-.2zM650.3 407.9l.8-.1 .8-.1 .8-.1 .8-.2 .8-.2 .8-.3 .8-.3 .8-.3 .8-.4 .8-.5 .8-.6 .8-.5 .8-.7 .8-.7 .8-.7 .8-.7 .8-.7 .8-.7 .8-.6 .8-.6 .8-.5 .8-.4 .8-.3 .8-.2 .8 0 .8 .1 .8 .2 .8 .4 .8 .4 .8 .5 .8 .7 .8 .6 .8 .7 .8 .8 .8 .7 .8 .7 .8 .6 .8 .6 .8 .6 .8 .5 .8 .5 .8 .4 .7 .3 .8 .3 .8 .2 .8 .2 .8 .2 .8 .1 .8 .1 .8 .1 0 .2 -39.9 0zM645.5 407.9l.8-.1 .8 0 .8-.2 .8-.1 .8-.2 .8-.2 .8-.2 .8-.3 .8-.3 .8-.3 .8-.4 .8-.3 .8-.4 .8-.4 .8-.4 .8-.4 .8-.3 .8-.3 .8-.3 .8-.2 .8-.1 .8 0 .8 0 .8 .1 .8 .2 .8 .2 .8 .3 .8 .3 .8 .4 .8 .4 .8 .4 .8 .4 .8 .3 .8 .4 .8 .3 .8 .4 .8 .2 .8 .3 .8 .2 .8 .2 .8 .1 .8 .2 .8 .1 .8 0 0 .3 -35.2 0z" fill="none" stroke="#1a1208" stroke-width="1.1"/>
<path d="M612.8 407.6l.8-.2 .8-.2 .8-.3 .8-.5 .8-.6 .8-.8 .8-1 .8-1.2 .8-1.6 .8-1.9 .7-2.2 .8-2.6 .8-3 .8-3.4 .8-3.7 .8-4.1 .8-4.4 .8-4.6 .8-4.9 .8-4.9 .8-4.9 .8-4.9 .8-4.8 .8-4.5 .8-4.1 .8-3.7 .8-3.1 .8-2.5 .8-1.7 .8-1 .8-.1 .8 .9 .8 1.7 .8 2.6 .8 3.4 .8 4.1 .8 4.8 .8 5.2 .8 5.5 .8 5.6 .8 5.6 .8 5.5 .8 5.2 .8 4.8 .8 4.3 .8 3.8 .8 3.2 .8 2.7 .8 2.1 .8 1.6 .8 1.2 .8 .8 .8 .4 .8 .1 .8-.2 .8-.4 .8-.5 .8-.6 .8-.8 .8-.7 .8-.8 .8-.8 .8-.7 .8-.7 .8-.6 .8-.4 .8-.4 .8-.2 .8-.1 .8 .1 .8 .2 .8 .4 .8 .5 .8 .6 .8 .7 .8 .8 .8 .8 .8 .9 .8 .9 .8 .9 .8 .9 .8 .9 .8 .8 .8 .8 .8 .7 .8 .6 .8 .6 .8 .5 .8 .4 .7 .4 .8 .3 .8 .2 .8 .2 .8 .2 .8 .1" fill="none" stroke="#111" stroke-width=".9"/>
<g fill="none" stroke="#000" stroke-linejoin="round" stroke-linecap="round"><path d="M589.6 408.1l1.6-.1 1.6 0 1.6-.3 1.6 .3 1.6 0 1.6 .5 1.6-.8 1.6 1.4 1.6-2.2 1.6 .6 1.6 .7 1.6-.2 1.6-.5 1.6 0 1.6 .2 1.6 0 1.6-2.4 1.6-1.4 1.6-3.2 1.5-3.1 1.6-6.3 1.6-6.9 1.6-7.5 1.6-10.4 1.6-9.7 1.6-10.6 1.6-8.6 1.6-8.7 1.6-3.8 1.6-.5 1.6 2.6 1.6 9.1 1.6 5.5 1.6 9.4 1.6 13.2 1.6 11.8 1.6 9.2 1.6 7.8 1.6 5.8 1.6 1.4 1.6 0 1.6 .2 1.6 .1 1.6-1.4 1.6-2 1.6-1.4 1.6-1.1 1.6-2.4 1.6 .7 1.6-.2 1.6 1 1.6 1.2 1.6 2.1 1.6 2.6 1.6 1.3 1.6 1.8 1.6 1.9 1.6 1.2 1.6 .2 1.5 1.2 1.6 0 1.6 .2 1.6 .3 1.6 .9 1.6-.8 1.6-.1 1.6 .2 1.6-.4 1.6 .3 1.6 .7 1.6-1.2 1.6 .4 1.6-.2 1.6 1.2 1.6-.1 1.6-.1 1.6-.4 1.6-.6 1.6 .3" stroke-width="1.3"/><path d="M589.6 408.1l1.6-.1 1.6 0 1.6-.3 1.6 .3 1.6 0 1.6 .5 1.6-.8 1.6 1.4 1.6-2.2 1.6 .6 1.6 .7 1.6-.2 1.6-.5 1.6 0 1.6 .2 1.6 0 1.6-2.4 1.6-1.4 1.6-3.2 1.5-3.1 1.6-6.3 1.6-6.9 1.6-7.5 1.6-10.4 1.6-9.7 1.6-10.6 1.6-8.6 1.6-8.7 1.6-3.8 1.6-.5 1.6 2.6 1.6 9.1 1.6 5.5 1.6 9.4 1.6 13.2 1.6 11.8 1.6 9.2 1.6 7.8 1.6 5.8 1.6 1.4 1.6 0 1.6 .2 1.6 .1 1.6-1.4 1.6-2 1.6-1.4 1.6-1.1 1.6-2.4 1.6 .7 1.6-.2 1.6 1 1.6 1.2 1.6 2.1 1.6 2.6 1.6 1.3 1.6 1.8 1.6 1.9 1.6 1.2 1.6 .2 1.5 1.2 1.6 0 1.6 .2 1.6 .3 1.6 .9 1.6-.8 1.6-.1 1.6 .2 1.6-.4 1.6 .3 1.6 .7 1.6-1.2 1.6 .4 1.6-.2 1.6 1.2 1.6-.1 1.6-.1 1.6-.4 1.6-.6 1.6 .3" stroke-width="2.3" stroke-dasharray="0 1.9"/></g>
<path d="M589.6 530l.8 0 .8-.1 .8 0 .8-.1 .8 0 .8 0 .8-.1 .8 0 .8-.1 .8-.1 .8 0 .8-.1 .8 0 .8-.1 .8-.1 .8-.1 .8-.1 .8-.1 .8-.1 .8-.1 .8-.1 .8-.1 .8-.2 .8-.2 .8-.2 .8-.2 .8-.3 .8-.3 .8-.4 .8-.4 .8-.6 .8-.7 .8-.8 .8-.9 .8-1.2 .8-1.4 .8-1.6 .8-1.9 .8-2.2 .7-2.6 .8-2.9 .8-3.3 .8-3.7 .8-4.1 .8-4.4 .8-4.8 .8-5.1 .8-5.3 .8-5.4 .8-5.5 .8-5.4 .8-5.3 .8-4.9 .8-4.4 .8-3.6 .8-2.9 .8-1.9 .8-.8 .8 .4 .8 1.4 .8 2.5 .8 3.3 .8 4.1 .8 4.7 .8 5.2 .8 5.3 .8 5.5 .8 5.5 .8 5.4 .8 5.2 .8 4.9 .8 4.6 .8 4.3 .8 3.8 .8 3.5 .8 3.1 .8 2.7 .8 2.4 .8 2 .8 1.8 .8 1.5 .8 1.2 .8 1.1 .8 .8 .8 .8 .8 .6 .8 .5 .8 .4 .8 .3 .8 .3 .8 .3 .8 .2 .8 .2 .8 .2 .8 .1 .8 .1 .8 .2 .8 .1 .8 .1 .8 .1 .8 0 .8 .1 .8 .1 .8 .1 .8 0 .8 .1 .8 .1 .8 0 .8 .1 .8 0 .8 .1 .8 0 .8 0 .8 .1 .8 0 .8 .1 .8 0 .8 0 .7 .1 .8 0 .8 0 .8 0 .8 .1 .8 0 .8 0 .8 0 .8 .1 .8 0 .8 0 .8 0 .8 0 .8 .1 .8 0 .8 0 .8 0 .8 0 .8 0 .8 0 .8 .1 .8 0 .8 0 .8 0 .8 0 .8 0 .8 0 .8 0 .8 .1 .8 0 .8 0 .8 0 .8 0 .8 0 .8 0 .8 0 .8 0 .8 0 .8 0 .8 0 0 .4 -126.2-.3z" fill="#fbc88e"/>
<path d="M634.3 530.9l.8 0 .8-.1 .8 0 .8-.1 .8-.1 .8-.1 .8-.1 .8-.1 .8-.1 .8-.2 .8-.2 .8-.2 .8-.2 .8-.2 .8-.3 .8-.3 .8-.3 .8-.4 .8-.4 .8-.4 .8-.5 .8-.5 .8-.5 .8-.5 .8-.6 .8-.6 .8-.6 .8-.6 .8-.7 .8-.6 .8-.6 .8-.7 .8-.6 .8-.6 .8-.6 .8-.6 .8-.5 .8-.5 .8-.4 .8-.4 .8-.4 .8-.3 .8-.2 .8-.1 .8-.1 .8 0 .8 0 .8 .1 .8 .2 .8 .3 .8 .3 .8 .3 .8 .5 .8 .4 .8 .5 .8 .6 .8 .6 .8 .6 .8 .6 .8 .6 .8 .7 .8 .6 .7 .7 .8 .6 .8 .6 .8 .6 .8 .6 .8 .6 .8 .5 .8 .5 .8 .5 .8 .4 .8 .4 .8 .4 .8 .4 .8 .3 .8 .3 .8 .3 .8 .2 .8 .2 .8 .2 .8 .2 .8 .2 .8 .1 .8 .1 .8 .1 .8 .1 .8 .1 .8 .1 .8 0 .8 .1 0 .2 -72.7-.2z" fill="#f7ec6c"/>
<path d="M634.3 530.9l.8 0 .8-.1 .8 0 .8-.1 .8-.1 .8-.1 .8-.1 .8-.1 .8-.1 .8-.2 .8-.2 .8-.2 .8-.2 .8-.2 .8-.3 .8-.3 .8-.3 .8-.4 .8-.4 .8-.4 .8-.5 .8-.5 .8-.5 .8-.5 .8-.6 .8-.6 .8 .2 .8 .8 .8 .8 .8 .6 .8 .5 .8 .4 .8 .3 .8 .3 .8 .3 .8 .2 .8 .2 .8 .2 .8 .1 .8 .1 .8 .2 .8 .1 .8 .1 .8 .1 .8 0 .8 .1 .8 .1 .8 .1 .8 0 .8 .1 .8 .1 .8 0 .8 .1 .8 0 .8 .1 .8 0 .8 0 .8 .1 .8 0 .8 .1 .8 0 .8 0 .7 .1 .8 0 .8 0 .8 0 .8 .1 .8 0 .8 0 .8 0 .8 .1 .8 0 .8 0 .8 0 .8 0 .8 .1 .8 0 .8 0 .8 0 .8 0 .8 0 .8 0 .8 .1 .8 0 .8 0 .8 0 .8 0 .8 .1 .8 .1 .8 0 .8 .1 0 .2 -72.7-.2z" fill="#f5c656"/>
<path d="M589.6 530l.8 0 .8-.1 .8 0 .8-.1 .8 0 .8 0 .8-.1 .8 0 .8-.1 .8-.1 .8 0 .8-.1 .8 0 .8-.1 .8-.1 .8-.1 .8-.1 .8-.1 .8-.1 .8-.1 .8-.1 .8-.1 .8-.2 .8-.2 .8-.2 .8-.2 .8-.3 .8-.3 .8-.4 .8-.4 .8-.6 .8-.7 .8-.8 .8-.9 .8-1.2 .8-1.4 .8-1.6 .8-1.9 .8-2.2 .7-2.6 .8-2.9 .8-3.3 .8-3.7 .8-4.1 .8-4.4 .8-4.8 .8-5.1 .8-5.3 .8-5.4 .8-5.5 .8-5.4 .8-5.3 .8-4.9 .8-4.4 .8-3.6 .8-2.9 .8-1.9 .8-.8 .8 .4 .8 1.4 .8 2.5 .8 3.3 .8 4.1 .8 4.7 .8 5.2 .8 5.3 .8 5.5 .8 5.5 .8 5.4 .8 5.2 .8 4.9 .8 4.6 .8 4.3 .8 3.8 .8 3.5 .8 3.1 .8 2.7 .8 2.4 .8 2 .8 1.8 .8 1.5 .8 1.2 .8 1.1 .8 .8 .8 .8 .8 .6 .8 .5 .8 .4 .8 .3 .8 .3 .8 .3 .8 .2 .8 .2 .8 .2 .8 .1 .8 .1 .8 .2 .8 .1 .8 .1 .8 .1 .8 0 .8 .1 .8 .1 .8 .1 .8 0 .8 .1 .8 .1 .8 0 .8 .1 .8 0 .8 .1 .8 0 .8 0 .8 .1 .8 0 .8 .1 .8 0 .8 0 .7 .1 .8 0 .8 0 .8 0 .8 .1 .8 0 .8 0 .8 0 .8 .1 .8 0 .8 0 .8 0 .8 0 .8 .1 .8 0 .8 0 .8 0 .8 0 .8 0 .8 0 .8 .1 .8 0 .8 0 .8 0 .8 0 .8 0 .8 0 .8 0 .8 .1 .8 0 .8 0 .8 0 .8 0 .8 0 .8 0 .8 0 .8 0 .8 0 .8 0 .8 0 0 .4 -126.2-.3zM634.3 530.9l.8 0 .8-.1 .8 0 .8-.1 .8-.1 .8-.1 .8-.1 .8-.1 .8-.1 .8-.2 .8-.2 .8-.2 .8-.2 .8-.2 .8-.3 .8-.3 .8-.3 .8-.4 .8-.4 .8-.4 .8-.5 .8-.5 .8-.5 .8-.5 .8-.6 .8-.6 .8-.6 .8-.6 .8-.7 .8-.6 .8-.6 .8-.7 .8-.6 .8-.6 .8-.6 .8-.6 .8-.5 .8-.5 .8-.4 .8-.4 .8-.4 .8-.3 .8-.2 .8-.1 .8-.1 .8 0 .8 0 .8 .1 .8 .2 .8 .3 .8 .3 .8 .3 .8 .5 .8 .4 .8 .5 .8 .6 .8 .6 .8 .6 .8 .6 .8 .6 .8 .7 .8 .6 .7 .7 .8 .6 .8 .6 .8 .6 .8 .6 .8 .6 .8 .5 .8 .5 .8 .5 .8 .4 .8 .4 .8 .4 .8 .4 .8 .3 .8 .3 .8 .3 .8 .2 .8 .2 .8 .2 .8 .2 .8 .2 .8 .1 .8 .1 .8 .1 .8 .1 .8 .1 .8 .1 .8 0 .8 .1 0 .2 -72.7-.2z" fill="none" stroke="#1a1208" stroke-width="1.1"/>
<path d="M589.6 530l.8 0 .8-.1 .8 0 .8-.1 .8 0 .8 0 .8-.1 .8 0 .8-.1 .8-.1 .8 0 .8-.1 .8 0 .8-.1 .8-.1 .8-.1 .8-.1 .8-.1 .8-.1 .8-.1 .8-.1 .8-.1 .8-.2 .8-.2 .8-.2 .8-.2 .8-.3 .8-.3 .8-.4 .8-.4 .8-.6 .8-.7 .8-.8 .8-.9 .8-1.2 .8-1.4 .8-1.6 .8-1.9 .8-2.2 .7-2.6 .8-2.9 .8-3.3 .8-3.7 .8-4.1 .8-4.4 .8-4.8 .8-5.1 .8-5.3 .8-5.5 .8-5.5 .8-5.4 .8-5.3 .8-4.9 .8-4.4 .8-3.7 .8-2.9 .8-1.9 .8-.9 .8 .3 .8 1.4 .8 2.3 .8 3.3 .8 4 .8 4.6 .8 5 .8 5.2 .8 5.3 .8 5.3 .8 5.2 .8 4.9 .8 4.6 .8 4.3 .8 3.9 .8 3.5 .8 3.1 .8 2.6 .8 2.3 .8 1.9 .8 1.5 .8 1.2 .8 .9 .8 .7 .8 .4 .8 .3 .8 .1 .8-.1 .8-.1 .8-.2 .8-.3 .8-.3 .8-.4 .8-.3 .8-.4 .8-.3 .8-.3 .8-.3 .8-.2 .8-.2 .8-.1 .8 0 .8 0 .8 0 .8 .1 .8 .2 .8 .3 .8 .3 .8 .4 .8 .4 .8 .4 .8 .6 .8 .5 .8 .6 .8 .6 .8 .7 .8 .6 .8 .7 .8 .7 .8 .7 .7 .6 .8 .7 .8 .6 .8 .7 .8 .6 .8 .6 .8 .5 .8 .5 .8 .5 .8 .5 .8 .5 .8 .4 .8 .3 .8 .4 .8 .3 .8 .3 .8 .2 .8 .3 .8 .2 .8 .2 .8 .1 .8 .2 .8 .1 .8 .1 .8 .1 .8 .1 .8 .1 .8 .1 .8 0 .8 .1 .8 0 .8 0 .8 .1 .8 0 .8 0 .8 .1 .8 0 .8 0 .8 0 .8 0" fill="none" stroke="#111" stroke-width=".9"/>
<g fill="none" stroke="#000" stroke-linejoin="round" stroke-linecap="round"><path d="M589.6 529.7l1.6 .4 1.6-.5 1.6 .2 1.6-.5 1.6 .3 1.6-.2 1.6 .4 1.6-.1 1.6-.5 1.6-.5 1.6-.1 1.6-.4 1.6-.8 1.6-.2 1.6-1.8 1.6-.8 1.6-.7 1.6-2.6 1.6-4.5 1.5-4 1.6-6.4 1.6-8.2 1.6-9.4 1.6-10.1 1.6-10.4 1.6-11 1.6-8.2 1.6-7.8 1.6-2.2 1.6 .2 1.6 4.8 1.6 9.4 1.6 10.8 1.6 11.9 1.6 9.3 1.6 8.9 1.6 6.6 1.6 6.1 1.6 4.5 1.6 2.4 1.6 2.1 1.6 1.1 1.6-.1 1.6-.8 1.6-.8 1.6-.4 1.6-1.3 1.6 .1 1.6-.9 1.6 .1 1.6-.5 1.6 .1 1.6 .5 1.6 1.4 1.6 1.1 1.6 1.2 1.6 1.7 1.6 .6 1.6 1.9 1.5 .9 1.6 1 1.6 1.2 1.6 1.7 1.6 1.5 1.6 .2 1.6 .3 1.6 .2 1.6 .9 1.6 .7 1.6 .4 1.6 .3 1.6 .6 1.6-.2 1.6 .1 1.6-.1 1.6-.3 1.6-.5 1.6 .5 1.6 .1" stroke-width="1.7"/><path d="M589.6 529.7l1.6 .4 1.6-.5 1.6 .2 1.6-.5 1.6 .3 1.6-.2 1.6 .4 1.6-.1 1.6-.5 1.6-.5 1.6-.1 1.6-.4 1.6-.8 1.6-.2 1.6-1.8 1.6-.8 1.6-.7 1.6-2.6 1.6-4.5 1.5-4 1.6-6.4 1.6-8.2 1.6-9.4 1.6-10.1 1.6-10.4 1.6-11 1.6-8.2 1.6-7.8 1.6-2.2 1.6 .2 1.6 4.8 1.6 9.4 1.6 10.8 1.6 11.9 1.6 9.3 1.6 8.9 1.6 6.6 1.6 6.1 1.6 4.5 1.6 2.4 1.6 2.1 1.6 1.1 1.6-.1 1.6-.8 1.6-.8 1.6-.4 1.6-1.3 1.6 .1 1.6-.9 1.6 .1 1.6-.5 1.6 .1 1.6 .5 1.6 1.4 1.6 1.1 1.6 1.2 1.6 1.7 1.6 .6 1.6 1.9 1.5 .9 1.6 1 1.6 1.2 1.6 1.7 1.6 1.5 1.6 .2 1.6 .3 1.6 .2 1.6 .9 1.6 .7 1.6 .4 1.6 .3 1.6 .6 1.6-.2 1.6 .1 1.6-.1 1.6-.3 1.6-.5 1.6 .5 1.6 .1" stroke-width="2.7" stroke-dasharray="0 1.9"/></g>
<line x1="670.4" y1="140.8" x2="670.4" y2="523.0" stroke="#555" stroke-width="0.9" stroke-dasharray="2.6 3.2"/>
<path d="M587.0,16.0 V411.5 H715.8" fill="none" stroke="#4a4a4a" stroke-width="1.5"/>
<line x1="608.7" y1="411.5" x2="608.7" y2="418.2" stroke="#4a4a4a" stroke-width="1.3"/>
<text x="608.7" y="432.8" font-size="11.1" font-weight="normal" fill="#2a2a2a" text-anchor="middle"  stroke="#2a2a2a" stroke-width=".3">140</text>
<line x1="637.7" y1="411.5" x2="637.7" y2="418.2" stroke="#4a4a4a" stroke-width="1.3"/>
<text x="637.7" y="432.8" font-size="11.1" font-weight="normal" fill="#2a2a2a" text-anchor="middle"  stroke="#2a2a2a" stroke-width=".3">137</text>
<line x1="666.7" y1="411.5" x2="666.7" y2="418.2" stroke="#4a4a4a" stroke-width="1.3"/>
<text x="666.7" y="432.8" font-size="11.1" font-weight="normal" fill="#2a2a2a" text-anchor="middle"  stroke="#2a2a2a" stroke-width=".3">134</text>
<line x1="695.6" y1="411.5" x2="695.6" y2="418.2" stroke="#4a4a4a" stroke-width="1.3"/>
<text x="695.6" y="432.8" font-size="11.1" font-weight="normal" fill="#2a2a2a" text-anchor="middle"  stroke="#2a2a2a" stroke-width=".3">131</text>
<path d="M587.0,439.4 V535.6 H715.8" fill="none" stroke="#4a4a4a" stroke-width="1.5"/>
<line x1="608.7" y1="535.6" x2="608.7" y2="542.1" stroke="#4a4a4a" stroke-width="1.3"/>
<text x="608.7" y="555.8" font-size="11.1" font-weight="normal" fill="#2a2a2a" text-anchor="middle"  stroke="#2a2a2a" stroke-width=".3">2155</text>
<line x1="637.7" y1="535.6" x2="637.7" y2="542.1" stroke="#4a4a4a" stroke-width="1.3"/>
<text x="637.7" y="555.8" font-size="11.1" font-weight="normal" fill="#2a2a2a" text-anchor="middle"  stroke="#2a2a2a" stroke-width=".3">2152</text>
<line x1="666.7" y1="535.6" x2="666.7" y2="542.1" stroke="#4a4a4a" stroke-width="1.3"/>
<text x="666.7" y="555.8" font-size="11.1" font-weight="normal" fill="#2a2a2a" text-anchor="middle"  stroke="#2a2a2a" stroke-width=".3">2149</text>
<line x1="695.6" y1="535.6" x2="695.6" y2="542.1" stroke="#4a4a4a" stroke-width="1.3"/>
<text x="695.6" y="555.8" font-size="11.1" font-weight="normal" fill="#2a2a2a" text-anchor="middle"  stroke="#2a2a2a" stroke-width=".3">2146</text>
<text x="650.2" y="571.0" font-size="11.0" font-weight="normal" fill="#383838" text-anchor="middle"  stroke="#383838" stroke-width=".3">Binding Energy / eV</text>
<text x="589.6" y="26.4" font-size="12.0" font-weight="bold" fill="#111" text-anchor="start" >P2p</text>
<text x="590.4" y="448.2" font-size="12.0" font-weight="bold" fill="#111" text-anchor="start" >P1s</text>
<text x="589.6" y="62.4" font-size="10.8" font-weight="normal" fill="#1e1e1e" text-anchor="start"  stroke="#1e1e1e" stroke-width=".3">280 eV</text>
<text x="589.6" y="73.2" font-size="10.8" font-weight="normal" fill="#1e1e1e" text-anchor="start"  stroke="#1e1e1e" stroke-width=".3">2 nm</text>
<text x="589.6" y="184.6" font-size="10.8" font-weight="normal" fill="#1e1e1e" text-anchor="start"  stroke="#1e1e1e" stroke-width=".3">730 eV</text>
<text x="589.6" y="195.4" font-size="10.8" font-weight="normal" fill="#1e1e1e" text-anchor="start"  stroke="#1e1e1e" stroke-width=".3">7 nm</text>
<text x="589.6" y="319.0" font-size="10.8" font-weight="normal" fill="#1e1e1e" text-anchor="start"  stroke="#1e1e1e" stroke-width=".3">2300 eV</text>
<text x="589.6" y="329.8" font-size="10.8" font-weight="normal" fill="#1e1e1e" text-anchor="start"  stroke="#1e1e1e" stroke-width=".3">18 nm</text>
<text x="589.6" y="465.0" font-size="10.8" font-weight="normal" fill="#1e1e1e" text-anchor="start"  stroke="#1e1e1e" stroke-width=".3">6900 eV</text>
<text x="589.6" y="475.8" font-size="10.8" font-weight="normal" fill="#1e1e1e" text-anchor="start"  stroke="#1e1e1e" stroke-width=".3">36 nm</text>
<text x="654.7" y="135.5" font-size="10.6" font-weight="normal" fill="#444" text-anchor="start"  stroke="#444" stroke-width=".3">P-O/P=O</text>
<text transform="translate(29.3,103.5) rotate(-90)" font-size="16.8" font-weight="bold" fill="#111" text-anchor="middle" textLength="66.5" lengthAdjust="spacingAndGlyphs"  stroke="#111" stroke-width=".5">SOXPES</text>
<text transform="translate(29.3,385.3) rotate(-90)" font-size="16.8" font-weight="bold" fill="#111" text-anchor="middle" textLength="67.6" lengthAdjust="spacingAndGlyphs"  stroke="#111" stroke-width=".5">HAXPES</text>
<line x1="739.3" y1="49.3" x2="739.3" y2="474" stroke="#2e2e2e" stroke-width="1.7"/>
<path d="M739.3,485.8 L730.2,468.5 L739.3,473.5 L748.6,468.5 Z" fill="#111"/>
<text transform="translate(769.0,282.3) rotate(-90)" font-size="16.5" font-weight="normal" fill="#222" text-anchor="middle" textLength="183.0" lengthAdjust="spacingAndGlyphs" >Increasing probing depth</text>
<path d="M56 1066.4l.8 0 .8 0 .8 0 .8 0 .8 0 .8 0 .8-.1 .8 0 .8 0 .8 0 .8 0 .8 0 .8-.1 .8 0 .8 0 .8 0 .8-.1 .8 0 .8 0 .8-.1 .8-.1 .8 0 .8-.1 .8-.1 .8-.1 .8-.1 .8-.1 .8-.2 .8-.2 .8-.2 .8-.2 .8-.3 .8-.3 .8-.4 .8-.4 .8-.5 .8-.5 .8-.6 .8-.7 .8-.8 .8-.8 .8-1 .8-1.1 .8-1.2 .8-1.3 .8-1.5 .8-1.6 .8-1.7 .8-1.9 .8-2.1 .8-2.3 .8-2.4 .8-2.6 .8-2.8 .8-2.9 .8-3.2 .8-3.3 .8-3.5 .8-3.7 .8-3.8 .8-3.9 .8-4.1 .8-4.2 .8-4.3 .8-4.4 .8-4.4 .8-4.4 .8-4.4 .8-4.4 .8-4.3 .8-4.3 .8-4.1 .8-3.9 .8-3.7 .8-3.6 .8-3.2 .8-3 .8-2.7 .8-2.3 .8-1.9 .8-1.6 .8-1.2 .8-.7 .8-.4 .9 .2 .8 .9 .8 1.5 .8 2.3 .8 2.8 .8 3.5 .8 4 .8 4.4 .8 4.9 .8 5.2 .8 5.4 .8 5.6 .8 5.8 .8 5.8 .8 5.7 .8 5.7 .8 5.6 .8 5.4 .8 5.2 .8 4.9 .8 4.7 .8 4.3 .8 4.1 .8 3.8 .8 3.5 .8 3.1 .8 2.9 .8 2.6 .8 2.3 .8 2 .8 1.9 .8 1.5 .8 1.4 .8 1.2 .8 1.1 .8 .9 .8 .7 .8 .7 .8 .5 .8 .5 .8 .4 .8 .3 .8 .3 .8 .2 .8 .2 .8 .1 .8 .2 .8 .1 .8 0 .8 .1 .8 .1 .8 0 .8 .1 .8 0 .8 0 .8 .1 .8 0 .8 0 .8 0 .8 .1 .8 0 .8 0 .8 0 .8 0 .8 0 .8 0 .8 0 .8 .1 .8 0 .8 0 .8 0 .8 0 .8 0 .8 0 .8 0 .8 0 .8 0 .8 0 .8 0 .8 0 .8 .1 .8 0 .8 0 .8 0 0 .2 -134.5-.4z" fill="#8cc4bc"/>
<path d="M136.9 1066.8l.8-.1 .8-.2 .8-.3 .8-.4 .8-.5 .8-.7 .8-.8 .8-1.1 .8-1.2 .8-1.5 .8-1.6 .8-1.8 .8-1.9 .8-2 .8-2 .8-1.8 .8-1.6 .8-1.3 .8-1 .8-.5 .8-.1 .8 .4 .8 .8 .8 1.2 .8 1.6 .8 1.8 .8 1.9 .8 1.9 .8 2 .8 1.8 .8 1.8 .8 1.5 .8 1.3 .8 1.1 .8 .9 .8 .7 .8 .6 .8 .4 .8 .4 .8 .2 .8 .2 .8 .1 0 .2 -33.6-.1z" fill="#93d08c"/>
<path d="M136.9 1066.8l.8-.1 .8-.2 .8-.3 .8-.4 .8-.5 .8-.7 .8-.8 .8-1.1 .8-1.2 .8-1.5 .8-1.6 .8-1.8 .8-1.9 .8 1.3 .8 1.5 .8 1.4 .8 1.2 .8 1.1 .8 .9 .8 .7 .8 .7 .8 .5 .8 .5 .8 .4 .8 .3 .8 .3 .8 .2 .8 .2 .8 .1 .8 .2 .8 .1 .8 0 .8 .1 .8 .1 .8 0 .8 .1 .8 0 .8 0 .8 .1 .8 0 .8 .2 .8 .1 0 .2 -33.6-.1z" fill="#6ab180"/>
<path d="M56 1066.4l.8 0 .8 0 .8 0 .8 0 .8 0 .8 0 .8-.1 .8 0 .8 0 .8 0 .8 0 .8 0 .8-.1 .8 0 .8 0 .8 0 .8-.1 .8 0 .8 0 .8-.1 .8-.1 .8 0 .8-.1 .8-.1 .8-.1 .8-.1 .8-.1 .8-.2 .8-.2 .8-.2 .8-.2 .8-.3 .8-.3 .8-.4 .8-.4 .8-.5 .8-.5 .8-.6 .8-.7 .8-.8 .8-.8 .8-1 .8-1.1 .8-1.2 .8-1.3 .8-1.5 .8-1.6 .8-1.7 .8-1.9 .8-2.1 .8-2.3 .8-2.4 .8-2.6 .8-2.8 .8-2.9 .8-3.2 .8-3.3 .8-3.5 .8-3.7 .8-3.8 .8-3.9 .8-4.1 .8-4.2 .8-4.3 .8-4.4 .8-4.4 .8-4.4 .8-4.4 .8-4.4 .8-4.3 .8-4.3 .8-4.1 .8-3.9 .8-3.7 .8-3.6 .8-3.2 .8-3 .8-2.7 .8-2.3 .8-1.9 .8-1.6 .8-1.2 .8-.7 .8-.4 .9 .2 .8 .9 .8 1.5 .8 2.3 .8 2.8 .8 3.5 .8 4 .8 4.4 .8 4.9 .8 5.2 .8 5.4 .8 5.6 .8 5.8 .8 5.8 .8 5.7 .8 5.7 .8 5.6 .8 5.4 .8 5.2 .8 4.9 .8 4.7 .8 4.3 .8 4.1 .8 3.8 .8 3.5 .8 3.1 .8 2.9 .8 2.6 .8 2.3 .8 2 .8 1.9 .8 1.5 .8 1.4 .8 1.2 .8 1.1 .8 .9 .8 .7 .8 .7 .8 .5 .8 .5 .8 .4 .8 .3 .8 .3 .8 .2 .8 .2 .8 .1 .8 .2 .8 .1 .8 0 .8 .1 .8 .1 .8 0 .8 .1 .8 0 .8 0 .8 .1 .8 0 .8 0 .8 0 .8 .1 .8 0 .8 0 .8 0 .8 0 .8 0 .8 0 .8 0 .8 .1 .8 0 .8 0 .8 0 .8 0 .8 0 .8 0 .8 0 .8 0 .8 0 .8 0 .8 0 .8 0 .8 .1 .8 0 .8 0 .8 0 0 .2 -134.5-.4zM136.9 1066.8l.8-.1 .8-.2 .8-.3 .8-.4 .8-.5 .8-.7 .8-.8 .8-1.1 .8-1.2 .8-1.5 .8-1.6 .8-1.8 .8-1.9 .8-2 .8-2 .8-1.8 .8-1.6 .8-1.3 .8-1 .8-.5 .8-.1 .8 .4 .8 .8 .8 1.2 .8 1.6 .8 1.8 .8 1.9 .8 1.9 .8 2 .8 1.8 .8 1.8 .8 1.5 .8 1.3 .8 1.1 .8 .9 .8 .7 .8 .6 .8 .4 .8 .4 .8 .2 .8 .2 .8 .1 0 .2 -33.6-.1z" fill="none" stroke="#1a1208" stroke-width="1.1"/>
<path d="M56 1066.4l.8 0 .8 0 .8 0 .8 0 .8 0 .8 0 .8-.1 .8 0 .8 0 .8 0 .8 0 .8 0 .8-.1 .8 0 .8 0 .8 0 .8-.1 .8 0 .8 0 .8-.1 .8-.1 .8 0 .8-.1 .8-.1 .8-.1 .8-.1 .8-.1 .8-.2 .8-.2 .8-.2 .8-.2 .8-.3 .8-.3 .8-.4 .8-.4 .8-.5 .8-.5 .8-.6 .8-.7 .8-.8 .8-.8 .8-1 .8-1.1 .8-1.2 .8-1.3 .8-1.5 .8-1.6 .8-1.7 .8-1.9 .8-2.1 .8-2.3 .8-2.4 .8-2.6 .8-2.8 .8-2.9 .8-3.2 .8-3.3 .8-3.5 .8-3.7 .8-3.8 .8-3.9 .8-4.1 .8-4.2 .8-4.3 .8-4.4 .8-4.4 .8-4.4 .8-4.4 .8-4.4 .8-4.3 .8-4.3 .8-4.1 .8-3.9 .8-3.7 .8-3.6 .8-3.2 .8-3 .8-2.7 .8-2.3 .8-1.9 .8-1.6 .8-1.2 .8-.7 .8-.4 .9 .2 .8 .9 .8 1.5 .8 2.3 .8 2.8 .8 3.5 .8 4 .8 4.4 .8 4.9 .8 5.2 .8 5.4 .8 5.6 .8 5.7 .8 5.8 .8 5.7 .8 5.6 .8 5.5 .8 5.2 .8 5 .8 4.6 .8 4.3 .8 3.9 .8 3.4 .8 2.9 .8 2.4 .8 2 .8 1.4 .8 .9 .8 .5 .8 .1 .8-.1 .8-.4 .8-.4 .8-.4 .8-.3 .8-.1 .8 .2 .8 .6 .8 .9 .8 1.3 .8 1.6 .8 1.9 .8 2 .8 2.2 .8 2.1 .8 2.1 .8 2 .8 1.8 .8 1.6 .8 1.4 .8 1.2 .8 .9 .8 .8 .8 .6 .8 .5 .8 .3 .8 .3 .8 .2 .8 .1 .8 .1 .8 .1 .8 0 .8 .1 .8 0 .8 0 .8 0 .8 0 .8 0 .8 .1 .8 0 .8 0 .8 0 .8 0" fill="none" stroke="#111" stroke-width=".9"/>
<g fill="none" stroke="#000" stroke-linejoin="round" stroke-linecap="round"><path d="M56 1066.8l1.6 .4 1.6-.8 1.6-.4 1.6 .3 1.6 .8 1.6-.3 1.6-.8 1.6-.3 1.6 .2 1.6 .5 1.6-.4 1.6-.4 1.6-.2 1.6-.2 1.6-.7 1.6-.3 1.6-.5 1.6-.1 1.6-1.6 1.6-1.1 1.6-2.9 1.6-1.6 1.6-2.9 1.6-3.8 1.6-3.9 1.6-4 1.6-5.9 1.6-5.4 1.6-6 1.6-7 1.6-7.8 1.6-10.8 1.6-8.4 1.6-9.7 1.6-7.5 1.6-8.6 1.6-7.7 1.6-6.5 1.6-6.6 1.6-4 1.6-3.5 1.6 1.6 1.7-.5 1.6 3.6 1.6 4.4 1.6 7.9 1.6 10.5 1.6 12.8 1.6 12.2 1.6 11.2 1.6 9.9 1.6 11.3 1.6 6.6 1.6 5.8 1.6 5 1.6 1.7 1.6 1.1 1.6 .3 1.6-1.3 1.6-.2 1.6 .7 1.6 1.6 1.6 1.5 1.6 4.7 1.6 5.2 1.6 3.3 1.6 3.4 1.6 2.8 1.6 2.2 1.6-.1 1.6 .4 1.6 .6 1.6 .4 1.6-.7 1.6 1.1 1.6-.6 1.6 .5 1.6-.3 1.6 .2 1.6 .6 1.6-.1 1.6-.4 1.6-.6 1.6-.1" stroke-width="1.7"/><path d="M56 1066.8l1.6 .4 1.6-.8 1.6-.4 1.6 .3 1.6 .8 1.6-.3 1.6-.8 1.6-.3 1.6 .2 1.6 .5 1.6-.4 1.6-.4 1.6-.2 1.6-.2 1.6-.7 1.6-.3 1.6-.5 1.6-.1 1.6-1.6 1.6-1.1 1.6-2.9 1.6-1.6 1.6-2.9 1.6-3.8 1.6-3.9 1.6-4 1.6-5.9 1.6-5.4 1.6-6 1.6-7 1.6-7.8 1.6-10.8 1.6-8.4 1.6-9.7 1.6-7.5 1.6-8.6 1.6-7.7 1.6-6.5 1.6-6.6 1.6-4 1.6-3.5 1.6 1.6 1.7-.5 1.6 3.6 1.6 4.4 1.6 7.9 1.6 10.5 1.6 12.8 1.6 12.2 1.6 11.2 1.6 9.9 1.6 11.3 1.6 6.6 1.6 5.8 1.6 5 1.6 1.7 1.6 1.1 1.6 .3 1.6-1.3 1.6-.2 1.6 .7 1.6 1.6 1.6 1.5 1.6 4.7 1.6 5.2 1.6 3.3 1.6 3.4 1.6 2.8 1.6 2.2 1.6-.1 1.6 .4 1.6 .6 1.6 .4 1.6-.7 1.6 1.1 1.6-.6 1.6 .5 1.6-.3 1.6 .2 1.6 .6 1.6-.1 1.6-.4 1.6-.6 1.6-.1" stroke-width="2.7" stroke-dasharray="0 1.9"/></g>
<path d="M56 1223.5l.8 0 .8 0 .8 0 .8-.1 .8 0 .8 0 .8 0 .8 0 .8 0 .8 0 .8 0 .8 0 .8 0 .8-.1 .8 0 .8 0 .8 0 .8 0 .8 0 .8-.1 .8 0 .8 0 .8 0 .8-.1 .8 0 .8 0 .8-.1 .8 0 .8-.1 .8-.1 .8-.1 .8-.1 .8-.1 .8-.1 .8-.2 .8-.2 .8-.2 .8-.3 .8-.3 .8-.3 .8-.4 .8-.5 .8-.6 .8-.6 .8-.8 .8-.8 .8-.9 .8-1.1 .8-1.2 .8-1.4 .8-1.5 .8-1.7 .8-1.9 .8-2.1 .8-2.3 .8-2.5 .8-2.8 .8-3 .8-3.2 .8-3.4 .8-3.7 .8-3.9 .8-4.2 .8-4.3 .8-4.6 .8-4.7 .8-4.9 .8-5.1 .8-5.1 .8-5.3 .8-5.2 .8-5.3 .8-5.2 .8-5.2 .8-5 .8-4.8 .8-4.7 .8-4.3 .8-4 .8-3.7 .8-3.3 .8-2.8 .8-2.4 .8-1.8 .9-1.4 .8-.8 .8-.2 .8 .5 .8 1.1 .8 1.9 .8 2.6 .8 3.3 .8 3.8 .8 4.4 .8 4.8 .8 5.3 .8 5.5 .8 5.9 .8 6 .8 6.1 .8 6.1 .8 6.1 .8 6 .8 5.9 .8 5.8 .8 5.5 .8 5.2 .8 5 .8 4.6 .8 4.4 .8 4 .8 3.7 .8 3.4 .8 3.1 .8 2.7 .8 2.5 .8 2.2 .8 2 .8 1.7 .8 1.6 .8 1.3 .8 1.1 .8 1 .8 .9 .8 .7 .8 .6 .8 .5 .8 .5 .8 .3 .8 .3 .8 .3 .8 .2 .8 .2 .8 .1 .8 .1 .8 .1 .8 .1 .8 .1 .8 0 .8 .1 .8 0 .8 .1 .8 0 .8 0 .8 .1 .8 0 .8 0 .8 0 .8 0 .8 .1 .8 0 .8 0 .8 0 .8 0 .8 0 .8 0 .8 0 .8 0 .8 .1 .8 0 .8 0 .8 0 .8 0 .8 0 .8 0 .8 0 .8 0 .8 0 0 .3 -134.5-.4z" fill="#8cc4bc"/>
<path d="M140.1 1223.8l.8-.1 .8-.2 .8-.3 .8-.3 .8-.5 .8-.6 .8-.7 .8-.8 .8-.9 .8-1 .8-1 .8-1 .8-1 .8-.8 .8-.7 .8-.5 .8-.2 .8 0 .8 .3 .8 .5 .8 .8 .8 .8 .8 1 .8 1 .8 1 .8 1 .8 .9 .8 .8 .8 .7 .8 .5 .8 .5 .8 .3 .8 .3 .8 .2 .8 .1 0 .3 -28 0z" fill="#93d08c"/>
<path d="M140.1 1223.8l.8-.1 .8-.2 .8-.3 .8-.3 .8-.5 .8-.6 .8-.7 .8-.8 .8-.9 .8-1 .8-1 .8-1 .8-1 .8-.8 .8 .4 .8 1.3 .8 1.1 .8 1 .8 .9 .8 .7 .8 .6 .8 .5 .8 .5 .8 .3 .8 .3 .8 .3 .8 .2 .8 .2 .8 .1 .8 .1 .8 .1 .8 .1 .8 .3 .8 .2 .8 .1 0 .3 -28 0z" fill="#6ab180"/>
<path d="M56 1223.5l.8 0 .8 0 .8 0 .8-.1 .8 0 .8 0 .8 0 .8 0 .8 0 .8 0 .8 0 .8 0 .8 0 .8-.1 .8 0 .8 0 .8 0 .8 0 .8 0 .8-.1 .8 0 .8 0 .8 0 .8-.1 .8 0 .8 0 .8-.1 .8 0 .8-.1 .8-.1 .8-.1 .8-.1 .8-.1 .8-.1 .8-.2 .8-.2 .8-.2 .8-.3 .8-.3 .8-.3 .8-.4 .8-.5 .8-.6 .8-.6 .8-.8 .8-.8 .8-.9 .8-1.1 .8-1.2 .8-1.4 .8-1.5 .8-1.7 .8-1.9 .8-2.1 .8-2.3 .8-2.5 .8-2.8 .8-3 .8-3.2 .8-3.4 .8-3.7 .8-3.9 .8-4.2 .8-4.3 .8-4.6 .8-4.7 .8-4.9 .8-5.1 .8-5.1 .8-5.3 .8-5.2 .8-5.3 .8-5.2 .8-5.2 .8-5 .8-4.8 .8-4.7 .8-4.3 .8-4 .8-3.7 .8-3.3 .8-2.8 .8-2.4 .8-1.8 .9-1.4 .8-.8 .8-.2 .8 .5 .8 1.1 .8 1.9 .8 2.6 .8 3.3 .8 3.8 .8 4.4 .8 4.8 .8 5.3 .8 5.5 .8 5.9 .8 6 .8 6.1 .8 6.1 .8 6.1 .8 6 .8 5.9 .8 5.8 .8 5.5 .8 5.2 .8 5 .8 4.6 .8 4.4 .8 4 .8 3.7 .8 3.4 .8 3.1 .8 2.7 .8 2.5 .8 2.2 .8 2 .8 1.7 .8 1.6 .8 1.3 .8 1.1 .8 1 .8 .9 .8 .7 .8 .6 .8 .5 .8 .5 .8 .3 .8 .3 .8 .3 .8 .2 .8 .2 .8 .1 .8 .1 .8 .1 .8 .1 .8 .1 .8 0 .8 .1 .8 0 .8 .1 .8 0 .8 0 .8 .1 .8 0 .8 0 .8 0 .8 0 .8 .1 .8 0 .8 0 .8 0 .8 0 .8 0 .8 0 .8 0 .8 0 .8 .1 .8 0 .8 0 .8 0 .8 0 .8 0 .8 0 .8 0 .8 0 .8 0 0 .3 -134.5-.4zM140.1 1223.8l.8-.1 .8-.2 .8-.3 .8-.3 .8-.5 .8-.6 .8-.7 .8-.8 .8-.9 .8-1 .8-1 .8-1 .8-1 .8-.8 .8-.7 .8-.5 .8-.2 .8 0 .8 .3 .8 .5 .8 .8 .8 .8 .8 1 .8 1 .8 1 .8 1 .8 .9 .8 .8 .8 .7 .8 .5 .8 .5 .8 .3 .8 .3 .8 .2 .8 .1 0 .3 -28 0z" fill="none" stroke="#1a1208" stroke-width="1.1"/>
<path d="M56 1223.5l.8 0 .8 0 .8 0 .8-.1 .8 0 .8 0 .8 0 .8 0 .8 0 .8 0 .8 0 .8 0 .8 0 .8-.1 .8 0 .8 0 .8 0 .8 0 .8 0 .8-.1 .8 0 .8 0 .8 0 .8-.1 .8 0 .8 0 .8-.1 .8 0 .8-.1 .8-.1 .8-.1 .8-.1 .8-.1 .8-.1 .8-.2 .8-.2 .8-.2 .8-.3 .8-.3 .8-.3 .8-.4 .8-.5 .8-.6 .8-.6 .8-.8 .8-.8 .8-.9 .8-1.1 .8-1.2 .8-1.4 .8-1.5 .8-1.7 .8-1.9 .8-2.1 .8-2.3 .8-2.5 .8-2.8 .8-3 .8-3.2 .8-3.4 .8-3.7 .8-3.9 .8-4.2 .8-4.3 .8-4.6 .8-4.7 .8-4.9 .8-5.1 .8-5.1 .8-5.3 .8-5.2 .8-5.3 .8-5.2 .8-5.2 .8-5 .8-4.8 .8-4.7 .8-4.3 .8-4 .8-3.7 .8-3.3 .8-2.8 .8-2.4 .8-1.8 .9-1.4 .8-.8 .8-.2 .8 .5 .8 1.1 .8 1.9 .8 2.6 .8 3.3 .8 3.8 .8 4.4 .8 4.8 .8 5.3 .8 5.5 .8 5.8 .8 6 .8 6.1 .8 6.1 .8 6.1 .8 6 .8 5.8 .8 5.7 .8 5.3 .8 5 .8 4.7 .8 4.3 .8 3.9 .8 3.4 .8 3.1 .8 2.5 .8 2.2 .8 1.8 .8 1.5 .8 1.2 .8 1 .8 .9 .8 .8 .8 .8 .8 1 .8 1 .8 1.1 .8 1.2 .8 1.4 .8 1.3 .8 1.5 .8 1.3 .8 1.4 .8 1.2 .8 1.1 .8 1 .8 .8 .8 .7 .8 .5 .8 .4 .8 .4 .8 .2 .8 .2 .8 .2 .8 .1 .8 0 .8 .1 .8 0 .8 .1 .8 0 .8 0 .8 0 .8 0 .8 .1 .8 0 .8 0 .8 0 .8 0 .8 0 .8 0 .8 0 .8 .1 .8 0 .8 0 .8 0 .8 0 .8 0" fill="none" stroke="#111" stroke-width=".9"/>
<g fill="none" stroke="#000" stroke-linejoin="round" stroke-linecap="round"><path d="M56 1223.8l1.6-.3 1.6 2.1 1.6-.9 1.6-.6 1.6-.1 1.6-.7 1.6-.4 1.6 .5 1.6-.3 1.6 .6 1.6-.4 1.6-1.3 1.6-.3 1.6 .1 1.6-.8 1.6 .8 1.6 0 1.6 .6 1.6-1.3 1.6-.6 1.6-.3 1.6-.8 1.6-2.7 1.6-.5 1.6-3.7 1.6-2.1 1.6-4.8 1.6-5.4 1.6-6.7 1.6-6.1 1.6-4.6 1.6-10.4 1.6-7.7 1.6-9.4 1.6-12.2 1.6-9.4 1.6-9.5 1.6-11.8 1.6-10.1 1.6-5.9 1.6-6.3 1.6-1.7 1.7-3.5 1.6-2.8 1.6 3.4 1.6 4.3 1.6 10.3 1.6 11 1.6 10.2 1.6 10.9 1.6 14 1.6 11.1 1.6 12.4 1.6 7.9 1.6 8.2 1.6 6.2 1.6 4.1 1.6 6.6 1.6 2.7 1.6-.2 1.6 2.2 1.6 0 1.6 4.3 1.6 3.4 1.6 1.8 1.6 1.9 1.6 2.1 1.6 1.5 1.6 .3 1.6-.1 1.6 .4 1.6 .1 1.6 .9 1.6-.1 1.6 .1 1.6-1.1 1.6 .3 1.6 .1 1.6 0 1.6 .2 1.6 .1 1.6-.8 1.6 1.2 1.6 .5" stroke-width="1.7"/><path d="M56 1223.8l1.6-.3 1.6 2.1 1.6-.9 1.6-.6 1.6-.1 1.6-.7 1.6-.4 1.6 .5 1.6-.3 1.6 .6 1.6-.4 1.6-1.3 1.6-.3 1.6 .1 1.6-.8 1.6 .8 1.6 0 1.6 .6 1.6-1.3 1.6-.6 1.6-.3 1.6-.8 1.6-2.7 1.6-.5 1.6-3.7 1.6-2.1 1.6-4.8 1.6-5.4 1.6-6.7 1.6-6.1 1.6-4.6 1.6-10.4 1.6-7.7 1.6-9.4 1.6-12.2 1.6-9.4 1.6-9.5 1.6-11.8 1.6-10.1 1.6-5.9 1.6-6.3 1.6-1.7 1.7-3.5 1.6-2.8 1.6 3.4 1.6 4.3 1.6 10.3 1.6 11 1.6 10.2 1.6 10.9 1.6 14 1.6 11.1 1.6 12.4 1.6 7.9 1.6 8.2 1.6 6.2 1.6 4.1 1.6 6.6 1.6 2.7 1.6-.2 1.6 2.2 1.6 0 1.6 4.3 1.6 3.4 1.6 1.8 1.6 1.9 1.6 2.1 1.6 1.5 1.6 .3 1.6-.1 1.6 .4 1.6 .1 1.6 .9 1.6-.1 1.6 .1 1.6-1.1 1.6 .3 1.6 .1 1.6 0 1.6 .2 1.6 .1 1.6-.8 1.6 1.2 1.6 .5" stroke-width="2.7" stroke-dasharray="0 1.9"/></g>
<path d="M53.4,919.9 V1231.5 H190.5" fill="none" stroke="#4a4a4a" stroke-width="1.5"/>
<line x1="76.8" y1="1231.5" x2="76.8" y2="1238.5" stroke="#4a4a4a" stroke-width="1.3"/>
<text x="76.8" y="1252.8" font-size="11.1" font-weight="normal" fill="#2a2a2a" text-anchor="middle"  stroke="#2a2a2a" stroke-width=".3">692</text>
<line x1="107.6" y1="1231.5" x2="107.6" y2="1238.5" stroke="#4a4a4a" stroke-width="1.3"/>
<text x="107.6" y="1252.8" font-size="11.1" font-weight="normal" fill="#2a2a2a" text-anchor="middle"  stroke="#2a2a2a" stroke-width=".3">689</text>
<line x1="139.0" y1="1231.5" x2="139.0" y2="1238.5" stroke="#4a4a4a" stroke-width="1.3"/>
<text x="139.0" y="1252.8" font-size="11.1" font-weight="normal" fill="#2a2a2a" text-anchor="middle"  stroke="#2a2a2a" stroke-width=".3">686</text>
<line x1="169.8" y1="1231.5" x2="169.8" y2="1238.5" stroke="#4a4a4a" stroke-width="1.3"/>
<text x="169.8" y="1252.8" font-size="11.1" font-weight="normal" fill="#2a2a2a" text-anchor="middle"  stroke="#2a2a2a" stroke-width=".3">683</text>
<text x="127.8" y="1265.6" font-size="11.0" font-weight="normal" fill="#383838" text-anchor="middle"  stroke="#383838" stroke-width=".3">Binding Energy / eV</text>
<text x="57.3" y="930.5" font-size="12.0" font-weight="bold" fill="#111" text-anchor="start" >F1s</text>
<text x="57.3" y="982.1" font-size="10.8" font-weight="normal" fill="#1e1e1e" text-anchor="start"  stroke="#1e1e1e" stroke-width=".3">835 eV</text>
<text x="57.3" y="993.5" font-size="10.8" font-weight="normal" fill="#1e1e1e" text-anchor="start"  stroke="#1e1e1e" stroke-width=".3">2 nm</text>
<text x="57.3" y="1155.6" font-size="10.8" font-weight="normal" fill="#1e1e1e" text-anchor="start"  stroke="#1e1e1e" stroke-width=".3">6900 eV</text>
<text x="57.3" y="1167.0" font-size="10.8" font-weight="normal" fill="#1e1e1e" text-anchor="start"  stroke="#1e1e1e" stroke-width=".3">45 nm</text>
<path d="M237.7 1064.1l.8-.1 .8-.1 .8-.1 .8-.2 .8-.3 .8-.3 .8-.4 .8-.5 .8-.5 .8-.7 .8-.8 .8-1 .8-1.1 .8-1.3 .8-1.5 .8-1.7 .8-1.8 .8-2.1 .8-2.2 .8-2.3 .8-2.5 .8-2.6 .8-2.7 .8-2.7 .8-2.7 .8-2.6 .8-2.4 .8-2.3 .8-2.1 .8-1.7 .8-1.4 .8-1.1 .8-.6 .8-.3 .8 .2 .8 .6 .8 1 .8 1.4 .8 1.8 .8 2 .8 2.4 .8 2.5 .8 2.7 .8 2.8 .8 2.8 .8 2.8 .8 2.8 .8 2.7 .8 2.5 .8 2.4 .8 2.3 .8 2 .8 1.9 .8 1.7 .8 1.4 .8 1.4 .8 1.1 .8 1 .8 .8 .8 .7 .8 .6 .8 .6 .8 .4 .8 .3 .8 .3 .8 .2 .8 .2 .8 .1 .8 .2 0 .2 -55.2-3.8z" fill="#f3937e"/>
<path d="M255.3 1064.4l.8-.1 .8-.1 .8-.1 .8-.1 .8-.2 .8-.3 .8-.4 .8-.4 .8-.6 .8-.6 .8-.9 .8-1 .8-1.1 .8-1.4 .8-1.5 .8-1.8 .8-2 .8-2.2 .8-2.4 .8-2.6 .8-2.7 .8-2.8 .8-3 .8-2.9 .8-3 .8-2.9 .8-2.7 .8-2.5 .8-2.2 .8-2 .8-1.5 .8-1.1 .8-.7 .8-.2 .8 .2 .8 .8 .8 1.2 .8 1.6 .8 2 .8 2.3 .8 2.6 .8 2.9 .8 2.9 .8 3.1 .8 3.1 .8 3.1 .8 3 .8 2.9 .8 2.7 .8 2.6 .8 2.3 .8 2.2 .8 1.9 .8 1.7 .8 1.5 .8 1.3 .8 1.1 .8 1 .8 .8 .8 .6 .8 .6 .8 .4 .8 .4 .8 .3 .8 .2 .8 .2 .8 .1 .8 .1 .8 .1 0 .2 -55.2-3.7z" fill="#fbc78c"/>
<path d="M255.3 1064.4l.8-.1 .8-.1 .8-.1 .8-.1 .8-.2 .8-.3 .8-.4 .8-.4 .8-.6 .8-.6 .8-.9 .8-1 .8-1.1 .8-1.4 .8-1.5 .8-1.8 .8-2 .8-2.2 .8-2.4 .8-2.6 .8-2.7 .8-2.8 .8-1.5 .8 2.8 .8 2.8 .8 2.7 .8 2.5 .8 2.4 .8 2.3 .8 2 .8 1.9 .8 1.7 .8 1.4 .8 1.4 .8 1.1 .8 1 .8 .8 .8 .7 .8 .6 .8 .6 .8 .4 .8 .3 .8 .3 .8 .2 .8 .2 .8 .1 .8 .2 0 .2 -37.6-3.5z" fill="#f28a5f"/>
<path d="M237.7 1064.1l.8-.1 .8-.1 .8-.1 .8-.2 .8-.3 .8-.3 .8-.4 .8-.5 .8-.5 .8-.7 .8-.8 .8-1 .8-1.1 .8-1.3 .8-1.5 .8-1.7 .8-1.8 .8-2.1 .8-2.2 .8-2.3 .8-2.5 .8-2.6 .8-2.7 .8-2.7 .8-2.7 .8-2.6 .8-2.4 .8-2.3 .8-2.1 .8-1.7 .8-1.4 .8-1.1 .8-.6 .8-.3 .8 .2 .8 .6 .8 1 .8 1.4 .8 1.8 .8 2 .8 2.4 .8 2.5 .8 2.7 .8 2.8 .8 2.8 .8 2.8 .8 2.8 .8 2.7 .8 2.5 .8 2.4 .8 2.3 .8 2 .8 1.9 .8 1.7 .8 1.4 .8 1.4 .8 1.1 .8 1 .8 .8 .8 .7 .8 .6 .8 .6 .8 .4 .8 .3 .8 .3 .8 .2 .8 .2 .8 .1 .8 .2 0 .2 -55.2-3.8zM255.3 1064.4l.8-.1 .8-.1 .8-.1 .8-.1 .8-.2 .8-.3 .8-.4 .8-.4 .8-.6 .8-.6 .8-.9 .8-1 .8-1.1 .8-1.4 .8-1.5 .8-1.8 .8-2 .8-2.2 .8-2.4 .8-2.6 .8-2.7 .8-2.8 .8-3 .8-2.9 .8-3 .8-2.9 .8-2.7 .8-2.5 .8-2.2 .8-2 .8-1.5 .8-1.1 .8-.7 .8-.2 .8 .2 .8 .8 .8 1.2 .8 1.6 .8 2 .8 2.3 .8 2.6 .8 2.9 .8 2.9 .8 3.1 .8 3.1 .8 3.1 .8 3 .8 2.9 .8 2.7 .8 2.6 .8 2.3 .8 2.2 .8 1.9 .8 1.7 .8 1.5 .8 1.3 .8 1.1 .8 1 .8 .8 .8 .6 .8 .6 .8 .4 .8 .4 .8 .3 .8 .2 .8 .2 .8 .1 .8 .1 .8 .1 0 .2 -55.2-3.7z" fill="none" stroke="#1a1208" stroke-width="1.1"/>
<path d="M238.5 1064l.8-.1 .8-.1 .8-.2 .8-.3 .8-.3 .8-.4 .8-.5 .8-.5 .8-.7 .8-.9 .8-.9 .8-1.2 .8-1.3 .8-1.5 .8-1.6 .8-1.9 .8-2.1 .8-2.2 .8-2.4 .8-2.6 .8-2.7 .8-2.8 .8-2.8 .8-2.9 .8-2.8 .8-2.8 .8-2.7 .8-2.5 .8-2.4 .8-2.2 .8-1.9 .8-1.7 .8-1.5 .8-1.2 .8-1.1 .8-.8 .8-.7 .8-.5 .8-.4 .8-.4 .8-.3 .8-.2 .8-.3 .8-.3 .8-.3 .8-.3 .8-.2 .8-.2 .8-.1 .8 .1 .8 .2 .8 .4 .8 .6 .8 1 .8 1.2 .8 1.5 .8 1.8 .8 2.2 .8 2.4 .8 2.7 .8 2.9 .8 3.1 .8 3.2 .8 3.3 .8 3.3 .8 3.3 .8 3.2 .8 3.2 .8 2.9 .8 2.8 .8 2.6 .8 2.4 .8 2.2 .8 2 .8 1.7 .8 1.5 .8 1.3 .8 1.1 .8 1 .8 .8 .8 .6 .8 .6 .8 .4 .8 .4 .8 .3 .8 .2 .8 .2 .8 .1" fill="none" stroke="#111" stroke-width=".9"/>
<g fill="none" stroke="#000" stroke-linejoin="round" stroke-linecap="round"><path d="M217.7 1065.6l1.6-1.3 1.6 .2 1.6-.2 1.6-.4 1.6 0 1.6 0 1.6 .2 1.6 .4 1.6 .5 1.6-.3 1.6 .4 1.6-.3 1.6-.5 1.6-.6 1.6-1 1.6-1.4 1.6-.4 1.6-1.3 1.6-1.7 1.6-2.5 1.6-4.8 1.6-4.4 1.6-5.4 1.6-3.8 1.6-6 1.6-5.5 1.6-6.2 1.6-5.4 1.6-3.4 1.6-2 1.6-1 1.6-2.9 1.6 .5 1.6-1.4 1.6-.5 1.6-.4 1.6-.4 1.6 .9 1.6 1.6 1.6 1.4 1.6 1.6 1.6 4.6 1.6 5.3 1.6 6.6 1.6 6.1 1.6 4.7 1.6 6.3 1.6 6.1 1.6 6.3 1.6 3.8 1.6 3.9 1.6 2.2 1.6 .7 1.6 1.6 1.6 1.2 1.6 .7 1.6-.8 1.6 .8 1.6-.1 1.6-1 1.6 .5 1.6-.6 1.6 .2 1.6 1.5 1.6 1.2 1.6-.2 1.6-.4 1.6 .6 1.6-.6 1.6-.9 1.6-1.3 1.6 1.3 1.6-1.1 1.6-.9 1.6 .8 1.6 .8 1.6-.2 1.6 1 1.6-.2 1.6 .1" stroke-width="1.7"/><path d="M217.7 1065.6l1.6-1.3 1.6 .2 1.6-.2 1.6-.4 1.6 0 1.6 0 1.6 .2 1.6 .4 1.6 .5 1.6-.3 1.6 .4 1.6-.3 1.6-.5 1.6-.6 1.6-1 1.6-1.4 1.6-.4 1.6-1.3 1.6-1.7 1.6-2.5 1.6-4.8 1.6-4.4 1.6-5.4 1.6-3.8 1.6-6 1.6-5.5 1.6-6.2 1.6-5.4 1.6-3.4 1.6-2 1.6-1 1.6-2.9 1.6 .5 1.6-1.4 1.6-.5 1.6-.4 1.6-.4 1.6 .9 1.6 1.6 1.6 1.4 1.6 1.6 1.6 4.6 1.6 5.3 1.6 6.6 1.6 6.1 1.6 4.7 1.6 6.3 1.6 6.1 1.6 6.3 1.6 3.8 1.6 3.9 1.6 2.2 1.6 .7 1.6 1.6 1.6 1.2 1.6 .7 1.6-.8 1.6 .8 1.6-.1 1.6-1 1.6 .5 1.6-.6 1.6 .2 1.6 1.5 1.6 1.2 1.6-.2 1.6-.4 1.6 .6 1.6-.6 1.6-.9 1.6-1.3 1.6 1.3 1.6-1.1 1.6-.9 1.6 .8 1.6 .8 1.6-.2 1.6 1 1.6-.2 1.6 .1" stroke-width="2.7" stroke-dasharray="0 1.9"/></g>
<path d="M217.7 1221.6l.8 0 .8 0 .8 0 .8 0 .8-.1 .8 0 .8 0 .8 0 .8 0 .8 0 .8 0 .8 0 .8-.1 .8 0 .8 0 .8 0 .8 0 .8 0 .8-.1 .8 0 .8 0 .8 0 .8 0 .8-.1 .8 0 .8 0 .8-.1 .8 0 .8 0 .8 0 .8-.1 .8 0 .8-.1 .8 0 .8 0 .8-.1 .8 0 .8-.1 .8 0 .8-.1 .8-.1 .9 0 .8-.1 .8-.1 .8-.1 .8 0 .8-.1 .8-.1 .8-.1 .8-.2 .8-.1 .8-.1 .8-.2 .8-.2 .8-.2 .8-.2 .8-.3 .8-.4 .8-.4 .8-.5 .8-.7 .8-.9 .8-1.1 .8-1.4 .8-1.8 .8-2.3 .8-2.8 .8-3.4 .8-4.2 .8-4.9 .8-5.7 .8-6.6 .8-7.4 .8-8.2 .8-8.7 .8-9.1 .8-9.2 .8-9.1 .8-8.4 .8-7.4 .8-5.9 .8-3.9 .8-1.7 .8 .8 .8 3.2 .8 5.3 .8 7 .8 8.2 .8 9.1 .8 9.4 .8 9.4 .8 9.2 .8 8.6 .8 7.9 .8 7.1 .8 6.3 .8 5.4 .8 4.7 .8 3.8 .8 3.2 .8 2.5 .8 2.1 .8 1.6 .8 1.3 .8 1 .8 .9 .8 .6 .8 .5 .8 .4 .8 .4 .8 .3 .8 .2 .8 .2 .8 .2 .8 .2 .8 .2 .8 .1 .8 .1 .8 .1 .8 .1 .8 .2 .8 0 .8 .1 .8 .1 .8 .1 .9 .1 .8 0 .8 .1 .8 .1 .8 0 .8 .1 .8 0 .8 .1 .8 0 .8 0 .8 .1 .8 0 .8 .1 .8 0 .8 0 .8 0 .8 .1 .8 0 .8 0 .8 .1 .8 0 .8 0 .8 0 .8 0 .8 .1 .8 0 .8 0 .8 0 .8 0 .8 0 .8 .1 .8 0 .8 0 .8 0 .8 0 .8 0 .8 0 .8 .1 .8 0 .8 0 .8 0 .8 0 0 .4 -133.8-4z" fill="#fbc78c"/>
<path d="M243.3 1221.8l.8-.1 .8-.1 .8-.1 .8-.1 .8-.2 .8-.2 .8-.2 .8-.3 .8-.4 .9-.4 .8-.4 .8-.5 .8-.6 .8-.6 .8-.7 .8-.6 .8-.8 .8-.7 .8-.8 .8-.7 .8-.7 .8-.6 .8-.6 .8-.5 .8-.5 .8-.3 .8-.2 .8-.1 .8 .1 .8 .2 .8 .3 .8 .4 .8 .5 .8 .6 .8 .7 .8 .7 .8 .8 .8 .8 .8 .8 .8 .8 .8 .8 .8 .8 .8 .8 .8 .7 .8 .6 .8 .7 .8 .5 .8 .6 .8 .5 .8 .4 .8 .4 .8 .4 .8 .3 .8 .3 .8 .3 .8 .2 0 .2 -44.9-3z" fill="#f3937e"/>
<path d="M243.3 1221.8l.8-.1 .8-.1 .8-.1 .8-.1 .8-.2 .8-.2 .8-.2 .8-.2 .8-.1 .9 0 .8-.1 .8-.1 .8-.1 .8 0 .8-.1 .8-.1 .8-.1 .8-.2 .8-.1 .8-.1 .8-.2 .8-.2 .8-.2 .8-.2 .8-.3 .8-.4 .8-.4 .8-.5 .8-.7 .8-.9 .8-1.1 .8-1.4 .8-1.7 .8 .6 .8 .7 .8 .7 .8 .8 .8 .8 .8 .8 .8 .8 .8 .8 .8 .8 .8 .8 .8 .7 .8 .6 .8 .7 .8 .5 .8 .6 .8 .5 .8 .4 .8 .4 .8 .4 .8 .3 .8 .3 .8 .3 .8 .2 0 .2 -44.9-3z" fill="#f28a5f"/>
<path d="M217.7 1221.6l.8 0 .8 0 .8 0 .8 0 .8-.1 .8 0 .8 0 .8 0 .8 0 .8 0 .8 0 .8 0 .8-.1 .8 0 .8 0 .8 0 .8 0 .8 0 .8-.1 .8 0 .8 0 .8 0 .8 0 .8-.1 .8 0 .8 0 .8-.1 .8 0 .8 0 .8 0 .8-.1 .8 0 .8-.1 .8 0 .8 0 .8-.1 .8 0 .8-.1 .8 0 .8-.1 .8-.1 .9 0 .8-.1 .8-.1 .8-.1 .8 0 .8-.1 .8-.1 .8-.1 .8-.2 .8-.1 .8-.1 .8-.2 .8-.2 .8-.2 .8-.2 .8-.3 .8-.4 .8-.4 .8-.5 .8-.7 .8-.9 .8-1.1 .8-1.4 .8-1.8 .8-2.3 .8-2.8 .8-3.4 .8-4.2 .8-4.9 .8-5.7 .8-6.6 .8-7.4 .8-8.2 .8-8.7 .8-9.1 .8-9.2 .8-9.1 .8-8.4 .8-7.4 .8-5.9 .8-3.9 .8-1.7 .8 .8 .8 3.2 .8 5.3 .8 7 .8 8.2 .8 9.1 .8 9.4 .8 9.4 .8 9.2 .8 8.6 .8 7.9 .8 7.1 .8 6.3 .8 5.4 .8 4.7 .8 3.8 .8 3.2 .8 2.5 .8 2.1 .8 1.6 .8 1.3 .8 1 .8 .9 .8 .6 .8 .5 .8 .4 .8 .4 .8 .3 .8 .2 .8 .2 .8 .2 .8 .2 .8 .2 .8 .1 .8 .1 .8 .1 .8 .1 .8 .2 .8 0 .8 .1 .8 .1 .8 .1 .9 .1 .8 0 .8 .1 .8 .1 .8 0 .8 .1 .8 0 .8 .1 .8 0 .8 0 .8 .1 .8 0 .8 .1 .8 0 .8 0 .8 0 .8 .1 .8 0 .8 0 .8 .1 .8 0 .8 0 .8 0 .8 0 .8 .1 .8 0 .8 0 .8 0 .8 0 .8 0 .8 .1 .8 0 .8 0 .8 0 .8 0 .8 0 .8 0 .8 .1 .8 0 .8 0 .8 0 .8 0 0 .4 -133.8-4zM243.3 1221.8l.8-.1 .8-.1 .8-.1 .8-.1 .8-.2 .8-.2 .8-.2 .8-.3 .8-.4 .9-.4 .8-.4 .8-.5 .8-.6 .8-.6 .8-.7 .8-.6 .8-.8 .8-.7 .8-.8 .8-.7 .8-.7 .8-.6 .8-.6 .8-.5 .8-.5 .8-.3 .8-.2 .8-.1 .8 .1 .8 .2 .8 .3 .8 .4 .8 .5 .8 .6 .8 .7 .8 .7 .8 .8 .8 .8 .8 .8 .8 .8 .8 .8 .8 .8 .8 .8 .8 .7 .8 .6 .8 .7 .8 .5 .8 .6 .8 .5 .8 .4 .8 .4 .8 .4 .8 .3 .8 .3 .8 .3 .8 .2 0 .2 -44.9-3z" fill="none" stroke="#1a1208" stroke-width="1.1"/>
<path d="M217.7 1221.6l.8 0 .8 0 .8 0 .8 0 .8-.1 .8 0 .8 0 .8 0 .8 0 .8 0 .8 0 .8 0 .8-.1 .8 0 .8 0 .8 0 .8 0 .8 0 .8-.1 .8 0 .8 0 .8 0 .8-.1 .8 0 .8 0 .8-.1 .8 0 .8-.1 .8 0 .8-.1 .8-.1 .8 0 .8-.2 .8-.1 .8-.2 .8-.1 .8-.3 .8-.2 .8-.3 .8-.4 .8-.4 .9-.5 .8-.5 .8-.6 .8-.6 .8-.7 .8-.8 .8-.8 .8-.8 .8-.9 .8-.9 .8-.9 .8-.9 .8-.8 .8-.9 .8-.7 .8-.8 .8-.6 .8-.7 .8-.6 .8-.7 .8-.7 .8-.9 .8-1 .8-1.3 .8-1.7 .8-2.1 .8-2.8 .8-3.4 .8-4.2 .8-5 .8-5.8 .8-6.7 .8-7.4 .8-8.1 .8-8.5 .8-8.7 .8-8.6 .8-8 .8-7 .8-5.5 .8-3.7 .8-1.4 .8 1 .8 3.3 .8 5.4 .8 7.1 .8 8.4 .8 9.1 .8 9.5 .8 9.4 .8 9.2 .8 8.6 .8 8 .8 7.1 .8 6.3 .8 5.4 .8 4.6 .8 3.9 .8 3.2 .8 2.5 .8 2.1 .8 1.6 .8 1.3 .8 1 .8 .9 .8 .6 .8 .5 .8 .4 .8 .4 .8 .3 .8 .2 .8 .2 .8 .2 .8 .2 .8 .2 .8 .1 .8 .1 .8 .1 .8 .1 .8 .2 .8 0 .8 .1 .8 .1 .8 .1 .9 .1 .8 0 .8 .1 .8 .1 .8 0 .8 .1 .8 0 .8 .1 .8 0 .8 0 .8 .1 .8 0 .8 .1 .8 0 .8 0 .8 0 .8 .1 .8 0 .8 0 .8 .1 .8 0 .8 0 .8 0 .8 0 .8 .1 .8 0 .8 0 .8 0 .8 0 .8 0 .8 .1 .8 0 .8 0 .8 0 .8 0 .8 0 .8 0 .8 .1 .8 0 .8 0 .8 0 .8 0" fill="none" stroke="#111" stroke-width=".9"/>
<g fill="none" stroke="#000" stroke-linejoin="round" stroke-linecap="round"><path d="M217.7 1221.3l1.6-.9 1.6 1.5 1.6 1.7 1.6-.9 1.6 .2 1.6 0 1.6-.3 1.6-.1 1.6 .1 1.6-.9 1.6-1.3 1.6-.7 1.6 1.2 1.6 .3 1.6-.2 1.6-1.8 1.6 .4 1.6 .1 1.6-.9 1.6-.8 1.7 1.3 1.6-.7 1.6-1.6 1.6-2.1 1.6-2.5 1.6-2.1 1.6-1 1.6-2.6 1.6-1.3 1.6 .5 1.6-3.3 1.6-2.3 1.6-.7 1.6-5.2 1.6-7.9 1.6-12.2 1.6-15.5 1.6-13.9 1.6-21.2 1.6-12.5 1.6-9.6 1.6 .1 1.6 6.1 1.6 18.5 1.6 19.5 1.6 18.6 1.6 16.7 1.6 11.6 1.6 10.8 1.6 7.7 1.6 4.4 1.6 .3 1.6 3.1 1.6 1.9 1.6 .2 1.6 1.2 1.6 1.6 1.6-.2 1.6 1.1 1.6-.8 1.6-.3 1.6 .6 1.7-.5 1.6-.7 1.6 1.2 1.6 .3 1.6 .6 1.6-.7 1.6 .1 1.6 .6 1.6-.3 1.6 .1 1.6 .3 1.6-.5 1.6 .5 1.6-.9 1.6 .9 1.6 1.8 1.6-.4 1.6-.9 1.6-1.2 1.6-.2 1.6 .5" stroke-width="1.7"/><path d="M217.7 1221.3l1.6-.9 1.6 1.5 1.6 1.7 1.6-.9 1.6 .2 1.6 0 1.6-.3 1.6-.1 1.6 .1 1.6-.9 1.6-1.3 1.6-.7 1.6 1.2 1.6 .3 1.6-.2 1.6-1.8 1.6 .4 1.6 .1 1.6-.9 1.6-.8 1.7 1.3 1.6-.7 1.6-1.6 1.6-2.1 1.6-2.5 1.6-2.1 1.6-1 1.6-2.6 1.6-1.3 1.6 .5 1.6-3.3 1.6-2.3 1.6-.7 1.6-5.2 1.6-7.9 1.6-12.2 1.6-15.5 1.6-13.9 1.6-21.2 1.6-12.5 1.6-9.6 1.6 .1 1.6 6.1 1.6 18.5 1.6 19.5 1.6 18.6 1.6 16.7 1.6 11.6 1.6 10.8 1.6 7.7 1.6 4.4 1.6 .3 1.6 3.1 1.6 1.9 1.6 .2 1.6 1.2 1.6 1.6 1.6-.2 1.6 1.1 1.6-.8 1.6-.3 1.6 .6 1.7-.5 1.6-.7 1.6 1.2 1.6 .3 1.6 .6 1.6-.7 1.6 .1 1.6 .6 1.6-.3 1.6 .1 1.6 .3 1.6-.5 1.6 .5 1.6-.9 1.6 .9 1.6 1.8 1.6-.4 1.6-.9 1.6-1.2 1.6-.2 1.6 .5" stroke-width="2.7" stroke-dasharray="0 1.9"/></g>
<path d="M214.6,919.0 V1231.5 H351.5" fill="none" stroke="#4a4a4a" stroke-width="1.5"/>
<line x1="238.1" y1="1231.5" x2="238.1" y2="1238.5" stroke="#4a4a4a" stroke-width="1.3"/>
<text x="238.1" y="1252.8" font-size="11.1" font-weight="normal" fill="#2a2a2a" text-anchor="middle"  stroke="#2a2a2a" stroke-width=".3">536</text>
<line x1="269.5" y1="1231.5" x2="269.5" y2="1238.5" stroke="#4a4a4a" stroke-width="1.3"/>
<text x="269.5" y="1252.8" font-size="11.1" font-weight="normal" fill="#2a2a2a" text-anchor="middle"  stroke="#2a2a2a" stroke-width=".3">533</text>
<line x1="300.6" y1="1231.5" x2="300.6" y2="1238.5" stroke="#4a4a4a" stroke-width="1.3"/>
<text x="300.6" y="1252.8" font-size="11.1" font-weight="normal" fill="#2a2a2a" text-anchor="middle"  stroke="#2a2a2a" stroke-width=".3">530</text>
<line x1="331.7" y1="1231.5" x2="331.7" y2="1238.5" stroke="#4a4a4a" stroke-width="1.3"/>
<text x="331.7" y="1252.8" font-size="11.1" font-weight="normal" fill="#2a2a2a" text-anchor="middle"  stroke="#2a2a2a" stroke-width=".3">527</text>
<text x="286.5" y="1265.6" font-size="11.0" font-weight="normal" fill="#383838" text-anchor="middle"  stroke="#383838" stroke-width=".3">Binding Energy / eV</text>
<text x="218.9" y="929.6" font-size="12.0" font-weight="bold" fill="#111" text-anchor="start" >O1s</text>
<text x="218.9" y="981.5" font-size="10.8" font-weight="normal" fill="#1e1e1e" text-anchor="start"  stroke="#1e1e1e" stroke-width=".3">680 eV</text>
<text x="218.9" y="992.9" font-size="10.8" font-weight="normal" fill="#1e1e1e" text-anchor="start"  stroke="#1e1e1e" stroke-width=".3">2 nm</text>
<text x="218.9" y="1155.6" font-size="10.8" font-weight="normal" fill="#1e1e1e" text-anchor="start"  stroke="#1e1e1e" stroke-width=".3">6900 eV</text>
<text x="218.9" y="1167.0" font-size="10.8" font-weight="normal" fill="#1e1e1e" text-anchor="start"  stroke="#1e1e1e" stroke-width=".3">46 nm</text>
<text x="276.2" y="985.1" font-size="10.6" font-weight="normal" fill="#444" text-anchor="start"  stroke="#444" stroke-width=".3">PO<tspan font-size="7.5" dy="2.5">4</tspan><tspan font-size="7.5" dy="-6.5">3-</tspan></text>
<path d="M398.8 1065.1l.8-.2 .8-.2 .8-.3 .8-.4 .8-.5 .8-.7 .8-.8 .8-.8 .8-.8 .8-.8 .8-.6 .8-.5 .8-.1 .8 .1 .8 .3 .8 .6 .8 .8 .8 .8 .8 .8 .8 .8 .8 .7 .8 .6 .8 .5 .8 .3 .8 .3 .8 .1 0 .3 -20.8-.1z" fill="#f07c9c"/>
<path d="M418.8 1065.2l.8-.1 .8-.2 .8-.2 .8-.3 .8-.5 .8-.6 .7-.8 .8-1 .8-1.2 .8-1.6 .8-1.9 .8-2.3 .8-2.6 .8-3 .8-3.2 .8-3.6 .8-3.6 .8-3.8 .8-3.6 .8-3.4 .8-3.1 .8-2.6 .8-1.9 .8-1.2 .8-.4 .8 .4 .8 1.2 .8 1.9 .8 2.6 .8 3.1 .8 3.5 .8 3.7 .8 3.8 .8 3.7 .8 3.7 .8 3.3 .8 3.1 .8 2.7 .8 2.4 .8 2 .8 1.6 .8 1.4 .8 1 .8 .9 .8 .6 .8 .5 .8 .3 .8 .3 .8 .2 .8 .1 0 .2 -39.9-1.3z" fill="#e97c8a"/>
<path d="M429.1 1065.3l.8-.1 .8 0 .8-.1 .8 0 .8-.1 .8-.1 .8-.1 .8-.2 .8-.2 .8-.2 .8-.2 .8-.3 .8-.3 .8-.3 .8-.3 .8-.4 .8-.5 .8-.4 .8-.5 .8-.4 .8-.5 .8-.5 .8-.4 .8-.4 .8-.4 .8-.4 .8-.3 .8-.2 .8-.2 .8-.1 .8 0 .8 0 .8 .1 .8 .2 .8 .3 .8 .3 .8 .4 .8 .4 .8 .4 .8 .5 .8 .5 .8 .5 .8 .5 .8 .6 .8 .5 .8 .4 .8 .5 .8 .4 .8 .4 .8 .4 .8 .3 .8 .3 .8 .3 .8 .2 .8 .3 .8 .1 .8 .2 .8 .2 .8 .1 .8 .1 .8 .1 .8 .1 0 .2 -49.6-1.5z" fill="#c894d0"/>
<path d="M465.1 1066.5l.8-.1 .8-.2 .8-.2 .8-.4 .8-.5 .8-.7 .8-1 .8-1.2 .8-1.5 .8-1.9 .8-2.4 .8-2.8 .8-3.3 .8-3.7 .8-4.3 .8-4.6 .8-4.9 .8-5 .8-5.1 .8-4.9 .8-4.6 .8-4 .8-3.3 .8-2.5 .8-1.4 .8-.3 .8 .7 .8 1.8 .8 2.8 .8 3.6 .8 4.3 .8 4.8 .8 5.1 .8 5.2 .8 5.2 .8 5 .8 4.6 .8 4.3 .8 3.7 .8 3.3 .8 2.9 .8 2.3 .8 2 .8 1.5 .8 1.3 .8 1 .8 .7 .8 .6 .8 .4 .8 .3 .8 .3 .8 .1 0 .3 -41.6-3z" fill="#c37896"/>
<path d="M482.7 1067.1l.8-.1 .8-.2 .8-.3 .8-.6 .8-.8 .8-1.1 .8-1.7 .8-2.1 .8-2.9 .8-3.6 .8-4.3 .8-5.2 .8-6 .8-6.5 .8-7 .8-7 .8-6.9 .8-6.3 .8-5.3 .8-4 .8-2.4 .8-.6 .8 1.1 .8 2.9 .8 4.4 .8 5.7 .8 6.6 .8 7 .8 7.2 .8 7.1 .8 6.5 .8 6 .8 5.1 .8 4.3 .8 3.6 .8 2.8 .8 2.1 .8 1.7 .8 1.1 .8 .9 .8 .6 .8 .3 .7 .3 .8 .2 0 .2 -35.1-2.6z" fill="#968fd7"/>
<path d="M429.1 1065.3l.8-.1 .8 0 .8-.1 .8 0 .8-.1 .8-.1 .8-.1 .8-.2 .8-.2 .8-.2 .8-.2 .8-.3 .8-.3 .8-.3 .8-.3 .8-.4 .8-.5 .8-.4 .8-.5 .8-.4 .8-.5 .8-.5 .8-.4 .8-.4 .8-.4 .8-.4 .8 1.6 .8 1.6 .8 1.4 .8 1 .8 .9 .8 .6 .8 .5 .8 .3 .8 .3 .8 .2 .8 .1 0 .2 -29.6-1.2z" fill="#c46289"/>
<path d="M465.1 1066.5l.8-.1 .8-.2 .8-.2 .8-.4 .8-.5 .8-.3 .8 .3 .8 .3 .8 .2 .8 .3 .8 .1 .8 .2 .8 .2 .8 .1 .8 .1 .8 .1 .8 .1 0 .2 -13.6-.2z" fill="#ab5f91"/>
<path d="M482.7 1067.1l.8-.1 .8-.2 .8-.3 .8-.6 .8-.8 .8-1.1 .8-1.7 .8-2.1 .8-2.9 .8-3.6 .8-4.3 .8-5.2 .8-6 .8 2 .8 4.6 .8 4.3 .8 3.7 .8 3.3 .8 2.9 .8 2.3 .8 2 .8 1.5 .8 1.3 .8 1 .8 .7 .8 .6 .8 .4 .8 .3 .8 .3 .8 .1 0 .3 -24-2.5z" fill="#8a5d95"/>
<path d="M398.8 1065.1l.8-.2 .8-.2 .8-.3 .8-.4 .8-.5 .8-.7 .8-.8 .8-.8 .8-.8 .8-.8 .8-.6 .8-.5 .8-.1 .8 .1 .8 .3 .8 .6 .8 .8 .8 .8 .8 .8 .8 .8 .8 .7 .8 .6 .8 .5 .8 .3 .8 .3 .8 .1 0 .3 -20.8-.1zM418.8 1065.2l.8-.1 .8-.2 .8-.2 .8-.3 .8-.5 .8-.6 .7-.8 .8-1 .8-1.2 .8-1.6 .8-1.9 .8-2.3 .8-2.6 .8-3 .8-3.2 .8-3.6 .8-3.6 .8-3.8 .8-3.6 .8-3.4 .8-3.1 .8-2.6 .8-1.9 .8-1.2 .8-.4 .8 .4 .8 1.2 .8 1.9 .8 2.6 .8 3.1 .8 3.5 .8 3.7 .8 3.8 .8 3.7 .8 3.7 .8 3.3 .8 3.1 .8 2.7 .8 2.4 .8 2 .8 1.6 .8 1.4 .8 1 .8 .9 .8 .6 .8 .5 .8 .3 .8 .3 .8 .2 .8 .1 0 .2 -39.9-1.3zM429.1 1065.3l.8-.1 .8 0 .8-.1 .8 0 .8-.1 .8-.1 .8-.1 .8-.2 .8-.2 .8-.2 .8-.2 .8-.3 .8-.3 .8-.3 .8-.3 .8-.4 .8-.5 .8-.4 .8-.5 .8-.4 .8-.5 .8-.5 .8-.4 .8-.4 .8-.4 .8-.4 .8-.3 .8-.2 .8-.2 .8-.1 .8 0 .8 0 .8 .1 .8 .2 .8 .3 .8 .3 .8 .4 .8 .4 .8 .4 .8 .5 .8 .5 .8 .5 .8 .5 .8 .6 .8 .5 .8 .4 .8 .5 .8 .4 .8 .4 .8 .4 .8 .3 .8 .3 .8 .3 .8 .2 .8 .3 .8 .1 .8 .2 .8 .2 .8 .1 .8 .1 .8 .1 .8 .1 0 .2 -49.6-1.5zM465.1 1066.5l.8-.1 .8-.2 .8-.2 .8-.4 .8-.5 .8-.7 .8-1 .8-1.2 .8-1.5 .8-1.9 .8-2.4 .8-2.8 .8-3.3 .8-3.7 .8-4.3 .8-4.6 .8-4.9 .8-5 .8-5.1 .8-4.9 .8-4.6 .8-4 .8-3.3 .8-2.5 .8-1.4 .8-.3 .8 .7 .8 1.8 .8 2.8 .8 3.6 .8 4.3 .8 4.8 .8 5.1 .8 5.2 .8 5.2 .8 5 .8 4.6 .8 4.3 .8 3.7 .8 3.3 .8 2.9 .8 2.3 .8 2 .8 1.5 .8 1.3 .8 1 .8 .7 .8 .6 .8 .4 .8 .3 .8 .3 .8 .1 0 .3 -41.6-3zM482.7 1067.1l.8-.1 .8-.2 .8-.3 .8-.6 .8-.8 .8-1.1 .8-1.7 .8-2.1 .8-2.9 .8-3.6 .8-4.3 .8-5.2 .8-6 .8-6.5 .8-7 .8-7 .8-6.9 .8-6.3 .8-5.3 .8-4 .8-2.4 .8-.6 .8 1.1 .8 2.9 .8 4.4 .8 5.7 .8 6.6 .8 7 .8 7.2 .8 7.1 .8 6.5 .8 6 .8 5.1 .8 4.3 .8 3.6 .8 2.8 .8 2.1 .8 1.7 .8 1.1 .8 .9 .8 .6 .8 .3 .7 .3 .8 .2 0 .2 -35.1-2.6z" fill="none" stroke="#1a1208" stroke-width="1.1"/>
<path d="M399.6 1064.9l.8-.2 .8-.3 .8-.4 .8-.5 .8-.7 .8-.8 .8-.8 .8-.8 .8-.8 .8-.6 .8-.5 .8-.1 .8 .1 .8 .3 .8 .6 .8 .8 .8 .8 .8 .8 .8 .8 .8 .7 .8 .6 .8 .4 .8 .3 .8 .2 .8 0 .8 0 .8-.2 .8-.3 .8-.4 .8-.6 .7-.8 .8-1 .8-1.3 .8-1.6 .8-1.9 .8-2.3 .8-2.7 .8-3 .8-3.4 .8-3.6 .8-3.8 .8-3.8 .8-3.8 .8-3.6 .8-3.3 .8-2.7 .8-2.2 .8-1.5 .8-.8 .8 .1 .8 .8 .8 1.5 .8 2.1 .8 2.6 .8 3 .8 3.2 .8 3.3 .8 3.3 .8 3.1 .8 2.9 .8 2.6 .8 2.3 .8 2 .8 1.7 .8 1.4 .8 1.1 .8 1 .8 .8 .8 .6 .8 .6 .8 .5 .8 .5 .8 .5 .8 .5 .8 .5 .8 .5 .8 .5 .8 .5 .8 .5 .8 .5 .8 .5 .8 .4 .8 .4 .8 .2 .8 .2 .8 0 .8-.2 .8-.3 .8-.7 .8-.9 .8-1.3 .8-1.7 .8-2.2 .8-2.7 .8-3.1 .8-3.7 .8-4.1 .8-4.5 .8-4.9 .8-5 .8-5.1 .8-4.9 .8-4.6 .8-4.2 .8-3.4 .8-2.7 .8-1.8 .8-1 .8-.1 .8 .5 .8 1.1 .8 1.4 .8 1.4 .8 1.1 .8 .7 .8-.1 .8-.8 .8-1.7 .8-2.4 .8-2.9 .8-3.1 .8-3.1 .8-2.6 .8-1.7 .8-.6 .8 .9 .8 2.3 .8 3.7 .8 5.1 .8 6.2 .8 6.9 .8 7.3 .8 7.4 .8 7.1 .8 6.7 .8 6 .8 5.1 .8 4.4 .8 3.6 .8 2.8 .8 2.1 .8 1.7 .8 1.1 .8 .9 .8 .6 .8 .3 .7 .3" fill="none" stroke="#111" stroke-width=".9"/>
<g fill="none" stroke="#000" stroke-linejoin="round" stroke-linecap="round"><path d="M378 1064.8l1.6 .8 1.6-.1 1.6-.3 1.6 .4 1.6-.5 1.6 .8 1.6-.1 1.6-.3 1.6 .1 1.6-.5 1.6 .3 1.6 .2 1.6 0 1.6-.5 1.6-1.3 1.6-.9 1.6-2.2 1.6-1.2 1.6-1.2 1.6-.3 1.6 1.6 1.6 2.3 1.6 1.7 1.6 .6 1.6 .4 1.6-.1 1.6-.2 1.6-.5 1.5-1.1 1.6-2.6 1.6-3.4 1.6-5.5 1.6-6.3 1.6-6.4 1.6-7.2 1.6-7.1 1.6-5.3 1.6-2.3 1.6 .3 1.6 3.1 1.6 6.3 1.6 5.9 1.6 7 1.6 4.9 1.6 4.6 1.6 4 1.6 2.1 1.6 1.1 1.6 1.1 1.6 .2 1.6 1.7 1.6 .6 1.6 .8 1.6 .9 1.6 1.1 1.6 .2 1.6-.2 1.6-.6 1.6-2.1 1.6-3.4 1.6-5.8 1.6-7.5 1.6-10.5 1.6-9.9 1.6-9.2 1.6-7.2 1.6-5.1 1.6-.8 1.6 2.1 1.6 1.7 1.6 1.4 1.6-1.1 1.6-3.4 1.6-6.8 1.6-5.1 1.6-2.4 1.6 2.7 1.6 8.1 1.6 15.4 1.6 15.1 1.6 13.7 1.6 9.9 1.6 8.4 1.6 4.7 1.6 2.4 1.6 1.5 1.5 .7 1.6 .9 1.6 0 1.6-.1 1.6 .1 1.6 0 1.6-.5 1.6 .5 1.6 0 1.6 .2 1.6 .3 1.6-.5 1.6 .6 1.6-.5 1.6-.3 1.6-.6 1.6 .7 1.6-.1 1.6-.2 1.6 0 1.6 .3 1.6 .3 1.6 0 1.6-.3 1.6-.3 1.6-.4 1.6 .1 1.6 .4 1.6 0" stroke-width="1.7"/><path d="M378 1064.8l1.6 .8 1.6-.1 1.6-.3 1.6 .4 1.6-.5 1.6 .8 1.6-.1 1.6-.3 1.6 .1 1.6-.5 1.6 .3 1.6 .2 1.6 0 1.6-.5 1.6-1.3 1.6-.9 1.6-2.2 1.6-1.2 1.6-1.2 1.6-.3 1.6 1.6 1.6 2.3 1.6 1.7 1.6 .6 1.6 .4 1.6-.1 1.6-.2 1.6-.5 1.5-1.1 1.6-2.6 1.6-3.4 1.6-5.5 1.6-6.3 1.6-6.4 1.6-7.2 1.6-7.1 1.6-5.3 1.6-2.3 1.6 .3 1.6 3.1 1.6 6.3 1.6 5.9 1.6 7 1.6 4.9 1.6 4.6 1.6 4 1.6 2.1 1.6 1.1 1.6 1.1 1.6 .2 1.6 1.7 1.6 .6 1.6 .8 1.6 .9 1.6 1.1 1.6 .2 1.6-.2 1.6-.6 1.6-2.1 1.6-3.4 1.6-5.8 1.6-7.5 1.6-10.5 1.6-9.9 1.6-9.2 1.6-7.2 1.6-5.1 1.6-.8 1.6 2.1 1.6 1.7 1.6 1.4 1.6-1.1 1.6-3.4 1.6-6.8 1.6-5.1 1.6-2.4 1.6 2.7 1.6 8.1 1.6 15.4 1.6 15.1 1.6 13.7 1.6 9.9 1.6 8.4 1.6 4.7 1.6 2.4 1.6 1.5 1.5 .7 1.6 .9 1.6 0 1.6-.1 1.6 .1 1.6 0 1.6-.5 1.6 .5 1.6 0 1.6 .2 1.6 .3 1.6-.5 1.6 .6 1.6-.5 1.6-.3 1.6-.6 1.6 .7 1.6-.1 1.6-.2 1.6 0 1.6 .3 1.6 .3 1.6 0 1.6-.3 1.6-.3 1.6-.4 1.6 .1 1.6 .4 1.6 0" stroke-width="2.7" stroke-dasharray="0 1.9"/></g>
<path d="M417.2 1220l.8-.1 .8-.1 .8-.2 .8-.2 .8-.3 .8-.4 .8-.4 .8-.6 .7-.6 .8-.8 .8-1 .8-1 .8-1.2 .8-1.4 .8-1.4 .8-1.6 .8-1.6 .8-1.6 .8-1.6 .8-1.5 .8-1.3 .8-1.2 .8-1 .8-.7 .8-.4 .8-.1 .8 .2 .8 .5 .8 .8 .8 1.1 .8 1.3 .8 1.5 .8 1.5 .8 1.7 .8 1.7 .8 1.6 .8 1.6 .8 1.5 .8 1.3 .8 1.3 .8 1.1 .8 .9 .8 .8 .8 .7 .8 .6 .8 .4 .8 .4 .8 .3 .8 .2 .8 .2 .8 .1 .8 .1 0 .3 -41.5-1.2z" fill="#f07c9c"/>
<path d="M434.7 1220.3l.8 0 .8-.1 .8 0 .8-.1 .8-.1 .8-.2 .8-.1 .8-.2 .8-.3 .8-.2 .8-.3 .8-.4 .8-.3 .8-.4 .8-.5 .8-.4 .8-.4 .8-.4 .8-.4 .8-.4 .8-.4 .8-.3 .8-.2 .8-.2 .8-.2 .8 0 .8 0 .8 .1 .8 .2 .8 .2 .8 .3 .8 .4 .8 .4 .8 .4 .8 .4 .8 .5 .8 .5 .8 .4 .8 .5 .8 .4 .8 .4 .8 .4 .8 .3 .8 .3 .8 .3 .8 .2 .8 .2 .8 .2 .8 .2 .8 .1 .8 .2 .8 .1 .8 .1 0 .2 -42.4-1.2z" fill="#e97c8a"/>
<path d="M461.9 1221.2l.8-.1 .8-.1 .8-.1 .8-.2 .8-.3 .8-.4 .8-.4 .8-.6 .8-.7 .8-.9 .8-1 .8-1.3 .8-1.4 .8-1.7 .8-1.8 .8-2.1 .8-2.3 .8-2.4 .8-2.6 .8-2.6 .8-2.7 .8-2.5 .8-2.5 .8-2.3 .8-1.9 .8-1.7 .8-1.2 .8-.8 .8-.3 .8 .2 .8 .7 .8 1.1 .8 1.6 .8 1.9 .8 2.3 .8 2.5 .8 2.6 .8 2.8 .8 2.8 .8 2.8 .8 2.6 .8 2.6 .8 2.4 .8 2.1 .8 2 .8 1.8 .8 1.6 .8 1.4 .8 1.1 .8 1 .8 .9 .8 .7 .8 .5 .8 .5 .8 .3 .8 .3 .8 .2 .8 .2 0 .3 -46.4-4.7z" fill="#c27896"/>
<path d="M445.1 1220.8l.8 .1 .8 0 .8 0 .8 0 .8 0 .8 0 .8 0 .8 .1 .8 0 .8 0 .8 0 .8 0 .8 0 .8 0 .8 0 .8 0 .8 0 .8 0 .8 0 .8 0 .8 0 .8 0 .8 0 .8 0 .8-.1 .8 0 .8 0 .8 0 .8 0 .8 0 .8-.1 .8 0 .8 0 .8 0 .8 0 .8-.1 .8 0 .8 0 .8 0 .8-.1 .8 0 .8 0 .8-.1 .8 0 .8-.1 .8-.1 .8-.1 .8-.2 .8-.3 .8-.5 .8-.6 .8-.9 .8-1.4 .8-1.9 .8-2.6 .8-3.5 .8-4.5 .8-5.8 .8-7.1 .8-8.5 .8-9.8 .8-10.9 .8-11.6 .8-11.8 .8-11.5 .8-10.3 .8-8.4 .8-5.7 .8-2.6 .8 1 .8 4.3 .8 7.4 .8 9.6 .8 11.2 .8 12 .8 12.1 .8 11.6 .8 10.6 .8 9.5 .8 8 .8 6.7 .8 5.4 .8 4.2 .8 3.2 .8 2.4 .8 1.7 .8 1.2 .8 .9 .8 .6 .7 .5 .8 .3 .8 .2 .8 .2 .8 .2 .8 .1 .8 .1 .8 .1 .8 .1 .8 0 .8 .1 .8 0 .8 .1 .8 .1 .8 0 .8 0 .8 .1 .8 0 .8 0 .8 .1 .8 0 .8 0 .8 .1 .8 0 .8 0 .8 0 .8 0 .8 .1 .8 0 .8 0 .8 0 .8 0 .8 0 .8 .1 .8 0 .8 0 .8 0 .8 0 .8 0 .8 0 .8 0 .8 0 .8 0 .8 .1 .8 0 .8 0 .8 0 .8 0 .8 0 0 .2 -110.3-5.3z" fill="#9478c8"/>
<path d="M434.7 1220.3l.8 0 .8-.1 .8 0 .8-.1 .8-.1 .8-.2 .8-.1 .8-.2 .8-.3 .8-.2 .8-.3 .8-.4 .8-.3 .8-.4 .8-.5 .8-.4 .8-.4 .8-.4 .8 .5 .8 .9 .8 .8 .8 .7 .8 .6 .8 .4 .8 .4 .8 .3 .8 .2 .8 .2 .8 .1 .8 .1 0 .3 -24-.9z" fill="#e2566d"/>
<path d="M461.9 1221.2l.8-.1 .8-.1 .8-.1 .8-.2 .8-.3 .8-.4 .8-.4 .8-.3 .8 .3 .8 .3 .8 .3 .8 .2 .8 .2 .8 .2 .8 .2 .8 .1 .8 .2 .8 .1 .8 .1 0 .2 -15.2-.3z" fill="#c0546a"/>
<path d="M461.9 1221.2l.8-.1 .8-.1 .8 0 .8-.1 .8 0 .8 0 .8 0 .8 0 .8 0 .8-.1 .8 0 .8 0 .8 0 .8 0 .8-.1 .8 0 .8 0 .8 0 .8-.1 .8 0 .8 0 .8-.1 .8 0 .8-.1 .8-.1 .8-.1 .8-.2 .8-.3 .8-.5 .8-.6 .8-.9 .8-1.4 .8-1.9 .8-2.6 .8-3.5 .8-4.5 .8-5.8 .8 0 .8 2.8 .8 2.8 .8 2.6 .8 2.6 .8 2.4 .8 2.1 .8 2 .8 1.8 .8 1.6 .8 1.4 .8 1.1 .8 1 .8 .9 .8 .7 .8 .5 .8 .5 .8 .3 .8 .3 .8 .2 .8 .2 0 .3 -46.4-4.7z" fill="#88528d"/>
<path d="M417.2 1220l.8-.1 .8-.1 .8-.2 .8-.2 .8-.3 .8-.4 .8-.4 .8-.6 .7-.6 .8-.8 .8-1 .8-1 .8-1.2 .8-1.4 .8-1.4 .8-1.6 .8-1.6 .8-1.6 .8-1.6 .8-1.5 .8-1.3 .8-1.2 .8-1 .8-.7 .8-.4 .8-.1 .8 .2 .8 .5 .8 .8 .8 1.1 .8 1.3 .8 1.5 .8 1.5 .8 1.7 .8 1.7 .8 1.6 .8 1.6 .8 1.5 .8 1.3 .8 1.3 .8 1.1 .8 .9 .8 .8 .8 .7 .8 .6 .8 .4 .8 .4 .8 .3 .8 .2 .8 .2 .8 .1 .8 .1 0 .3 -41.5-1.2zM434.7 1220.3l.8 0 .8-.1 .8 0 .8-.1 .8-.1 .8-.2 .8-.1 .8-.2 .8-.3 .8-.2 .8-.3 .8-.4 .8-.3 .8-.4 .8-.5 .8-.4 .8-.4 .8-.4 .8-.4 .8-.4 .8-.4 .8-.3 .8-.2 .8-.2 .8-.2 .8 0 .8 0 .8 .1 .8 .2 .8 .2 .8 .3 .8 .4 .8 .4 .8 .4 .8 .4 .8 .5 .8 .5 .8 .4 .8 .5 .8 .4 .8 .4 .8 .4 .8 .3 .8 .3 .8 .3 .8 .2 .8 .2 .8 .2 .8 .2 .8 .1 .8 .2 .8 .1 .8 .1 0 .2 -42.4-1.2zM461.9 1221.2l.8-.1 .8-.1 .8-.1 .8-.2 .8-.3 .8-.4 .8-.4 .8-.6 .8-.7 .8-.9 .8-1 .8-1.3 .8-1.4 .8-1.7 .8-1.8 .8-2.1 .8-2.3 .8-2.4 .8-2.6 .8-2.6 .8-2.7 .8-2.5 .8-2.5 .8-2.3 .8-1.9 .8-1.7 .8-1.2 .8-.8 .8-.3 .8 .2 .8 .7 .8 1.1 .8 1.6 .8 1.9 .8 2.3 .8 2.5 .8 2.6 .8 2.8 .8 2.8 .8 2.8 .8 2.6 .8 2.6 .8 2.4 .8 2.1 .8 2 .8 1.8 .8 1.6 .8 1.4 .8 1.1 .8 1 .8 .9 .8 .7 .8 .5 .8 .5 .8 .3 .8 .3 .8 .2 .8 .2 0 .3 -46.4-4.7zM445.1 1220.8l.8 .1 .8 0 .8 0 .8 0 .8 0 .8 0 .8 0 .8 .1 .8 0 .8 0 .8 0 .8 0 .8 0 .8 0 .8 0 .8 0 .8 0 .8 0 .8 0 .8 0 .8 0 .8 0 .8 0 .8 0 .8-.1 .8 0 .8 0 .8 0 .8 0 .8 0 .8-.1 .8 0 .8 0 .8 0 .8 0 .8-.1 .8 0 .8 0 .8 0 .8-.1 .8 0 .8 0 .8-.1 .8 0 .8-.1 .8-.1 .8-.1 .8-.2 .8-.3 .8-.5 .8-.6 .8-.9 .8-1.4 .8-1.9 .8-2.6 .8-3.5 .8-4.5 .8-5.8 .8-7.1 .8-8.5 .8-9.8 .8-10.9 .8-11.6 .8-11.8 .8-11.5 .8-10.3 .8-8.4 .8-5.7 .8-2.6 .8 1 .8 4.3 .8 7.4 .8 9.6 .8 11.2 .8 12 .8 12.1 .8 11.6 .8 10.6 .8 9.5 .8 8 .8 6.7 .8 5.4 .8 4.2 .8 3.2 .8 2.4 .8 1.7 .8 1.2 .8 .9 .8 .6 .7 .5 .8 .3 .8 .2 .8 .2 .8 .2 .8 .1 .8 .1 .8 .1 .8 .1 .8 0 .8 .1 .8 0 .8 .1 .8 .1 .8 0 .8 0 .8 .1 .8 0 .8 0 .8 .1 .8 0 .8 0 .8 .1 .8 0 .8 0 .8 0 .8 0 .8 .1 .8 0 .8 0 .8 0 .8 0 .8 0 .8 .1 .8 0 .8 0 .8 0 .8 0 .8 0 .8 0 .8 0 .8 0 .8 0 .8 .1 .8 0 .8 0 .8 0 .8 0 .8 0 0 .2 -110.3-5.3z" fill="none" stroke="#1a1208" stroke-width="1.1"/>
<path d="M416.4 1219.9l.8-.1 .8-.1 .8-.2 .8-.2 .8-.3 .8-.3 .8-.5 .8-.5 .8-.6 .7-.8 .8-.9 .8-1.1 .8-1.2 .8-1.3 .8-1.5 .8-1.6 .8-1.7 .8-1.8 .8-1.8 .8-1.8 .8-1.7 .8-1.5 .8-1.4 .8-1.2 .8-.9 .8-.6 .8-.3 .8 0 .8 .3 .8 .6 .8 .9 .8 1 .8 1.2 .8 1.4 .8 1.3 .8 1.4 .8 1.4 .8 1.3 .8 1.1 .8 1.1 .8 .9 .8 .9 .8 .7 .8 .5 .8 .5 .8 .5 .8 .3 .8 .4 .8 .3 .8 .3 .8 .4 .8 .3 .8 .4 .8 .3 .8 .4 .8 .4 .8 .4 .8 .4 .8 .3 .8 .3 .8 .2 .8 .2 .8 0 .8-.1 .8-.3 .8-.5 .8-.6 .8-.9 .8-1.1 .8-1.4 .8-1.6 .8-1.9 .8-2.1 .8-2.3 .8-2.5 .8-2.7 .8-2.8 .8-2.8 .8-2.7 .8-2.6 .8-2.5 .8-2.2 .8-1.9 .8-1.5 .8-1.2 .8-.8 .8-.6 .8-.3 .8-.2 .8-.4 .8-.7 .8-1.3 .8-2 .8-3.2 .8-4.3 .8-5.7 .8-7.1 .8-8.2 .8-9.1 .8-9.5 .8-9.3 .8-8.4 .8-6.8 .8-4.3 .8-1.3 .8 2 .8 5.3 .8 8 .8 10.2 .8 11.7 .8 12.4 .8 12.3 .8 11.8 .8 10.8 .8 9.6 .8 8.2 .8 6.7 .8 5.5 .8 4.2 .8 3.2 .8 2.4 .8 1.8 .8 1.2 .8 .9 .8 .6 .7 .5 .8 .3 .8 .2 .8 .2 .8 .2 .8 .1 .8 .1 .8 .1 .8 0 .8 .1 .8 .1 .8 0 .8 .1 .8 .1 .8 0 .8 0 .8 .1 .8 0 .8 0 .8 .1 .8 0 .8 0 .8 .1 .8 0 .8 0 .8 0 .8 0 .8 .1 .8 0 .8 0 .8 0 .8 0 .8 0 .8 .1 .8 0 .8 0" fill="none" stroke="#111" stroke-width=".9"/>
<g fill="none" stroke="#000" stroke-linejoin="round" stroke-linecap="round"><path d="M378 1220.2l1.6-.4 1.6 .4 1.6 .7 1.6 .5 1.6-.4 1.6-.4 1.6-.4 1.6-.3 1.6-.5 1.6-.5 1.6-.3 1.6 1.4 1.6 0 1.6 .6 1.6-1.1 1.6 .5 1.6 0 1.6 .5 1.6-.4 1.6 .5 1.6 .3 1.6 .3 1.6-1.9 1.6-.5 1.6 1.2 1.6 1 1.6-1.2 1.6-1.8 1.5-.7 1.6-2.4 1.6-2.7 1.6-2.3 1.6-4.1 1.6-5.4 1.6-3.2 1.6-1.3 1.6-2.4 1.6 .5 1.6 .4 1.6 2.7 1.6 1.9 1.6 3.8 1.6 1.9 1.6 1.4 1.6 2.7 1.6 1.5 1.6 .9 1.6-.6 1.6 .9 1.6 1.9 1.6 .7 1.6-.3 1.6 2.1 1.6 .6 1.6 0 1.6-.5 1.6-.7 1.6-1.1 1.6-4.5 1.6-2.8 1.6-5 1.6-3.9 1.6-5.3 1.6-5.3 1.6-4.3 1.6-1.9 1.6-1.1 1.6-3.7 1.6 1.2 1.6-2.8 1.6-7.6 1.6-7.8 1.6-16.7 1.6-19.1 1.6-15.9 1.6-11.7 1.6 .9 1.6 14.8 1.6 21.4 1.6 20.9 1.6 23.6 1.6 17.3 1.6 12.2 1.6 7.5 1.6 5.3 1.6 2.6 1.5 1.1 1.6 1.4 1.6 .1 1.6-.1 1.6 .8 1.6 .1 1.6-.1 1.6 .6 1.6 0 1.6-.2 1.6-.2 1.6-.4 1.6-.4 1.6 1.8 1.6-.4 1.6-1.7 1.6 .6 1.6-.1 1.6-.3 1.6 .3 1.6 .5 1.6 .7 1.6-.4 1.6-.2 1.6 .4 1.6-1.5 1.6-.3 1.6 0 1.6 1.5" stroke-width="1.7"/><path d="M378 1220.2l1.6-.4 1.6 .4 1.6 .7 1.6 .5 1.6-.4 1.6-.4 1.6-.4 1.6-.3 1.6-.5 1.6-.5 1.6-.3 1.6 1.4 1.6 0 1.6 .6 1.6-1.1 1.6 .5 1.6 0 1.6 .5 1.6-.4 1.6 .5 1.6 .3 1.6 .3 1.6-1.9 1.6-.5 1.6 1.2 1.6 1 1.6-1.2 1.6-1.8 1.5-.7 1.6-2.4 1.6-2.7 1.6-2.3 1.6-4.1 1.6-5.4 1.6-3.2 1.6-1.3 1.6-2.4 1.6 .5 1.6 .4 1.6 2.7 1.6 1.9 1.6 3.8 1.6 1.9 1.6 1.4 1.6 2.7 1.6 1.5 1.6 .9 1.6-.6 1.6 .9 1.6 1.9 1.6 .7 1.6-.3 1.6 2.1 1.6 .6 1.6 0 1.6-.5 1.6-.7 1.6-1.1 1.6-4.5 1.6-2.8 1.6-5 1.6-3.9 1.6-5.3 1.6-5.3 1.6-4.3 1.6-1.9 1.6-1.1 1.6-3.7 1.6 1.2 1.6-2.8 1.6-7.6 1.6-7.8 1.6-16.7 1.6-19.1 1.6-15.9 1.6-11.7 1.6 .9 1.6 14.8 1.6 21.4 1.6 20.9 1.6 23.6 1.6 17.3 1.6 12.2 1.6 7.5 1.6 5.3 1.6 2.6 1.5 1.1 1.6 1.4 1.6 .1 1.6-.1 1.6 .8 1.6 .1 1.6-.1 1.6 .6 1.6 0 1.6-.2 1.6-.2 1.6-.4 1.6-.4 1.6 1.8 1.6-.4 1.6-1.7 1.6 .6 1.6-.1 1.6-.3 1.6 .3 1.6 .5 1.6 .7 1.6-.4 1.6-.2 1.6 .4 1.6-1.5 1.6-.3 1.6 0 1.6 1.5" stroke-width="2.7" stroke-dasharray="0 1.9"/></g>
<path d="M376.3,919.0 V1232.0 H562.6" fill="none" stroke="#4a4a4a" stroke-width="1.5"/>
<line x1="389.4" y1="1232.0" x2="389.4" y2="1239.0" stroke="#4a4a4a" stroke-width="1.3"/>
<text x="389.4" y="1252.8" font-size="11.1" font-weight="normal" fill="#2a2a2a" text-anchor="middle"  stroke="#2a2a2a" stroke-width=".3">295</text>
<line x1="420.8" y1="1232.0" x2="420.8" y2="1239.0" stroke="#4a4a4a" stroke-width="1.3"/>
<text x="420.8" y="1252.8" font-size="11.1" font-weight="normal" fill="#2a2a2a" text-anchor="middle"  stroke="#2a2a2a" stroke-width=".3">292</text>
<line x1="452.5" y1="1232.0" x2="452.5" y2="1239.0" stroke="#4a4a4a" stroke-width="1.3"/>
<text x="452.5" y="1252.8" font-size="11.1" font-weight="normal" fill="#2a2a2a" text-anchor="middle"  stroke="#2a2a2a" stroke-width=".3">289</text>
<line x1="483.6" y1="1232.0" x2="483.6" y2="1239.0" stroke="#4a4a4a" stroke-width="1.3"/>
<text x="483.6" y="1252.8" font-size="11.1" font-weight="normal" fill="#2a2a2a" text-anchor="middle"  stroke="#2a2a2a" stroke-width=".3">286</text>
<line x1="514.7" y1="1232.0" x2="514.7" y2="1239.0" stroke="#4a4a4a" stroke-width="1.3"/>
<text x="514.7" y="1252.8" font-size="11.1" font-weight="normal" fill="#2a2a2a" text-anchor="middle"  stroke="#2a2a2a" stroke-width=".3">283</text>
<line x1="546.1" y1="1232.0" x2="546.1" y2="1239.0" stroke="#4a4a4a" stroke-width="1.3"/>
<text x="546.1" y="1252.8" font-size="11.1" font-weight="normal" fill="#2a2a2a" text-anchor="middle"  stroke="#2a2a2a" stroke-width=".3">280</text>
<text x="469.4" y="1265.6" font-size="11.0" font-weight="normal" fill="#383838" text-anchor="middle"  stroke="#383838" stroke-width=".3">Binding Energy / eV</text>
<text x="388.8" y="930.5" font-size="12.0" font-weight="bold" fill="#111" text-anchor="start" >C1s</text>
<text x="381.8" y="981.5" font-size="10.8" font-weight="normal" fill="#1e1e1e" text-anchor="start"  stroke="#1e1e1e" stroke-width=".3">430 eV</text>
<text x="381.8" y="992.9" font-size="10.8" font-weight="normal" fill="#1e1e1e" text-anchor="start"  stroke="#1e1e1e" stroke-width=".3">2 nm</text>
<text x="381.8" y="1155.6" font-size="10.8" font-weight="normal" fill="#1e1e1e" text-anchor="start"  stroke="#1e1e1e" stroke-width=".3">6900 eV</text>
<text x="381.8" y="1167.0" font-size="10.8" font-weight="normal" fill="#1e1e1e" text-anchor="start"  stroke="#1e1e1e" stroke-width=".3">47 nm</text>
<text x="490.0" y="967.7" font-size="10.6" font-weight="normal" fill="#444" text-anchor="start"  stroke="#444" stroke-width=".3">C-C</text>
<path d="M624.1 1066.6l.8-.1 .8-.1 .8-.1 .8-.2 .8-.3 .8-.3 .8-.4 .8-.6 .8-.6 .8-.9 .8-1 .8-1.3 .8-1.5 .8-1.8 .8-2.1 .8-2.5 .8-2.9 .8-3.3 .8-3.7 .8-4.1 .8-4.6 .8-4.9 .8-5.3 .8-5.6 .8-5.8 .8-5.9 .8-6 .8-6 .8-5.7 .8-5.5 .8-5 .8-4.5 .8-3.8 .8-3.1 .8-2.2 .8-1.3 .8-.4 .8 .6 .8 1.5 .8 2.3 .8 3.2 .8 4 .8 4.6 .8 5.1 .8 5.5 .8 5.8 .8 6 .7 6 .8 5.9 .8 5.8 .8 5.6 .8 5.2 .8 4.9 .8 4.4 .8 4.1 .8 3.6 .8 3.2 .8 2.9 .8 2.4 .8 2.1 .8 1.7 .8 1.5 .8 1.2 .8 1 .8 .8 .8 .7 .8 .5 .8 .4 .8 .3 .8 .3 .8 .2 .8 .1 .8 .1 0 .3 -58.3-.2z" fill="#fbc88e"/>
<path d="M618.5 1066.6l.8-.1 .8-.1 .8-.2 .8-.2 .8-.3 .8-.3 .8-.4 .8-.5 .8-.6 .8-.8 .8-.9 .8-1.1 .8-1.3 .8-1.5 .8-1.6 .8-2 .8-2.1 .8-2.3 .8-2.6 .8-2.7 .8-2.9 .8-3 .8-3 .8-3.1 .8-3 .8-2.9 .8-2.7 .8-2.4 .8-2.1 .8-1.8 .8-1.3 .8-.9 .8-.3 .8 .1 .8 .6 .8 1.1 .8 1.5 .8 2 .8 2.2 .8 2.6 .8 2.8 .8 3 .8 3 .8 3.1 .8 3 .8 3 .8 2.8 .8 2.6 .8 2.5 .8 2.3 .8 2 .8 1.8 .8 1.6 .8 1.4 .7 1.2 .8 1 .8 .8 .8 .7 .8 .6 .8 .5 .8 .3 .8 .3 .8 .3 .8 .1 .8 .2 .8 .1 .8 .1 0 .2 -53.5-.2z" fill="#f8ae62"/>
<path d="M663.2 1066.7l.8-.2 .8-.1 .8-.3 .8-.3 .8-.3 .8-.5 .8-.7 .8-.8 .8-.9 .8-1.2 .8-1.3 .8-1.6 .8-1.7 .8-2 .8-2.1 .8-2.2 .8-2.4 .8-2.4 .8-2.3 .8-2.3 .8-2 .8-1.8 .8-1.4 .8-1.1 .8-.6 .8-.2 .8 .3 .8 .7 .8 1.2 .8 1.5 .8 1.9 .8 2.1 .8 2.3 .8 2.3 .8 2.4 .8 2.4 .8 2.2 .8 2.1 .8 1.9 .8 1.7 .8 1.5 .8 1.3 .8 1.1 .8 .9 .8 .7 .8 .6 .8 .5 .8 .4 .8 .3 .8 .2 .8 .1 .8 .1 0 .3 -41.6-.1z" fill="#f7ec6c"/>
<path d="M656.1 1066.7l.8-.1 .8-.1 .8-.1 .8-.2 .8-.3 .8-.3 .8-.4 .7-.4 .8-.6 .8-.7 .8-.8 .8-.8 .8-1 .8-1 .8-1.1 .8-1.1 .8-1.2 .8-1.1 .8-1 .8-.9 .8-.8 .8-.6 .8-.4 .8-.2 .8 0 .8 .3 .8 .4 .8 .7 .8 .8 .8 1 .8 1.1 .8 1.1 .8 1.1 .8 1.1 .8 1.1 .8 1 .8 1 .8 .8 .8 .8 .8 .6 .8 .6 .8 .4 .8 .4 .8 .3 .8 .2 .8 .2 .8 .1 .8 .1 0 .3 -38.3-.1z" fill="#f7ec6c"/>
<path d="M624.1 1066.6l.8-.1 .8-.1 .8-.1 .8-.2 .8-.3 .8-.3 .8-.4 .8-.6 .8-.6 .8-.9 .8-1 .8-1.3 .8-1.5 .8-1.8 .8-2.1 .8-2.5 .8-2.9 .8-3.3 .8-3.7 .8-4.1 .8-4.6 .8-4.9 .8-5.3 .8-5.6 .8-2.5 .8-.3 .8 .1 .8 .6 .8 1.1 .8 1.5 .8 2 .8 2.2 .8 2.6 .8 2.8 .8 3 .8 3 .8 3.1 .8 3 .8 3 .8 2.8 .8 2.6 .8 2.5 .8 2.3 .8 2 .8 1.8 .8 1.6 .8 1.4 .7 1.2 .8 1 .8 .8 .8 .7 .8 .6 .8 .5 .8 .3 .8 .3 .8 .3 .8 .1 .8 .2 .8 .1 .8 .1 0 .2 -47.9-.2z" fill="#f69d51"/>
<path d="M663.2 1066.7l.8-.2 .8-.1 .8-.3 .8-.3 .8-.3 .8-.5 .8-.7 .8-.8 .8-.9 .8-1.2 .8-1.3 .8-.5 .8 1.5 .8 1.2 .8 1 .8 .8 .8 .7 .8 .5 .8 .4 .8 .3 .8 .3 .8 .2 .8 .1 .8 .1 0 .3 -19.2-.1z" fill="#f5c656"/>
<path d="M656.1 1066.7l.8-.1 .8-.1 .8-.1 .8-.2 .8-.3 .8-.3 .8-.4 .7-.4 .8-.6 .8-.7 .8-.8 .8-.8 .8-1 .8-1 .8-1.1 .8-1.1 .8-1.2 .8-1.1 .8 .4 .8 2.1 .8 1.7 .8 1.5 .8 1.2 .8 1 .8 .8 .8 .7 .8 .5 .8 .4 .8 .3 .8 .3 .8 .2 .8 .1 .8 .1 0 .3 -26.3-.1z" fill="#f5c656"/>
<path d="M663.2 1066.7l.8-.2 .8-.1 .8-.3 .8-.3 .8-.1 .8 .3 .8 .3 .8 .1 .8 .2 .8 .1 .8 .1 0 .2 -8.8-.1z" fill="#f3b342"/>
<path d="M656.1 1066.7l.8-.1 .8-.1 .8-.1 .8-.2 .8-.3 .8-.3 .8-.4 .7-.4 .8-.6 .8-.6 .8 .7 .8 .6 .8 .5 .8 .3 .8 .3 .8 .3 .8 .1 .8 .2 .8 .1 .8 .1 0 .2 -15.9-.1z" fill="#f3b342"/>
<path d="M663.2 1066.7l.8-.2 .8-.1 .8-.3 .8-.3 .8-.3 .8-.5 .8-.7 .8-.8 .8-.9 .8-1.2 .8-1.3 .8-1.6 .8-1.7 .8-2 .8-2.1 .8-1.2 .8 .3 .8 .4 .8 .7 .8 .8 .8 1 .8 1.1 .8 1.1 .8 1.1 .8 1.1 .8 1.1 .8 1 .8 1 .8 .8 .8 .8 .8 .6 .8 .6 .8 .4 .8 .4 .8 .3 .8 .2 .8 .2 .8 .1 .8 .1 0 .3 -31.2-.1z" fill="#f2e147"/>
<path d="M624.1 1066.6l.8-.1 .8-.1 .8-.1 .8-.2 .8-.3 .8-.3 .8-.4 .8-.6 .8-.6 .8-.9 .8-1 .8-1.3 .8-1.5 .8-1.8 .8-2.1 .8-2.5 .8-2.9 .8-3.3 .8-3.7 .8-4.1 .8-4.6 .8-4.9 .8-5.3 .8-5.6 .8-5.8 .8-5.9 .8-6 .8-6 .8-5.7 .8-5.5 .8-5 .8-4.5 .8-3.8 .8-3.1 .8-2.2 .8-1.3 .8-.4 .8 .6 .8 1.5 .8 2.3 .8 3.2 .8 4 .8 4.6 .8 5.1 .8 5.5 .8 5.8 .8 6 .7 6 .8 5.9 .8 5.8 .8 5.6 .8 5.2 .8 4.9 .8 4.4 .8 4.1 .8 3.6 .8 3.2 .8 2.9 .8 2.4 .8 2.1 .8 1.7 .8 1.5 .8 1.2 .8 1 .8 .8 .8 .7 .8 .5 .8 .4 .8 .3 .8 .3 .8 .2 .8 .1 .8 .1 0 .3 -58.3-.2zM618.5 1066.6l.8-.1 .8-.1 .8-.2 .8-.2 .8-.3 .8-.3 .8-.4 .8-.5 .8-.6 .8-.8 .8-.9 .8-1.1 .8-1.3 .8-1.5 .8-1.6 .8-2 .8-2.1 .8-2.3 .8-2.6 .8-2.7 .8-2.9 .8-3 .8-3 .8-3.1 .8-3 .8-2.9 .8-2.7 .8-2.4 .8-2.1 .8-1.8 .8-1.3 .8-.9 .8-.3 .8 .1 .8 .6 .8 1.1 .8 1.5 .8 2 .8 2.2 .8 2.6 .8 2.8 .8 3 .8 3 .8 3.1 .8 3 .8 3 .8 2.8 .8 2.6 .8 2.5 .8 2.3 .8 2 .8 1.8 .8 1.6 .8 1.4 .7 1.2 .8 1 .8 .8 .8 .7 .8 .6 .8 .5 .8 .3 .8 .3 .8 .3 .8 .1 .8 .2 .8 .1 .8 .1 0 .2 -53.5-.2zM663.2 1066.7l.8-.2 .8-.1 .8-.3 .8-.3 .8-.3 .8-.5 .8-.7 .8-.8 .8-.9 .8-1.2 .8-1.3 .8-1.6 .8-1.7 .8-2 .8-2.1 .8-2.2 .8-2.4 .8-2.4 .8-2.3 .8-2.3 .8-2 .8-1.8 .8-1.4 .8-1.1 .8-.6 .8-.2 .8 .3 .8 .7 .8 1.2 .8 1.5 .8 1.9 .8 2.1 .8 2.3 .8 2.3 .8 2.4 .8 2.4 .8 2.2 .8 2.1 .8 1.9 .8 1.7 .8 1.5 .8 1.3 .8 1.1 .8 .9 .8 .7 .8 .6 .8 .5 .8 .4 .8 .3 .8 .2 .8 .1 .8 .1 0 .3 -41.6-.1zM656.1 1066.7l.8-.1 .8-.1 .8-.1 .8-.2 .8-.3 .8-.3 .8-.4 .7-.4 .8-.6 .8-.7 .8-.8 .8-.8 .8-1 .8-1 .8-1.1 .8-1.1 .8-1.2 .8-1.1 .8-1 .8-.9 .8-.8 .8-.6 .8-.4 .8-.2 .8 0 .8 .3 .8 .4 .8 .7 .8 .8 .8 1 .8 1.1 .8 1.1 .8 1.1 .8 1.1 .8 1.1 .8 1 .8 1 .8 .8 .8 .8 .8 .6 .8 .6 .8 .4 .8 .4 .8 .3 .8 .2 .8 .2 .8 .1 .8 .1 0 .3 -38.3-.1z" fill="none" stroke="#1a1208" stroke-width="1.1"/>
<path d="M619.3 1066.4l.8-.1 .8-.1 .8-.3 .8-.3 .8-.3 .8-.5 .8-.6 .8-.7 .8-.9 .8-1.2 .8-1.3 .8-1.6 .8-1.9 .8-2.2 .8-2.6 .8-3 .8-3.4 .8-3.8 .8-4.2 .8-4.7 .8-5.1 .8-5.6 .8-5.9 .8-6.3 .8-6.6 .8-6.8 .8-7 .8-7.1 .8-7 .8-6.9 .8-6.7 .8-6.3 .8-5.9 .8-5.3 .8-4.7 .8-3.9 .8-3.1 .8-2.2 .8-1.3 .8-.3 .8 .8 .8 1.7 .8 2.6 .8 3.6 .8 4.4 .8 5.1 .8 5.8 .8 6.2 .8 6.7 .8 7 .8 7 .8 7.1 .8 6.9 .7 6.6 .8 6.3 .8 5.8 .8 5.3 .8 4.7 .8 4.1 .8 3.4 .8 2.8 .8 2.1 .8 1.5 .8 .9 .8 .3 .8-.1 .8-.5 .8-.9 .8-1.1 .8-1.3 .8-1.4 .8-1.4 .8-1.4 .8-1.2 .8-1.1 .8-.9 .8-.5 .8-.2 .8 .2 .8 .5 .8 1 .8 1.3 .8 1.8 .8 2 .8 2.3 .8 2.5 .8 2.7 .8 2.7 .8 2.7 .8 2.7 .8 2.6 .8 2.4 .8 2.2 .8 2 .8 1.8 .8 1.6 .8 1.3 .8 1.1 .8 1 .8 .7 .8 .6 .8 .5 .8 .4 .8 .3 .8 .2 .8 .1" fill="none" stroke="#111" stroke-width=".9"/>
<g fill="none" stroke="#000" stroke-linejoin="round" stroke-linecap="round"><path d="M594.6 1066.3l1.6-.4 1.6 .8 1.6 0 1.6 1 1.6-.1 1.6-.7 1.6 .4 1.6-.1 1.6-.6 1.6 .7 1.6-.6 1.6 1.1 1.6 0 1.6-.9 1.5-.3 1.6 .3 1.6-1.6 1.6-.4 1.6-1.8 1.6-.9 1.6-2.3 1.6-2.3 1.6-5.5 1.6-6.6 1.6-6.8 1.6-11.3 1.6-10.1 1.6-13.9 1.6-15.3 1.6-12.4 1.6-13 1.6-13.5 1.6-7.7 1.6-5.9 1.6-6.2 1.6-.6 1.6 4.5 1.6 8 1.6 10.1 1.6 14.5 1.6 13.8 1.6 14.1 1.5 12.8 1.6 11.3 1.6 7.7 1.6 5.7 1.6 3.8 1.6 1.5 1.6 .8 1.6-1.9 1.6-3.9 1.6-3.6 1.6-.3 1.6-1.4 1.6 .5 1.6-.4 1.6 3.3 1.6 5.4 1.6 6.2 1.6 4.2 1.6 5.1 1.6 4.3 1.6 4.1 1.6 2.6 1.6 2.4 1.6 1.2 1.6 1.6 1.6-.1 1.6-.3 1.6-.3 1.5 .6 1.6-.9 1.6 .1 1.6 .8 1.6 1.1 1.6-1.5 1.6 0 1.6 .4 1.6 .1 1.6 1 1.6-.1 1.6-.6 1.6 .7 1.6 .1" stroke-width="1.3"/><path d="M594.6 1066.3l1.6-.4 1.6 .8 1.6 0 1.6 1 1.6-.1 1.6-.7 1.6 .4 1.6-.1 1.6-.6 1.6 .7 1.6-.6 1.6 1.1 1.6 0 1.6-.9 1.5-.3 1.6 .3 1.6-1.6 1.6-.4 1.6-1.8 1.6-.9 1.6-2.3 1.6-2.3 1.6-5.5 1.6-6.6 1.6-6.8 1.6-11.3 1.6-10.1 1.6-13.9 1.6-15.3 1.6-12.4 1.6-13 1.6-13.5 1.6-7.7 1.6-5.9 1.6-6.2 1.6-.6 1.6 4.5 1.6 8 1.6 10.1 1.6 14.5 1.6 13.8 1.6 14.1 1.5 12.8 1.6 11.3 1.6 7.7 1.6 5.7 1.6 3.8 1.6 1.5 1.6 .8 1.6-1.9 1.6-3.9 1.6-3.6 1.6-.3 1.6-1.4 1.6 .5 1.6-.4 1.6 3.3 1.6 5.4 1.6 6.2 1.6 4.2 1.6 5.1 1.6 4.3 1.6 4.1 1.6 2.6 1.6 2.4 1.6 1.2 1.6 1.6 1.6-.1 1.6-.3 1.6-.3 1.5 .6 1.6-.9 1.6 .1 1.6 .8 1.6 1.1 1.6-1.5 1.6 0 1.6 .4 1.6 .1 1.6 1 1.6-.1 1.6-.6 1.6 .7 1.6 .1" stroke-width="2.3" stroke-dasharray="0 1.9"/></g>
<path d="M621.7 1226.7l.8 0 .8 0 .8 0 .8 0 .8 0 .8 0 .8 0 .8 0 .8-.1 .8 0 .8 0 .8 0 .8 0 .8 0 .8 0 .8 0 .8 0 .8 0 .8 0 .8 0 .8-.1 .8 0 .8 0 .8 0 .8 0 .8 0 .8 0 .8 0 .8-.1 .8 0 .8 0 .8 0 .8 0 .8-.1 .8 0 .8 0 .8 0 .8-.1 .8 0 .8 0 .8-.1 .8 0 .8-.1 .8 0 .8-.1 .8-.1 .8-.1 .8-.2 .8-.1 .8-.3 .7-.2 .8-.4 .8-.5 .8-.6 .8-.7 .8-.9 .8-1.1 .8-1.4 .8-1.6 .8-1.9 .8-2.4 .8-2.7 .8-3.1 .8-3.6 .8-4 .8-4.5 .8-4.9 .8-5.3 .8-5.6 .8-6 .8-6.1 .8-6.2 .8-6.2 .8-5.9 .8-5.6 .8-5.2 .8-4.5 .8-3.7 .8-2.8 .8-1.8 .8-.7 .8 .5 .8 1.9 .8 3 .8 4.2 .8 5 .8 5.9 .8 6.3 .8 6.7 .8 6.8 .8 6.8 .8 6.6 .8 6.2 .8 5.9 .8 5.4 .8 4.8 .8 4.3 .8 3.8 .8 3.2 .8 2.7 .8 2.3 .8 1.9 .8 1.5 .8 1.3 .8 .9 .8 .8 .7 .6 .8 .5 .8 .4 .8 .2 .8 .3 .8 .1 .8 .2 .8 .1 .8 0 .8 .1 .8 .1 .8 0 .8 .1 .8 0 .8 0 .8 .1 .8 0 .8 0 .8 0 .8 .1 .8 0 .8 0 .8 0 .8 .1 .8 0 .8 0 .8 0 .8 0 0 .4 -107-.2z" fill="#f9f086"/>
<path d="M623.3 1226.6l.8-.1 .8-.1 .8-.1 .8-.2 .8-.3 .8-.2 .8-.4 .8-.4 .8-.5 .8-.6 .8-.7 .8-.8 .8-.9 .8-.9 .8-1.1 .8-1.2 .8-1.2 .8-1.4 .8-1.3 .8-1.4 .8-1.4 .8-1.4 .8-1.2 .8-1.2 .8-1.1 .8-.9 .8-.7 .8-.6 .8-.3 .8-.1 .8 .2 .8 .3 .8 .6 .8 .8 .8 .9 .8 1.1 .8 1.2 .8 1.3 .8 1.4 .8 1.4 .8 1.4 .8 1.3 .8 1.4 .8 1.2 .8 1.1 .8 1.1 .8 1 .8 .8 .7 .8 .8 .7 .8 .5 .8 .5 .8 .4 .8 .4 .8 .2 .8 .3 .8 .1 .8 .2 .8 .1 .8 .1 0 .2 -47.9 0z" fill="#fbc88e"/>
<path d="M623.3 1226.7l.8 0 .8 0 .8 0 .8 0 .8 0 .8 0 .8-.1 .8 0 .8 0 .8 0 .8 0 .8 0 .8 0 .8 0 .8 0 .8 0 .8 0 .8 0 .8-.1 .8 0 .8 0 .8 0 .8 0 .8 0 .8 0 .8 0 .8-.1 .8 0 .8 0 .8 0 .8 0 .8-.1 .8 0 .8 0 .8 0 .8-.1 .8 0 .8 0 .8-.1 .8 0 .8-.1 .8 0 .8-.1 .8-.1 .8-.1 .8-.2 .8-.1 .8-.3 .7-.2 .8-.4 .8-.1 .8 .5 .8 .4 .8 .4 .8 .2 .8 .3 .8 .1 .8 .2 .8 .1 .8 .1 0 .2 -47.9 0z" fill="#f7c964"/>
<path d="M621.7 1226.7l.8 0 .8 0 .8 0 .8 0 .8 0 .8 0 .8 0 .8 0 .8-.1 .8 0 .8 0 .8 0 .8 0 .8 0 .8 0 .8 0 .8 0 .8 0 .8 0 .8 0 .8-.1 .8 0 .8 0 .8 0 .8 0 .8 0 .8 0 .8 0 .8-.1 .8 0 .8 0 .8 0 .8 0 .8-.1 .8 0 .8 0 .8 0 .8-.1 .8 0 .8 0 .8-.1 .8 0 .8-.1 .8 0 .8-.1 .8-.1 .8-.1 .8-.2 .8-.1 .8-.3 .7-.2 .8-.4 .8-.5 .8-.6 .8-.7 .8-.9 .8-1.1 .8-1.4 .8-1.6 .8-1.9 .8-2.4 .8-2.7 .8-3.1 .8-3.6 .8-4 .8-4.5 .8-4.9 .8-5.3 .8-5.6 .8-6 .8-6.1 .8-6.2 .8-6.2 .8-5.9 .8-5.6 .8-5.2 .8-4.5 .8-3.7 .8-2.8 .8-1.8 .8-.7 .8 .5 .8 1.9 .8 3 .8 4.2 .8 5 .8 5.9 .8 6.3 .8 6.7 .8 6.8 .8 6.8 .8 6.6 .8 6.2 .8 5.9 .8 5.4 .8 4.8 .8 4.3 .8 3.8 .8 3.2 .8 2.7 .8 2.3 .8 1.9 .8 1.5 .8 1.3 .8 .9 .8 .8 .7 .6 .8 .5 .8 .4 .8 .2 .8 .3 .8 .1 .8 .2 .8 .1 .8 0 .8 .1 .8 .1 .8 0 .8 .1 .8 0 .8 0 .8 .1 .8 0 .8 0 .8 0 .8 .1 .8 0 .8 0 .8 0 .8 .1 .8 0 .8 0 .8 0 .8 0 0 .4 -107-.2zM623.3 1226.6l.8-.1 .8-.1 .8-.1 .8-.2 .8-.3 .8-.2 .8-.4 .8-.4 .8-.5 .8-.6 .8-.7 .8-.8 .8-.9 .8-.9 .8-1.1 .8-1.2 .8-1.2 .8-1.4 .8-1.3 .8-1.4 .8-1.4 .8-1.4 .8-1.2 .8-1.2 .8-1.1 .8-.9 .8-.7 .8-.6 .8-.3 .8-.1 .8 .2 .8 .3 .8 .6 .8 .8 .8 .9 .8 1.1 .8 1.2 .8 1.3 .8 1.4 .8 1.4 .8 1.4 .8 1.3 .8 1.4 .8 1.2 .8 1.1 .8 1.1 .8 1 .8 .8 .7 .8 .8 .7 .8 .5 .8 .5 .8 .4 .8 .4 .8 .2 .8 .3 .8 .1 .8 .2 .8 .1 .8 .1 0 .2 -47.9 0z" fill="none" stroke="#1a1208" stroke-width="1.1"/>
<path d="M620.9 1226.6l.8 0 .8-.1 .8-.1 .8-.1 .8-.1 .8-.2 .8-.1 .8-.3 .8-.3 .8-.3 .8-.5 .8-.5 .8-.6 .8-.7 .8-.8 .8-.8 .8-1 .8-1.1 .8-1.2 .8-1.3 .8-1.3 .8-1.4 .8-1.4 .8-1.4 .8-1.4 .8-1.3 .8-1.2 .8-1 .8-1 .8-.7 .8-.6 .8-.3 .8-.1 .8 .1 .8 .4 .8 .5 .8 .8 .8 .9 .8 1 .8 1.2 .8 1.3 .8 1.3 .8 1.4 .8 1.3 .8 1.3 .8 1.2 .8 1.2 .8 1 .8 .9 .8 .8 .8 .6 .7 .5 .8 .3 .8 .1 .8-.1 .8-.3 .8-.6 .8-.8 .8-1.1 .8-1.5 .8-1.8 .8-2.2 .8-2.6 .8-3.1 .8-3.5 .8-4 .8-4.4 .8-4.9 .8-5.3 .8-5.7 .8-5.9 .8-6.1 .8-6.2 .8-6.2 .8-5.9 .8-5.7 .8-5.1 .8-4.5 .8-3.7 .8-2.8 .8-1.8 .8-.7 .8 .5 .8 1.9 .8 3 .8 4.2 .8 5 .8 5.9 .8 6.3 .8 6.7 .8 6.8 .8 6.8 .8 6.6 .8 6.2 .8 5.9 .8 5.4 .8 4.8 .8 4.3 .8 3.8 .8 3.2 .8 2.7 .8 2.3 .8 1.9 .8 1.5 .8 1.3 .8 .9 .8 .8 .7 .6 .8 .5 .8 .4 .8 .2 .8 .3 .8 .1 .8 .2 .8 .1 .8 0 .8 .1 .8 .1 .8 0 .8 .1 .8 0 .8 0 .8 .1 .8 0 .8 0 .8 0 .8 .1 .8 0 .8 0 .8 0 .8 .1 .8 0 .8 0 .8 0 .8 0" fill="none" stroke="#111" stroke-width=".9"/>
<g fill="none" stroke="#000" stroke-linejoin="round" stroke-linecap="round"><path d="M594.6 1227l1.6 0 1.6-.3 1.6-.1 1.6 .4 1.6 .2 1.6-.5 1.6 .2 1.6-.7 1.6 .8 1.6 0 1.6 0 1.6 .1 1.6-.1 1.6 .7 1.5 .1 1.6-1.1 1.6 .9 1.6-.1 1.6-.2 1.6-1.6 1.6-.5 1.6-.9 1.6-1.3 1.6-1.2 1.6-1.1 1.6-2.6 1.6-2.7 1.6-2.8 1.6-3.7 1.6-2.1 1.6-1.1 1.6-1.2 1.6-1.1 1.6 .9 1.6 1.5 1.6 1.9 1.6 2.6 1.6 3.2 1.6 2.1 1.6 2.2 1.6 1.2 1.6 1.3 1.5 1.2 1.6 .9 1.6-1.7 1.6-2.2 1.6-3.5 1.6-4.2 1.6-5.9 1.6-8.6 1.6-9.7 1.6-12.5 1.6-12.4 1.6-11.7 1.6-9.4 1.6-9.9 1.6-3.6 1.6-.9 1.6 3.6 1.6 7.9 1.6 13.3 1.6 13.8 1.6 12.8 1.6 12 1.6 10.7 1.6 7.7 1.6 6.9 1.6 4.3 1.6 3.7 1.6 1.2 1.5 1.1 1.6 .5 1.6 .2 1.6-.2 1.6 .6 1.6-.6 1.6 .7 1.6-.2 1.6-.2 1.6 1.5 1.6-.4 1.6-.5 1.6 .3 1.6 0" stroke-width="1.7"/><path d="M594.6 1227l1.6 0 1.6-.3 1.6-.1 1.6 .4 1.6 .2 1.6-.5 1.6 .2 1.6-.7 1.6 .8 1.6 0 1.6 0 1.6 .1 1.6-.1 1.6 .7 1.5 .1 1.6-1.1 1.6 .9 1.6-.1 1.6-.2 1.6-1.6 1.6-.5 1.6-.9 1.6-1.3 1.6-1.2 1.6-1.1 1.6-2.6 1.6-2.7 1.6-2.8 1.6-3.7 1.6-2.1 1.6-1.1 1.6-1.2 1.6-1.1 1.6 .9 1.6 1.5 1.6 1.9 1.6 2.6 1.6 3.2 1.6 2.1 1.6 2.2 1.6 1.2 1.6 1.3 1.5 1.2 1.6 .9 1.6-1.7 1.6-2.2 1.6-3.5 1.6-4.2 1.6-5.9 1.6-8.6 1.6-9.7 1.6-12.5 1.6-12.4 1.6-11.7 1.6-9.4 1.6-9.9 1.6-3.6 1.6-.9 1.6 3.6 1.6 7.9 1.6 13.3 1.6 13.8 1.6 12.8 1.6 12 1.6 10.7 1.6 7.7 1.6 6.9 1.6 4.3 1.6 3.7 1.6 1.2 1.5 1.1 1.6 .5 1.6 .2 1.6-.2 1.6 .6 1.6-.6 1.6 .7 1.6-.2 1.6-.2 1.6 1.5 1.6-.4 1.6-.5 1.6 .3 1.6 0" stroke-width="2.7" stroke-dasharray="0 1.9"/></g>
<line x1="685.7" y1="1010.4" x2="685.7" y2="1205.5" stroke="#777" stroke-width="0.9" stroke-dasharray="2.6 3.2"/>
<path d="M592.0,919.0 V1078.8 H728.7" fill="none" stroke="#4a4a4a" stroke-width="1.5"/>
<line x1="614.7" y1="1078.8" x2="614.7" y2="1085.5" stroke="#4a4a4a" stroke-width="1.3"/>
<text x="614.7" y="1097.3" font-size="8.8" font-weight="normal" fill="#2a2a2a" text-anchor="middle"  stroke="#2a2a2a" stroke-width=".3">140</text>
<line x1="645.6" y1="1078.8" x2="645.6" y2="1085.5" stroke="#4a4a4a" stroke-width="1.3"/>
<text x="645.6" y="1097.3" font-size="8.8" font-weight="normal" fill="#2a2a2a" text-anchor="middle"  stroke="#2a2a2a" stroke-width=".3">137</text>
<line x1="676.9" y1="1078.8" x2="676.9" y2="1085.5" stroke="#4a4a4a" stroke-width="1.3"/>
<text x="676.9" y="1097.3" font-size="8.8" font-weight="normal" fill="#2a2a2a" text-anchor="middle"  stroke="#2a2a2a" stroke-width=".3">134</text>
<line x1="707.6" y1="1078.8" x2="707.6" y2="1085.5" stroke="#4a4a4a" stroke-width="1.3"/>
<text x="707.6" y="1097.3" font-size="8.8" font-weight="normal" fill="#2a2a2a" text-anchor="middle"  stroke="#2a2a2a" stroke-width=".3">131</text>
<path d="M592.0,1117.1 V1232.6 H728.7" fill="none" stroke="#4a4a4a" stroke-width="1.5"/>
<line x1="610.2" y1="1232.6" x2="610.2" y2="1239.1" stroke="#4a4a4a" stroke-width="1.3"/>
<text x="610.2" y="1252.8" font-size="11.1" font-weight="normal" fill="#2a2a2a" text-anchor="middle"  stroke="#2a2a2a" stroke-width=".3">2155</text>
<line x1="642.7" y1="1232.6" x2="642.7" y2="1239.1" stroke="#4a4a4a" stroke-width="1.3"/>
<text x="642.7" y="1252.8" font-size="11.1" font-weight="normal" fill="#2a2a2a" text-anchor="middle"  stroke="#2a2a2a" stroke-width=".3">2152</text>
<line x1="675.1" y1="1232.6" x2="675.1" y2="1239.1" stroke="#4a4a4a" stroke-width="1.3"/>
<text x="675.1" y="1252.8" font-size="11.1" font-weight="normal" fill="#2a2a2a" text-anchor="middle"  stroke="#2a2a2a" stroke-width=".3">2149</text>
<line x1="707.6" y1="1232.6" x2="707.6" y2="1239.1" stroke="#4a4a4a" stroke-width="1.3"/>
<text x="707.6" y="1252.8" font-size="11.1" font-weight="normal" fill="#2a2a2a" text-anchor="middle"  stroke="#2a2a2a" stroke-width=".3">2146</text>
<text x="661.0" y="1265.6" font-size="11.0" font-weight="normal" fill="#383838" text-anchor="middle"  stroke="#383838" stroke-width=".3">Binding Energy / eV</text>
<text x="594.6" y="929.0" font-size="12.0" font-weight="bold" fill="#111" text-anchor="start" >P2p</text>
<text x="595.8" y="1133.9" font-size="12.0" font-weight="bold" fill="#111" text-anchor="start" >P1s</text>
<text x="594.6" y="981.5" font-size="10.8" font-weight="normal" fill="#1e1e1e" text-anchor="start"  stroke="#1e1e1e" stroke-width=".3">280 eV</text>
<text x="594.6" y="992.9" font-size="10.8" font-weight="normal" fill="#1e1e1e" text-anchor="start"  stroke="#1e1e1e" stroke-width=".3">2 nm</text>
<text x="594.6" y="1155.6" font-size="10.8" font-weight="normal" fill="#1e1e1e" text-anchor="start"  stroke="#1e1e1e" stroke-width=".3">6900 eV</text>
<text x="594.6" y="1167.0" font-size="10.8" font-weight="normal" fill="#1e1e1e" text-anchor="start"  stroke="#1e1e1e" stroke-width=".3">36 nm</text>
<text x="681.2" y="999.8" font-size="10.6" font-weight="normal" fill="#666" text-anchor="start"  stroke="#666" stroke-width=".3">PO<tspan font-size="7.5" dy="2.5">4</tspan><tspan font-size="7.5" dy="-6.5">3-</tspan></text>
<text transform="translate(29.4,1010.5) rotate(-90)" font-size="16.8" font-weight="bold" fill="#111" text-anchor="middle" textLength="66.0" lengthAdjust="spacingAndGlyphs"  stroke="#111" stroke-width=".5">SOXPES</text>
<text transform="translate(29.4,1133.1) rotate(-90)" font-size="16.8" font-weight="bold" fill="#111" text-anchor="middle" textLength="67.1" lengthAdjust="spacingAndGlyphs"  stroke="#111" stroke-width=".5">HAXPES</text>
<line x1="747.6" y1="1016.5" x2="747.6" y2="1170" stroke="#111" stroke-width="1.3"/>
<path d="M747.6,1181.4 L738.5,1162.8 L747.6,1168 L756.8,1162.8 Z" fill="#111"/>
<text transform="translate(769.1,1093.8) rotate(-90)" font-size="16.5" font-weight="normal" fill="#222" text-anchor="middle" textLength="183.0" lengthAdjust="spacingAndGlyphs" >Increasing probing depth</text>
<defs>
<linearGradient id="gsei" x1="143.9" x2="418" y1="0" y2="0" gradientUnits="userSpaceOnUse">
<stop offset="0" stop-color="#aa554b"/><stop offset="0.035" stop-color="#b16350"/><stop offset="0.08" stop-color="#bc7f5d"/><stop offset="0.14" stop-color="#c79a6d"/>
<stop offset="0.22" stop-color="#cca779"/><stop offset="0.4" stop-color="#d7bb98"/><stop offset="0.6" stop-color="#e3d0b9"/>
<stop offset="0.8" stop-color="#efe4d6"/><stop offset="0.95" stop-color="#f9f5f0"/><stop offset="1" stop-color="#fbf8f5"/>
</linearGradient>
<linearGradient id="gspi" x1="532" x2="585.1" y1="0" y2="0" gradientUnits="userSpaceOnUse">
<stop offset="0" stop-color="#f4f8fb"/><stop offset="0.25" stop-color="#d9e8f2"/><stop offset="0.55" stop-color="#a9cce2"/><stop offset="0.85" stop-color="#6fabd0"/><stop offset="1" stop-color="#5a9dc6"/>
</linearGradient></defs>
<rect x="92.3" y="622.4" width="536.7" height="248.2" fill="#939598"/>
<rect x="99.9" y="629.3" width="521" height="234.5" fill="#c6e5f6"/>
<path d="M143.9,629.3 L403.0,629.3 L417.1,677.3 L401.8,718.1 L413.3,760.3 L396.6,799.9 L405.6,835.6 L401.8,863.8 L143.9,863.8 Z" fill="url(#gsei)"/>
<path d="M585.1,629.3 L539.1,629.3 L532.5,659.4 L543.4,710.5 L535.8,779.4 L541.7,812.7 L538.3,863.8 L585.1,863.8 Z" fill="url(#gspi)"/>
<path d="M403 629.3l14.1 48 -15.3 40.8 11.5 42.2 -16.7 39.6 9 35.7 -3.8 28.2" fill="none" stroke="#27aae1" stroke-width="1.4"/>
<path d="M539.1 629.3l-6.6 30.1 10.9 51.1 -7.6 68.9 5.9 33.3 -3.4 51.1" fill="none" stroke="#27aae1" stroke-width="1.4"/>
<rect x="99.9" y="629.3" width="44" height="234.5" fill="#231f20"/>
<rect x="585.1" y="629.3" width="35.8" height="234.5" fill="#4d4d4f"/>
<text transform="translate(127.0,739.0) rotate(-90)" font-size="20.0" font-weight="normal" fill="#fff" text-anchor="middle" textLength="71.5" lengthAdjust="spacingAndGlyphs" >Graphite</text>
<text transform="translate(611.0,741.0) rotate(-90)" font-size="20.5" font-weight="normal" fill="#fff" text-anchor="middle" textLength="63.8" lengthAdjust="spacingAndGlyphs" >LiFePO<tspan font-size="15.5" dy="3">4</tspan></text>
<text x="219.2" y="610.9" font-size="23.5" font-weight="normal" fill="#111" text-anchor="start" textLength="32" lengthAdjust="spacingAndGlyphs">SEI</text>
<text x="499.3" y="894.1" font-size="24.0" font-weight="normal" fill="#111" text-anchor="start" textLength="32.7" lengthAdjust="spacingAndGlyphs">SPI</text>
<path d="M271.5,577 V612.2 L263.1,608.3 L277.9,633.3 L292.7,608.3 L284.8,612.2 V577 Z" fill="#231f20"/>
<path d="M553.2,921.4 V882.6 L546,886.9 L560.2,862.1 L574.6,886.9 L567,882.6 V921.4 Z" fill="#231f20"/>
<text x="238.4" y="644.6" font-size="10.7" font-weight="normal" fill="#2a2118" text-anchor="start"  stroke="#2a2118" stroke-width=".3">Binder</text>
<line x1="156" y1="641.6" x2="230.7" y2="641.6" stroke="#1a1a1a" stroke-width="1.2"/>
<path d="M145.9,641.6 L159,637.8 L159,645.4 Z" fill="#1a1a1a"/>
<line x1="285.5" y1="641.6" x2="391" y2="641.6" stroke="#1a1a1a" stroke-width="1.2"/>
<path d="M401.8,641.6 L388.8,637.8 L388.8,645.4 Z" fill="#1a1a1a"/>
<text x="447.7" y="648.7" font-size="12.4" font-weight="normal" fill="#24303a" text-anchor="start"  stroke="#24303a" stroke-width=".3">Electrolyte</text>
<text x="543.4" y="636.9" font-size="10.6" font-weight="normal" fill="#1c2a36" text-anchor="start"  stroke="#1c2a36" stroke-width=".3">Binder</text>
<line x1="548" y1="641.5" x2="572" y2="641.5" stroke="#1a1a1a" stroke-width="1.1"/>
<path d="M539.6,641.5 L550,638.3 L550,644.7 Z" fill="#1a1a1a"/>
<path d="M580.5,641.5 L570,638.3 L570,644.7 Z" fill="#1a1a1a"/>
<text transform="translate(179.3,663.9) rotate(-90)" font-size="10.7" font-weight="normal" fill="#2a2118" text-anchor="middle" textLength="24.3" lengthAdjust="spacingAndGlyphs"  stroke="#2a2118" stroke-width=".3">ROLi</text>
<text transform="translate(195.9,694.5) rotate(-90)" font-size="10.7" font-weight="normal" fill="#2a2118" text-anchor="middle" textLength="24.3" lengthAdjust="spacingAndGlyphs"  stroke="#2a2118" stroke-width=".3">ROLi</text>
<text transform="translate(155.8,728.4) rotate(-90)" font-size="10.7" font-weight="normal" fill="#6e2620" text-anchor="middle" textLength="23.0" lengthAdjust="spacingAndGlyphs"  stroke="#6e2620" stroke-width=".3">Li<tspan dy="1.8" font-size="9.6">2</tspan><tspan dy="-1.8">O</tspan></text>
<text transform="translate(189.0,736.7) rotate(-90)" font-size="10.7" font-weight="normal" fill="#2a2118" text-anchor="middle" textLength="14.1" lengthAdjust="spacingAndGlyphs"  stroke="#2a2118" stroke-width=".3">LiF</text>
<text transform="translate(169.1,774.3) rotate(-90)" font-size="10.7" font-weight="normal" fill="#2a2118" text-anchor="middle" textLength="56.2" lengthAdjust="spacingAndGlyphs"  stroke="#2a2118" stroke-width=".3">LiPF<tspan dy="2.2">x</tspan><tspan dy="-2.2">(OR)</tspan><tspan dy="2.2">y</tspan></text>
<text transform="translate(209.9,775.0) rotate(-90)" font-size="10.7" font-weight="normal" fill="#2a2118" text-anchor="middle" textLength="24.3" lengthAdjust="spacingAndGlyphs"  stroke="#2a2118" stroke-width=".3">ROLi</text>
<text transform="translate(180.1,828.6) rotate(-90)" font-size="10.7" font-weight="normal" fill="#2a2118" text-anchor="middle" textLength="24.3" lengthAdjust="spacingAndGlyphs"  stroke="#2a2118" stroke-width=".3">ROLi</text>
<text transform="translate(208.7,831.2) rotate(-90)" font-size="10.7" font-weight="normal" fill="#2a2118" text-anchor="middle" textLength="14.0" lengthAdjust="spacingAndGlyphs"  stroke="#2a2118" stroke-width=".3">LiF</text>
<text transform="translate(236.8,660.0) rotate(-90)" font-size="10.7" font-weight="normal" fill="#2a2118" text-anchor="middle" textLength="14.0" lengthAdjust="spacingAndGlyphs"  stroke="#2a2118" stroke-width=".3">LiF</text>
<text transform="translate(232.9,706.7) rotate(-90)" font-size="10.7" font-weight="normal" fill="#2a2118" text-anchor="middle" textLength="28.1" lengthAdjust="spacingAndGlyphs"  stroke="#2a2118" stroke-width=".3">LiPF<tspan dy="2.2">x</tspan></text>
<text transform="translate(236.8,771.2) rotate(-90)" font-size="10.7" font-weight="normal" fill="#2a2118" text-anchor="middle" textLength="14.1" lengthAdjust="spacingAndGlyphs"  stroke="#2a2118" stroke-width=".3">LiF</text>
<text transform="translate(259.2,824.1) rotate(-90)" font-size="10.7" font-weight="normal" fill="#2a2118" text-anchor="middle" textLength="35.7" lengthAdjust="spacingAndGlyphs"  stroke="#2a2118" stroke-width=".3">Li<tspan dy="1.8" font-size="9.6">2</tspan><tspan dy="-1.8">CO</tspan><tspan dy="1.8" font-size="9.6">3</tspan></text>
<text transform="translate(268.4,686.2) rotate(-90)" font-size="10.7" font-weight="normal" fill="#2a2118" text-anchor="middle" textLength="69.0" lengthAdjust="spacingAndGlyphs"  stroke="#2a2118" stroke-width=".3">-(CH<tspan dy="1.8" font-size="9.6">2</tspan><tspan dy="-1.8">CH</tspan><tspan dy="1.8" font-size="9.6">2</tspan><tspan dy="-1.8">O)-</tspan></text>
<text transform="translate(279.9,764.6) rotate(-90)" font-size="10.7" font-weight="normal" fill="#2a2118" text-anchor="middle" textLength="36.3" lengthAdjust="spacingAndGlyphs"  stroke="#2a2118" stroke-width=".3">Li<tspan dy="1.8" font-size="9.6">2</tspan><tspan dy="-1.8">CO</tspan><tspan dy="1.8" font-size="9.6">3</tspan></text>
<text transform="translate(310.2,670.9) rotate(-90)" font-size="10.7" font-weight="normal" fill="#2a2118" text-anchor="middle" textLength="13.8" lengthAdjust="spacingAndGlyphs"  stroke="#2a2118" stroke-width=".3">LiF</text>
<text transform="translate(330.4,692.4) rotate(-90)" font-size="10.7" font-weight="normal" fill="#2a2118" text-anchor="middle" textLength="36.3" lengthAdjust="spacingAndGlyphs"  stroke="#2a2118" stroke-width=".3">Li<tspan dy="1.8" font-size="9.6">2</tspan><tspan dy="-1.8">CO</tspan><tspan dy="1.8" font-size="9.6">3</tspan></text>
<text transform="translate(357.5,672.8) rotate(-90)" font-size="10.7" font-weight="normal" fill="#2a2118" text-anchor="middle" textLength="14.0" lengthAdjust="spacingAndGlyphs"  stroke="#2a2118" stroke-width=".3">LiF</text>
<text transform="translate(396.8,668.3) rotate(-90)" font-size="10.7" font-weight="normal" fill="#2a2118" text-anchor="middle" textLength="28.1" lengthAdjust="spacingAndGlyphs"  stroke="#2a2118" stroke-width=".3">LiPF<tspan dy="2.2">x</tspan></text>
<text transform="translate(302.3,729.7) rotate(-90)" font-size="10.7" font-weight="normal" fill="#2a2118" text-anchor="middle" textLength="28.1" lengthAdjust="spacingAndGlyphs"  stroke="#2a2118" stroke-width=".3">LiPF<tspan dy="2.2">x</tspan></text>
<text transform="translate(356.0,740.5) rotate(-90)" font-size="10.7" font-weight="normal" fill="#2a2118" text-anchor="middle" textLength="67.6" lengthAdjust="spacingAndGlyphs"  stroke="#2a2118" stroke-width=".3">-(CH<tspan dy="1.8" font-size="9.6">2</tspan><tspan dy="-1.8">CH</tspan><tspan dy="1.8" font-size="9.6">2</tspan><tspan dy="-1.8">O)-</tspan></text>
<text transform="translate(392.5,733.5) rotate(-90)" font-size="10.7" font-weight="normal" fill="#2a2118" text-anchor="middle" textLength="58.7" lengthAdjust="spacingAndGlyphs"  stroke="#2a2118" stroke-width=".3">(ROCO<tspan dy="1.8" font-size="9.6">2</tspan><tspan dy="-1.8">Li)</tspan><tspan dy="1.8">2</tspan></text>
<text transform="translate(327.4,792.6) rotate(-90)" font-size="10.7" font-weight="normal" fill="#2a2118" text-anchor="middle" textLength="68.2" lengthAdjust="spacingAndGlyphs"  stroke="#2a2118" stroke-width=".3">-(CH<tspan dy="1.8" font-size="9.6">2</tspan><tspan dy="-1.8">CH</tspan><tspan dy="1.8" font-size="9.6">2</tspan><tspan dy="-1.8">O)-</tspan></text>
<text transform="translate(356.0,817.0) rotate(-90)" font-size="10.7" font-weight="normal" fill="#2a2118" text-anchor="middle" textLength="28.0" lengthAdjust="spacingAndGlyphs"  stroke="#2a2118" stroke-width=".3">LiPF<tspan dy="2.2">x</tspan></text>
<text transform="translate(387.9,818.1) rotate(-90)" font-size="10.7" font-weight="normal" fill="#2a2118" text-anchor="middle" textLength="68.2" lengthAdjust="spacingAndGlyphs"  stroke="#2a2118" stroke-width=".3">-(CH<tspan dy="1.8" font-size="9.6">2</tspan><tspan dy="-1.8">CH</tspan><tspan dy="1.8" font-size="9.6">2</tspan><tspan dy="-1.8">O)-</tspan></text>
<text transform="translate(289.8,844.7) rotate(-90)" font-size="10.7" font-weight="normal" fill="#2a2118" text-anchor="middle" textLength="14.0" lengthAdjust="spacingAndGlyphs"  stroke="#2a2118" stroke-width=".3">LiF</text>
<text transform="translate(553.6,674.4) rotate(-90)" font-size="9.2" font-weight="normal" fill="#1c2a36" text-anchor="middle" textLength="23.7" lengthAdjust="spacingAndGlyphs"  stroke="#1c2a36" stroke-width=".3">LiPF<tspan dy="1.9">x</tspan></text>
<text transform="translate(577.4,681.4) rotate(-90)" font-size="9.2" font-weight="normal" fill="#1c2a36" text-anchor="middle" textLength="59.3" lengthAdjust="spacingAndGlyphs"  stroke="#1c2a36" stroke-width=".3">-(CH<tspan dy="1.5" font-size="8.2">2</tspan><tspan dy="-1.5">CH</tspan><tspan dy="1.5" font-size="8.2">2</tspan><tspan dy="-1.5">O)-</tspan></text>
<text transform="translate(557.0,742.4) rotate(-90)" font-size="9.2" font-weight="normal" fill="#1c2a36" text-anchor="middle" textLength="58.8" lengthAdjust="spacingAndGlyphs"  stroke="#1c2a36" stroke-width=".3">-(CH<tspan dy="1.5" font-size="8.2">2</tspan><tspan dy="-1.5">CH</tspan><tspan dy="1.5" font-size="8.2">2</tspan><tspan dy="-1.5">O)-</tspan></text>
<text transform="translate(577.9,761.9) rotate(-90)" font-size="9.2" font-weight="normal" fill="#1c2a36" text-anchor="middle" textLength="56.7" lengthAdjust="spacingAndGlyphs"  stroke="#1c2a36" stroke-width=".3">-(CH<tspan dy="1.5" font-size="8.2">2</tspan><tspan dy="-1.5">CH</tspan><tspan dy="1.5" font-size="8.2">2</tspan><tspan dy="-1.5">O)-</tspan></text>
<text transform="translate(554.9,820.3) rotate(-90)" font-size="9.2" font-weight="normal" fill="#1c2a36" text-anchor="middle" textLength="58.8" lengthAdjust="spacingAndGlyphs"  stroke="#1c2a36" stroke-width=".3">-(CH<tspan dy="1.5" font-size="8.2">2</tspan><tspan dy="-1.5">CH</tspan><tspan dy="1.5" font-size="8.2">2</tspan><tspan dy="-1.5">O)-</tspan></text>
<text transform="translate(567.7,798.0) rotate(-90)" font-size="9.2" font-weight="normal" fill="#1c2a36" text-anchor="middle" textLength="11.5" lengthAdjust="spacingAndGlyphs"  stroke="#1c2a36" stroke-width=".3">LiF</text>
<text transform="translate(574.8,834.4) rotate(-90)" font-size="9.2" font-weight="normal" fill="#1c2a36" text-anchor="middle" textLength="23.0" lengthAdjust="spacingAndGlyphs"  stroke="#1c2a36" stroke-width=".3">LiPF<tspan dy="1.9">x</tspan></text>
</g>
</svg>
</div>
</body></html>
